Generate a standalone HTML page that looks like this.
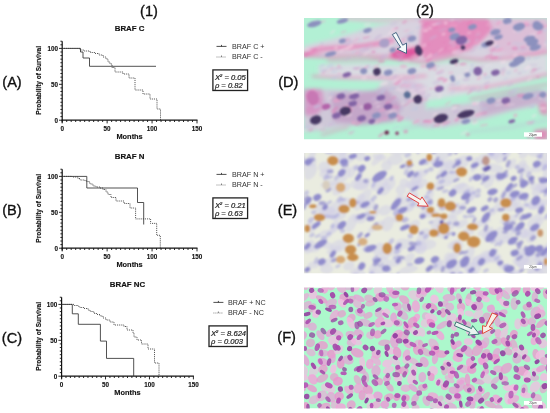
<!DOCTYPE html>
<html><head><meta charset="utf-8"><style>
html,body{margin:0;padding:0;background:#fff;width:550px;height:413px;overflow:hidden}
svg{display:block}
text{font-family:"Liberation Sans",Arial,sans-serif}
.tk{font-size:6.3px;font-weight:bold;fill:#111;stroke:#111;stroke-width:0.12px}
.ax{font-size:7.4px;font-weight:bold;fill:#111;stroke:#111;stroke-width:0.12px}
.yl{font-size:6.5px;font-weight:bold;fill:#111;stroke:#111;stroke-width:0.15px}
.ttl{font-size:7.9px;font-weight:bold;fill:#111;stroke:#111;stroke-width:0.15px}
.lg{font-size:7.2px;fill:#333}
.bx{font-size:7.6px;font-style:italic;fill:#222;stroke:#222;stroke-width:0.2px}
.big{font-size:14.6px;fill:#111;stroke:#111;stroke-width:0.35px}
</style></head><body>
<svg width="550" height="413" viewBox="0 0 550 413">
<clipPath id="cD"><rect x="304" y="18" width="243" height="121.5"/></clipPath>
<filter id="bD" x="-2%" y="-2%" width="104%" height="104%"><feGaussianBlur stdDeviation="0.9"/></filter>
<g clip-path="url(#cD)"><rect x="304" y="18" width="243" height="121.5" fill="#b2f0d4"/>
<filter id="rD" x="-5%" y="-5%" width="110%" height="110%"><feGaussianBlur stdDeviation="2"/></filter>
<g filter="url(#rD)">
<polygon points="304,46.06 333.54,38.68 363.08,29.82 392.63,22.43 426.01,18 548.02,18 548.02,53.45 510.79,57.88 481.25,59.36 451.71,54.93 426.01,62.31 392.63,57.88 363.08,54.04 333.54,55.81 304,57" fill="#decce2" fill-opacity="0.85"/>
<polygon points="422.17,18 487.16,18 493.07,29.82 481.25,41.63 469.44,50.5 445.8,55.81 426.01,59.36 419.21,50.5 420.69,32.77" fill="#e874b2" fill-opacity="0.72"/>
<polygon points="487.16,18 548.02,18 548.02,53.45 510.79,54.93 487.16,50.5 493.07,29.82" fill="#e0b2d2" fill-opacity="0.6"/>
<ellipse cx="405.92" cy="52.86" rx="16.25" ry="5.91" fill="#e04898" fill-opacity="0.9" transform="rotate(-8 405.92 52.86)"/>
<polyline points="304,53.45 321.73,49.02 342.4,47.54 363.08,46.06 380.81,43.11 392.63,40.16" fill="none" stroke="#e874b2" stroke-opacity="0.9" stroke-width="4.14" stroke-linecap="round" stroke-linejoin="round"/>
<polyline points="304,55.52 333.54,56.4 363.08,55.22 392.63,58.18 426.01,62.31 451.71,57 481.25,59.95 510.79,57.88 548.02,51.97" fill="none" stroke="#e874b2" stroke-opacity="0.8" stroke-width="2.66" stroke-linecap="round" stroke-linejoin="round"/>
<polyline points="342.4,18 377.86,20.36 422.17,18" fill="none" stroke="#ecacce" stroke-opacity="0.7" stroke-width="3.55" stroke-linecap="round" stroke-linejoin="round"/>
<polygon points="318.77,65.27 363.08,63.79 392.63,65.27 426.01,65.27 451.71,62.31 481.25,62.31 510.79,59.36 548.02,54.93 548.02,75.61 510.79,85.36 485.09,90.38 451.71,96.29 426.01,100.72 392.63,81.52 363.08,80.04 333.54,78.56 318.77,75.61" fill="#e4d6e6" fill-opacity="0.8"/>
<polyline points="312.86,76.2 348.31,77.68 392.63,77.68 426.01,75.9" fill="none" stroke="#e874b2" stroke-opacity="0.8" stroke-width="2.07" stroke-linecap="round" stroke-linejoin="round"/>
<polyline points="327.63,60.84 383.76,59.95" fill="none" stroke="#e874b2" stroke-opacity="0.7" stroke-width="1.77" stroke-linecap="round" stroke-linejoin="round"/>
<polyline points="449.64,88.9 485.09,87.42 514.64,81.52 548.02,74.13" fill="none" stroke="#e874b2" stroke-opacity="0.75" stroke-width="2.07" stroke-linecap="round" stroke-linejoin="round"/>
<polygon points="304,88.9 333.54,89.49 374.9,90.67 383.76,82.4 407.4,78.56 426.01,85.95 426.01,109.58 485.09,100.72 548.02,88.9 548.02,103.67 510.79,111.06 485.09,118.44 451.71,125.83 426.01,127.9 407.4,119.92 377.86,122.87 348.31,125.83 321.73,130.26 304,131.74" fill="#d6beda" fill-opacity="0.8"/>
<polygon points="304,88.9 321.73,88.9 324.68,106.63 315.82,115.49 304,115.49" fill="#d782be" fill-opacity="0.7"/>
<polygon points="330.59,94.22 363.08,91.86 386.72,88.9 402.97,106.63 392.63,121.4 363.08,124.94 333.54,121.99" fill="#bc8abe" fill-opacity="0.55"/>
<polygon points="481.25,100.72 510.79,93.33 540.34,88.9 546.25,100.72 510.79,109.58 481.25,115.49" fill="#bc96c3" fill-opacity="0.45"/>
<polyline points="470.32,99.24 514.64,89.79 548.02,84.47" fill="none" stroke="#e874b2" stroke-opacity="0.7" stroke-width="1.77" stroke-linecap="round" stroke-linejoin="round"/>
<polyline points="321.73,134.69 336.5,130.26 348.31,127.31" fill="none" stroke="#e874b2" stroke-opacity="0.8" stroke-width="1.48" stroke-linecap="round" stroke-linejoin="round"/>
<polyline points="401.49,128.78 426.01,124.35" fill="none" stroke="#beaad2" stroke-opacity="0.8" stroke-width="1.18" stroke-linecap="round" stroke-linejoin="round"/>
<polyline points="469.44,131.74 510.79,127.31 548.02,119.92" fill="none" stroke="#beaad2" stroke-opacity="0.7" stroke-width="1.18" stroke-linecap="round" stroke-linejoin="round"/>
<polygon points="538.27,103.67 548.02,102.19 548.02,115.49 540.34,114.01" fill="#e874b2" fill-opacity="0.7"/>
<polygon points="534.43,130.26 548.02,128.78 548.02,140.01 534.43,140.01" fill="#e874b2" fill-opacity="0.8"/>
</g>
<g filter="url(#bD)">
<ellipse cx="414.39" cy="86.3" rx="3.11" ry="1.9" fill="#bec8e1" fill-opacity="0.3" transform="rotate(-28 414.39 86.3)"/>
<ellipse cx="428.91" cy="94.85" rx="2.05" ry="1.24" fill="#c8b4d7" fill-opacity="0.38" transform="rotate(-35 428.91 94.85)"/>
<ellipse cx="521.27" cy="95.41" rx="4.67" ry="2.03" fill="#e478b4" fill-opacity="0.41" transform="rotate(-1 521.27 95.41)"/>
<ellipse cx="456.05" cy="119.47" rx="1.95" ry="1.11" fill="#eca0c8" fill-opacity="0.4" transform="rotate(-25 456.05 119.47)"/>
<ellipse cx="493.87" cy="57.81" rx="4.26" ry="1.5" fill="#e478b4" fill-opacity="0.32"/>
<ellipse cx="403.26" cy="85.26" rx="3.86" ry="1.26" fill="#eca0c8" fill-opacity="0.38" transform="rotate(-26 403.26 85.26)"/>
<ellipse cx="330.31" cy="53.49" rx="4.6" ry="1.89" fill="#eca0c8" fill-opacity="0.3" transform="rotate(-40 330.31 53.49)"/>
<ellipse cx="530.21" cy="24.38" rx="4.67" ry="1.36" fill="#bec8e1" fill-opacity="0.39" transform="rotate(-36 530.21 24.38)"/>
<ellipse cx="352.44" cy="100.34" rx="2.03" ry="1.28" fill="#f5e1eb" fill-opacity="0.44" transform="rotate(-14 352.44 100.34)"/>
<ellipse cx="332.79" cy="48.06" rx="1.8" ry="1.44" fill="#eca0c8" fill-opacity="0.29" transform="rotate(-9 332.79 48.06)"/>
<ellipse cx="440.48" cy="72.59" rx="4.68" ry="1.8" fill="#c8b4d7" fill-opacity="0.41" transform="rotate(-14 440.48 72.59)"/>
<ellipse cx="332.43" cy="69.34" rx="1.77" ry="1.91" fill="#c8b4d7" fill-opacity="0.33" transform="rotate(-3 332.43 69.34)"/>
<ellipse cx="519.92" cy="43.71" rx="4.71" ry="1.6" fill="#bec8e1" fill-opacity="0.28" transform="rotate(-4 519.92 43.71)"/>
<ellipse cx="545.41" cy="44.02" rx="1.8" ry="1.61" fill="#f5e1eb" fill-opacity="0.35" transform="rotate(-22 545.41 44.02)"/>
<ellipse cx="322.13" cy="43.47" rx="1.82" ry="1.32" fill="#c8b4d7" fill-opacity="0.36" transform="rotate(-1 322.13 43.47)"/>
<ellipse cx="538.05" cy="77.02" rx="2.17" ry="1.34" fill="#e478b4" fill-opacity="0.29"/>
<ellipse cx="350.31" cy="108.22" rx="2.35" ry="2.01" fill="#e478b4" fill-opacity="0.4" transform="rotate(-10 350.31 108.22)"/>
<ellipse cx="406.84" cy="30.67" rx="3.29" ry="1.19" fill="#eca0c8" fill-opacity="0.31" transform="rotate(-15 406.84 30.67)"/>
<ellipse cx="346.81" cy="105.89" rx="2.15" ry="1.45" fill="#eca0c8" fill-opacity="0.4" transform="rotate(-1 346.81 105.89)"/>
<ellipse cx="308.04" cy="50.84" rx="2.51" ry="0.94" fill="#bec8e1" fill-opacity="0.34" transform="rotate(-22 308.04 50.84)"/>
<ellipse cx="443.62" cy="34.05" rx="2.18" ry="1.42" fill="#f5e1eb" fill-opacity="0.41" transform="rotate(-19 443.62 34.05)"/>
<ellipse cx="472.67" cy="89.31" rx="3.52" ry="1.98" fill="#c8b4d7" fill-opacity="0.48" transform="rotate(-10 472.67 89.31)"/>
<ellipse cx="459.24" cy="76.84" rx="2.71" ry="2.07" fill="#f5e1eb" fill-opacity="0.36" transform="rotate(-36 459.24 76.84)"/>
<ellipse cx="393.74" cy="23.43" rx="4.12" ry="1.97" fill="#c8b4d7" fill-opacity="0.27" transform="rotate(-18 393.74 23.43)"/>
<ellipse cx="419.49" cy="27.48" rx="4.56" ry="0.92" fill="#bec8e1" fill-opacity="0.39" transform="rotate(-9 419.49 27.48)"/>
<ellipse cx="456.5" cy="64.65" rx="1.81" ry="0.97" fill="#e478b4" fill-opacity="0.41" transform="rotate(-35 456.5 64.65)"/>
<ellipse cx="398.79" cy="107.68" rx="3.12" ry="1.43" fill="#e478b4" fill-opacity="0.27" transform="rotate(-6 398.79 107.68)"/>
<ellipse cx="487.06" cy="21.63" rx="2.03" ry="0.91" fill="#e478b4" fill-opacity="0.37" transform="rotate(-33 487.06 21.63)"/>
<ellipse cx="306.76" cy="54.73" rx="2.37" ry="1.09" fill="#e478b4" fill-opacity="0.41" transform="rotate(-19 306.76 54.73)"/>
<ellipse cx="466.49" cy="42.22" rx="4.15" ry="1.78" fill="#bec8e1" fill-opacity="0.47" transform="rotate(-28 466.49 42.22)"/>
<ellipse cx="397.8" cy="89.14" rx="2.39" ry="1.05" fill="#f5e1eb" fill-opacity="0.46" transform="rotate(-18 397.8 89.14)"/>
<ellipse cx="511.1" cy="104.77" rx="4.2" ry="1.02" fill="#f5e1eb" fill-opacity="0.32" transform="rotate(-10 511.1 104.77)"/>
<ellipse cx="356.24" cy="68.51" rx="3.23" ry="1.26" fill="#e478b4" fill-opacity="0.36" transform="rotate(-1 356.24 68.51)"/>
<ellipse cx="322.22" cy="21.84" rx="3.78" ry="1.22" fill="#eca0c8" fill-opacity="0.33" transform="rotate(-18 322.22 21.84)"/>
<ellipse cx="497.14" cy="20.33" rx="2.97" ry="1.11" fill="#c8b4d7" fill-opacity="0.31" transform="rotate(-23 497.14 20.33)"/>
<ellipse cx="412.95" cy="94.86" rx="4.6" ry="1.7" fill="#f5e1eb" fill-opacity="0.46" transform="rotate(-28 412.95 94.86)"/>
<ellipse cx="366.48" cy="105.14" rx="3.35" ry="0.93" fill="#bec8e1" fill-opacity="0.32" transform="rotate(-26 366.48 105.14)"/>
<ellipse cx="388.37" cy="103.08" rx="3.25" ry="2.06" fill="#e478b4" fill-opacity="0.35" transform="rotate(-30 388.37 103.08)"/>
<ellipse cx="531.57" cy="106.14" rx="3.1" ry="1.12" fill="#c8b4d7" fill-opacity="0.34" transform="rotate(-40 531.57 106.14)"/>
<ellipse cx="442.8" cy="125.28" rx="3.14" ry="1.66" fill="#f5e1eb" fill-opacity="0.27" transform="rotate(-27 442.8 125.28)"/>
<ellipse cx="515.36" cy="115.4" rx="2.4" ry="1.95" fill="#eca0c8" fill-opacity="0.49" transform="rotate(-35 515.36 115.4)"/>
<ellipse cx="435.03" cy="114.48" rx="2.55" ry="1.74" fill="#f5e1eb" fill-opacity="0.34" transform="rotate(-39 435.03 114.48)"/>
<ellipse cx="324.2" cy="71.79" rx="3.02" ry="1.21" fill="#e478b4" fill-opacity="0.3" transform="rotate(-39 324.2 71.79)"/>
<ellipse cx="515.7" cy="70.33" rx="2.28" ry="1.28" fill="#eca0c8" fill-opacity="0.37" transform="rotate(-32 515.7 70.33)"/>
<ellipse cx="469.42" cy="71.7" rx="3.48" ry="1.7" fill="#bec8e1" fill-opacity="0.36" transform="rotate(-26 469.42 71.7)"/>
<ellipse cx="440.35" cy="119.41" rx="3.66" ry="1.5" fill="#e478b4" fill-opacity="0.31" transform="rotate(-5 440.35 119.41)"/>
<ellipse cx="467.81" cy="134.49" rx="2.39" ry="1.89" fill="#e478b4" fill-opacity="0.38" transform="rotate(-6 467.81 134.49)"/>
<ellipse cx="443.82" cy="42.52" rx="2.11" ry="0.89" fill="#e478b4" fill-opacity="0.26" transform="rotate(-16 443.82 42.52)"/>
<ellipse cx="499.47" cy="86.67" rx="2.05" ry="1.08" fill="#bec8e1" fill-opacity="0.36" transform="rotate(-6 499.47 86.67)"/>
<ellipse cx="364.1" cy="78.15" rx="3.05" ry="1.85" fill="#f5e1eb" fill-opacity="0.38" transform="rotate(-10 364.1 78.15)"/>
<ellipse cx="330.5" cy="69.19" rx="4.51" ry="1.04" fill="#eca0c8" fill-opacity="0.26" transform="rotate(-39 330.5 69.19)"/>
<ellipse cx="480.57" cy="47.83" rx="2.08" ry="1.75" fill="#bec8e1" fill-opacity="0.46" transform="rotate(-33 480.57 47.83)"/>
<ellipse cx="456.15" cy="105.57" rx="4.37" ry="0.91" fill="#e478b4" fill-opacity="0.35"/>
<ellipse cx="433.17" cy="37.49" rx="4.32" ry="1.52" fill="#c8b4d7" fill-opacity="0.38" transform="rotate(-27 433.17 37.49)"/>
<ellipse cx="511.72" cy="92.63" rx="4.48" ry="1.63" fill="#c8b4d7" fill-opacity="0.48" transform="rotate(-18 511.72 92.63)"/>
<ellipse cx="381.08" cy="56.43" rx="4.07" ry="1.12" fill="#c8b4d7" fill-opacity="0.28" transform="rotate(-34 381.08 56.43)"/>
<ellipse cx="362.41" cy="106.65" rx="2.92" ry="1.4" fill="#f5e1eb" fill-opacity="0.39" transform="rotate(-14 362.41 106.65)"/>
<ellipse cx="475.99" cy="42.48" rx="2.06" ry="1.56" fill="#eca0c8" fill-opacity="0.48" transform="rotate(-18 475.99 42.48)"/>
<ellipse cx="540.3" cy="32.08" rx="3.65" ry="1.29" fill="#e478b4" fill-opacity="0.45" transform="rotate(-28 540.3 32.08)"/>
<ellipse cx="421.63" cy="20.97" rx="3.58" ry="1.96" fill="#e478b4" fill-opacity="0.29" transform="rotate(-10 421.63 20.97)"/>
<ellipse cx="349.03" cy="42.88" rx="4.7" ry="1.98" fill="#c8b4d7" fill-opacity="0.39" transform="rotate(-34 349.03 42.88)"/>
<ellipse cx="336.81" cy="101.08" rx="4.03" ry="1.27" fill="#eca0c8" fill-opacity="0.36" transform="rotate(-11 336.81 101.08)"/>
<ellipse cx="390.52" cy="43.63" rx="1.81" ry="1.71" fill="#f5e1eb" fill-opacity="0.3" transform="rotate(-28 390.52 43.63)"/>
<ellipse cx="414.77" cy="108.21" rx="4.5" ry="1.6" fill="#bec8e1" fill-opacity="0.38" transform="rotate(-34 414.77 108.21)"/>
<ellipse cx="307.76" cy="126.98" rx="3.46" ry="1.11" fill="#bec8e1" fill-opacity="0.5" transform="rotate(-3 307.76 126.98)"/>
<ellipse cx="500.39" cy="49.51" rx="3.97" ry="1.81" fill="#eca0c8" fill-opacity="0.28" transform="rotate(-15 500.39 49.51)"/>
<ellipse cx="384.5" cy="83.75" rx="4.04" ry="1.79" fill="#f5e1eb" fill-opacity="0.3" transform="rotate(-15 384.5 83.75)"/>
<ellipse cx="349.1" cy="115.28" rx="3.16" ry="0.9" fill="#f5e1eb" fill-opacity="0.5" transform="rotate(-18 349.1 115.28)"/>
<ellipse cx="524.28" cy="24.05" rx="4.56" ry="1.67" fill="#f5e1eb" fill-opacity="0.3" transform="rotate(-19 524.28 24.05)"/>
<ellipse cx="403.1" cy="40.2" rx="2.92" ry="2.07" fill="#eca0c8" fill-opacity="0.43" transform="rotate(-27 403.1 40.2)"/>
<ellipse cx="454.17" cy="108.14" rx="3.08" ry="1.48" fill="#f5e1eb" fill-opacity="0.41" transform="rotate(-28 454.17 108.14)"/>
<ellipse cx="306.63" cy="49.55" rx="4.45" ry="1.54" fill="#f5e1eb" fill-opacity="0.35" transform="rotate(-8 306.63 49.55)"/>
<ellipse cx="431.05" cy="121.27" rx="3.66" ry="1.84" fill="#eca0c8" fill-opacity="0.39" transform="rotate(-36 431.05 121.27)"/>
<ellipse cx="533.04" cy="65.08" rx="4.3" ry="1.53" fill="#c8b4d7" fill-opacity="0.26" transform="rotate(-2 533.04 65.08)"/>
<ellipse cx="534.66" cy="69.33" rx="2.95" ry="1.26" fill="#e478b4" fill-opacity="0.32" transform="rotate(-7 534.66 69.33)"/>
<ellipse cx="463.86" cy="86.4" rx="3.73" ry="1.77" fill="#f5e1eb" fill-opacity="0.25" transform="rotate(-39 463.86 86.4)"/>
<ellipse cx="488.15" cy="65.58" rx="3.98" ry="0.95" fill="#f5e1eb" fill-opacity="0.27" transform="rotate(-20 488.15 65.58)"/>
<ellipse cx="524.97" cy="70.4" rx="2.51" ry="1.78" fill="#bec8e1" fill-opacity="0.38" transform="rotate(-38 524.97 70.4)"/>
<ellipse cx="532.71" cy="106.18" rx="2.2" ry="2.02" fill="#bec8e1" fill-opacity="0.4" transform="rotate(-25 532.71 106.18)"/>
<ellipse cx="332.08" cy="94.16" rx="2.12" ry="1.9" fill="#bec8e1" fill-opacity="0.38" transform="rotate(-18 332.08 94.16)"/>
<ellipse cx="334.34" cy="72.03" rx="3.12" ry="1.2" fill="#bec8e1" fill-opacity="0.42" transform="rotate(-3 334.34 72.03)"/>
<ellipse cx="392.83" cy="108.76" rx="4.59" ry="1.75" fill="#c8b4d7" fill-opacity="0.37" transform="rotate(-25 392.83 108.76)"/>
<ellipse cx="426.73" cy="55.65" rx="3.62" ry="1.31" fill="#e478b4" fill-opacity="0.4" transform="rotate(-23 426.73 55.65)"/>
<ellipse cx="480.93" cy="103.29" rx="3.64" ry="1.78" fill="#c8b4d7" fill-opacity="0.49" transform="rotate(-28 480.93 103.29)"/>
<ellipse cx="426.53" cy="97.66" rx="4.37" ry="0.93" fill="#c8b4d7" fill-opacity="0.25" transform="rotate(-37 426.53 97.66)"/>
<ellipse cx="358.31" cy="51.95" rx="4.47" ry="1.08" fill="#eca0c8" fill-opacity="0.41" transform="rotate(-25 358.31 51.95)"/>
<ellipse cx="395.06" cy="76.39" rx="2.77" ry="1.47" fill="#c8b4d7" fill-opacity="0.46" transform="rotate(-32 395.06 76.39)"/>
<ellipse cx="456.2" cy="111.79" rx="3.09" ry="1.77" fill="#c8b4d7" fill-opacity="0.45" transform="rotate(-16 456.2 111.79)"/>
<ellipse cx="394.03" cy="97.75" rx="2.73" ry="1.53" fill="#e478b4" fill-opacity="0.36" transform="rotate(-29 394.03 97.75)"/>
<ellipse cx="394.11" cy="29.84" rx="2" ry="0.98" fill="#f5e1eb" fill-opacity="0.39" transform="rotate(-4 394.11 29.84)"/>
<ellipse cx="502.95" cy="74.55" rx="2" ry="1.14" fill="#eca0c8" fill-opacity="0.27" transform="rotate(-2 502.95 74.55)"/>
<ellipse cx="378.13" cy="106.46" rx="2.61" ry="1.06" fill="#f5e1eb" fill-opacity="0.41" transform="rotate(-18 378.13 106.46)"/>
<ellipse cx="411.61" cy="90.57" rx="3.07" ry="1.84" fill="#f5e1eb" fill-opacity="0.36" transform="rotate(-21 411.61 90.57)"/>
<ellipse cx="429.95" cy="28.28" rx="1.84" ry="1.69" fill="#f5e1eb" fill-opacity="0.35" transform="rotate(-3 429.95 28.28)"/>
<ellipse cx="435.91" cy="120.05" rx="2.3" ry="0.99" fill="#e478b4" fill-opacity="0.47" transform="rotate(-11 435.91 120.05)"/>
<ellipse cx="436.78" cy="87.24" rx="3.7" ry="1.84" fill="#eca0c8" fill-opacity="0.4" transform="rotate(-36 436.78 87.24)"/>
<ellipse cx="370.77" cy="30.86" rx="2.02" ry="1.64" fill="#f5e1eb" fill-opacity="0.27" transform="rotate(-31 370.77 30.86)"/>
<ellipse cx="503.18" cy="69.49" rx="3.22" ry="1.96" fill="#c8b4d7" fill-opacity="0.44" transform="rotate(-19 503.18 69.49)"/>
<ellipse cx="400.24" cy="59.22" rx="3.23" ry="1.52" fill="#c8b4d7" fill-opacity="0.43" transform="rotate(-36 400.24 59.22)"/>
<ellipse cx="527.27" cy="68.1" rx="4.29" ry="1.84" fill="#f5e1eb" fill-opacity="0.47" transform="rotate(-35 527.27 68.1)"/>
<ellipse cx="537.72" cy="96.12" rx="2.84" ry="0.9" fill="#e478b4" fill-opacity="0.36" transform="rotate(-33 537.72 96.12)"/>
<ellipse cx="406.6" cy="35.84" rx="4.7" ry="1.33" fill="#c8b4d7" fill-opacity="0.33" transform="rotate(-30 406.6 35.84)"/>
<ellipse cx="399" cy="82.55" rx="4.64" ry="0.96" fill="#f5e1eb" fill-opacity="0.43" transform="rotate(-21 399 82.55)"/>
<ellipse cx="378.06" cy="36.97" rx="4.47" ry="1.78" fill="#c8b4d7" fill-opacity="0.4" transform="rotate(-39 378.06 36.97)"/>
<ellipse cx="525.88" cy="22.44" rx="2.36" ry="1.31" fill="#eca0c8" fill-opacity="0.31" transform="rotate(-3 525.88 22.44)"/>
<ellipse cx="479.02" cy="90.57" rx="3.08" ry="1.94" fill="#c8b4d7" fill-opacity="0.29" transform="rotate(-15 479.02 90.57)"/>
<ellipse cx="488.84" cy="56.03" rx="4.56" ry="1.54" fill="#e478b4" fill-opacity="0.37" transform="rotate(-24 488.84 56.03)"/>
<ellipse cx="492.3" cy="29.28" rx="2.95" ry="1.14" fill="#c8b4d7" fill-opacity="0.45" transform="rotate(-32 492.3 29.28)"/>
<ellipse cx="397.94" cy="82.37" rx="4.06" ry="1.82" fill="#e478b4" fill-opacity="0.41" transform="rotate(-37 397.94 82.37)"/>
<ellipse cx="394.67" cy="115.21" rx="3.56" ry="1.07" fill="#bec8e1" fill-opacity="0.44" transform="rotate(-30 394.67 115.21)"/>
<ellipse cx="335.99" cy="108.49" rx="2.56" ry="1.52" fill="#e478b4" fill-opacity="0.39" transform="rotate(-31 335.99 108.49)"/>
<ellipse cx="347.51" cy="42.93" rx="4.2" ry="0.98" fill="#c8b4d7" fill-opacity="0.4" transform="rotate(-23 347.51 42.93)"/>
<ellipse cx="432.83" cy="126.55" rx="2.02" ry="1.77" fill="#bec8e1" fill-opacity="0.46" transform="rotate(-6 432.83 126.55)"/>
<ellipse cx="378.08" cy="114.3" rx="2.34" ry="1.69" fill="#bec8e1" fill-opacity="0.3" transform="rotate(-12 378.08 114.3)"/>
<ellipse cx="436.59" cy="82.14" rx="4.57" ry="2.03" fill="#c8b4d7" fill-opacity="0.33" transform="rotate(-20 436.59 82.14)"/>
<ellipse cx="322.55" cy="55.3" rx="3.74" ry="0.97" fill="#bec8e1" fill-opacity="0.42" transform="rotate(-36 322.55 55.3)"/>
<ellipse cx="329.81" cy="66.1" rx="3.98" ry="1.81" fill="#bec8e1" fill-opacity="0.41" transform="rotate(-33 329.81 66.1)"/>
<ellipse cx="354.45" cy="93.17" rx="3.63" ry="1.99" fill="#f5e1eb" fill-opacity="0.49" transform="rotate(-21 354.45 93.17)"/>
<ellipse cx="488.21" cy="85.79" rx="2.53" ry="1.12" fill="#eca0c8" fill-opacity="0.33" transform="rotate(-33 488.21 85.79)"/>
<ellipse cx="384.93" cy="118.89" rx="2.07" ry="1.62" fill="#eca0c8" fill-opacity="0.42" transform="rotate(-32 384.93 118.89)"/>
<ellipse cx="476.84" cy="39.95" rx="1.88" ry="1.43" fill="#bec8e1" fill-opacity="0.28" transform="rotate(-35 476.84 39.95)"/>
<ellipse cx="530.18" cy="34.97" rx="4.04" ry="1.86" fill="#c8b4d7" fill-opacity="0.37" transform="rotate(-16 530.18 34.97)"/>
<ellipse cx="528.82" cy="94.01" rx="3.58" ry="1.26" fill="#bec8e1" fill-opacity="0.42" transform="rotate(-25 528.82 94.01)"/>
<ellipse cx="452.51" cy="20.26" rx="2.33" ry="1.25" fill="#f5e1eb" fill-opacity="0.28" transform="rotate(-12 452.51 20.26)"/>
<ellipse cx="396.14" cy="80.15" rx="4.21" ry="1.61" fill="#f5e1eb" fill-opacity="0.31" transform="rotate(-30 396.14 80.15)"/>
<ellipse cx="435.49" cy="54.42" rx="2.81" ry="1.48" fill="#c8b4d7" fill-opacity="0.39" transform="rotate(-31 435.49 54.42)"/>
<ellipse cx="352.36" cy="131.9" rx="3.45" ry="0.92" fill="#c8b4d7" fill-opacity="0.44" transform="rotate(-28 352.36 131.9)"/>
<ellipse cx="337.25" cy="76.31" rx="3.83" ry="1.28" fill="#bec8e1" fill-opacity="0.32" transform="rotate(-17 337.25 76.31)"/>
<ellipse cx="519.46" cy="73.18" rx="2.48" ry="1.56" fill="#c8b4d7" fill-opacity="0.39" transform="rotate(-6 519.46 73.18)"/>
<ellipse cx="440.73" cy="50.26" rx="3.55" ry="1.03" fill="#f5e1eb" fill-opacity="0.32" transform="rotate(-40 440.73 50.26)"/>
<ellipse cx="522.89" cy="47.39" rx="2.85" ry="1.08" fill="#e478b4" fill-opacity="0.39" transform="rotate(-2 522.89 47.39)"/>
<ellipse cx="379.07" cy="99.9" rx="3.59" ry="1.64" fill="#bec8e1" fill-opacity="0.29" transform="rotate(-39 379.07 99.9)"/>
<ellipse cx="404.54" cy="22.03" rx="2.91" ry="1.56" fill="#e478b4" fill-opacity="0.33" transform="rotate(-29 404.54 22.03)"/>
<ellipse cx="336.08" cy="47.79" rx="1.93" ry="1.81" fill="#f5e1eb" fill-opacity="0.35" transform="rotate(-31 336.08 47.79)"/>
<ellipse cx="425.41" cy="30.51" rx="2.99" ry="1.62" fill="#f5e1eb" fill-opacity="0.44" transform="rotate(-4 425.41 30.51)"/>
<ellipse cx="487.43" cy="77.27" rx="4.25" ry="1.9" fill="#bec8e1" fill-opacity="0.46" transform="rotate(-14 487.43 77.27)"/>
<ellipse cx="332.64" cy="31.99" rx="3.32" ry="1.4" fill="#f5e1eb" fill-opacity="0.33" transform="rotate(-39 332.64 31.99)"/>
<ellipse cx="317.34" cy="106.53" rx="3.94" ry="1.59" fill="#bec8e1" fill-opacity="0.47" transform="rotate(-21 317.34 106.53)"/>
<ellipse cx="518.02" cy="47.81" rx="2.49" ry="1.92" fill="#bec8e1" fill-opacity="0.37" transform="rotate(-37 518.02 47.81)"/>
<ellipse cx="464.28" cy="132.72" rx="4.33" ry="1.38" fill="#f5e1eb" fill-opacity="0.31" transform="rotate(-30 464.28 132.72)"/>
<ellipse cx="486.19" cy="87.16" rx="2.06" ry="1.82" fill="#eca0c8" fill-opacity="0.47" transform="rotate(-33 486.19 87.16)"/>
<ellipse cx="444.53" cy="73.29" rx="2.49" ry="1.24" fill="#f5e1eb" fill-opacity="0.29" transform="rotate(-20 444.53 73.29)"/>
<ellipse cx="411.56" cy="72.91" rx="2.95" ry="1.31" fill="#e478b4" fill-opacity="0.31" transform="rotate(-3 411.56 72.91)"/>
<ellipse cx="378.72" cy="73.5" rx="2.68" ry="1.48" fill="#f5e1eb" fill-opacity="0.47" transform="rotate(-10 378.72 73.5)"/>
<ellipse cx="353.46" cy="122.81" rx="2.35" ry="1.88" fill="#eca0c8" fill-opacity="0.47" transform="rotate(-18 353.46 122.81)"/>
<ellipse cx="307.91" cy="95.52" rx="2.37" ry="1.63" fill="#e478b4" fill-opacity="0.49" transform="rotate(-28 307.91 95.52)"/>
<ellipse cx="542.23" cy="97.32" rx="3.92" ry="1.26" fill="#f5e1eb" fill-opacity="0.47" transform="rotate(-23 542.23 97.32)"/>
<ellipse cx="478.02" cy="34.46" rx="3" ry="1.09" fill="#bec8e1" fill-opacity="0.28" transform="rotate(-21 478.02 34.46)"/>
<ellipse cx="472.65" cy="50.81" rx="3.25" ry="1.24" fill="#c8b4d7" fill-opacity="0.34" transform="rotate(-23 472.65 50.81)"/>
<ellipse cx="359.88" cy="54.72" rx="2.59" ry="1.64" fill="#c8b4d7" fill-opacity="0.37" transform="rotate(-35 359.88 54.72)"/>
<ellipse cx="322.61" cy="129.9" rx="3.34" ry="0.94" fill="#eca0c8" fill-opacity="0.4" transform="rotate(-2 322.61 129.9)"/>
<ellipse cx="435.1" cy="69.66" rx="2.03" ry="1.22" fill="#e478b4" fill-opacity="0.31" transform="rotate(-28 435.1 69.66)"/>
<ellipse cx="416.65" cy="109.58" rx="1.78" ry="1.94" fill="#bec8e1" fill-opacity="0.29" transform="rotate(-37 416.65 109.58)"/>
<ellipse cx="439.68" cy="96.69" rx="2.72" ry="1.46" fill="#f5e1eb" fill-opacity="0.38" transform="rotate(-38 439.68 96.69)"/>
<ellipse cx="427.38" cy="121.15" rx="3.97" ry="1.51" fill="#e478b4" fill-opacity="0.44" transform="rotate(-2 427.38 121.15)"/>
<ellipse cx="344.31" cy="92.19" rx="3.75" ry="1.53" fill="#c8b4d7" fill-opacity="0.45" transform="rotate(-24 344.31 92.19)"/>
<ellipse cx="497.05" cy="46.79" rx="3.38" ry="1.89" fill="#bec8e1" fill-opacity="0.37" transform="rotate(-2 497.05 46.79)"/>
<ellipse cx="312.62" cy="90.82" rx="3.46" ry="1.92" fill="#eca0c8" fill-opacity="0.33" transform="rotate(-29 312.62 90.82)"/>
<ellipse cx="452.44" cy="92.25" rx="3.26" ry="1.74" fill="#bec8e1" fill-opacity="0.27" transform="rotate(-39 452.44 92.25)"/>
<ellipse cx="497.17" cy="47.04" rx="1.93" ry="1.39" fill="#c8b4d7" fill-opacity="0.45" transform="rotate(-20 497.17 47.04)"/>
<ellipse cx="484.2" cy="113.25" rx="3.24" ry="1.65" fill="#e478b4" fill-opacity="0.29" transform="rotate(-8 484.2 113.25)"/>
<ellipse cx="366.18" cy="37.5" rx="4.1" ry="0.96" fill="#e478b4" fill-opacity="0.37" transform="rotate(-14 366.18 37.5)"/>
<ellipse cx="474.48" cy="103.87" rx="2.15" ry="1.78" fill="#eca0c8" fill-opacity="0.5" transform="rotate(-2 474.48 103.87)"/>
<ellipse cx="339.28" cy="73.55" rx="1.78" ry="1.37" fill="#eca0c8" fill-opacity="0.29" transform="rotate(-7 339.28 73.55)"/>
<ellipse cx="399.88" cy="54.37" rx="4.54" ry="2.03" fill="#bec8e1" fill-opacity="0.31" transform="rotate(-1 399.88 54.37)"/>
<ellipse cx="514.93" cy="90.07" rx="4.31" ry="1.99" fill="#bec8e1" fill-opacity="0.35" transform="rotate(-27 514.93 90.07)"/>
<ellipse cx="494.66" cy="44.28" rx="2.5" ry="1.82" fill="#f5e1eb" fill-opacity="0.37" transform="rotate(-30 494.66 44.28)"/>
<ellipse cx="401.66" cy="90.46" rx="3.17" ry="1.47" fill="#f5e1eb" fill-opacity="0.42"/>
<ellipse cx="514.52" cy="42.96" rx="3.01" ry="0.94" fill="#bec8e1" fill-opacity="0.34" transform="rotate(-23 514.52 42.96)"/>
<ellipse cx="368.01" cy="65.94" rx="2.57" ry="1.31" fill="#c8b4d7" fill-opacity="0.43" transform="rotate(-31 368.01 65.94)"/>
<ellipse cx="493.57" cy="34.73" rx="3.91" ry="1.96" fill="#c8b4d7" fill-opacity="0.5" transform="rotate(-39 493.57 34.73)"/>
<ellipse cx="508.69" cy="72.9" rx="2.73" ry="1.8" fill="#bec8e1" fill-opacity="0.42" transform="rotate(-7 508.69 72.9)"/>
<ellipse cx="377.75" cy="92.17" rx="1.89" ry="1.06" fill="#bec8e1" fill-opacity="0.28" transform="rotate(-2 377.75 92.17)"/>
<ellipse cx="354.88" cy="68.11" rx="3.38" ry="1.05" fill="#bec8e1" fill-opacity="0.32" transform="rotate(-5 354.88 68.11)"/>
<ellipse cx="353.98" cy="52.2" rx="2.97" ry="1.34" fill="#bec8e1" fill-opacity="0.31" transform="rotate(-18 353.98 52.2)"/>
<ellipse cx="442.1" cy="116.68" rx="3.72" ry="0.97" fill="#f5e1eb" fill-opacity="0.39" transform="rotate(-27 442.1 116.68)"/>
<ellipse cx="390.23" cy="32.9" rx="2.47" ry="1.63" fill="#f5e1eb" fill-opacity="0.45" transform="rotate(-35 390.23 32.9)"/>
<ellipse cx="333.24" cy="78.14" rx="2.91" ry="1.27" fill="#bec8e1" fill-opacity="0.43" transform="rotate(-9 333.24 78.14)"/>
<ellipse cx="431" cy="108.63" rx="3.19" ry="1.19" fill="#c8b4d7" fill-opacity="0.33" transform="rotate(-5 431 108.63)"/>
<ellipse cx="376.55" cy="117.46" rx="3.67" ry="1.34" fill="#c8b4d7" fill-opacity="0.49" transform="rotate(-19 376.55 117.46)"/>
<ellipse cx="392.49" cy="88.3" rx="4.05" ry="1.63" fill="#c8b4d7" fill-opacity="0.39" transform="rotate(-1 392.49 88.3)"/>
<ellipse cx="453.54" cy="25.76" rx="4.22" ry="1.93" fill="#eca0c8" fill-opacity="0.49" transform="rotate(-16 453.54 25.76)"/>
<ellipse cx="397.94" cy="116.07" rx="2.58" ry="1.47" fill="#e478b4" fill-opacity="0.49" transform="rotate(-10 397.94 116.07)"/>
<ellipse cx="340.57" cy="41.48" rx="2.54" ry="1.15" fill="#c8b4d7" fill-opacity="0.25" transform="rotate(-7 340.57 41.48)"/>
<ellipse cx="436.7" cy="66.06" rx="3.39" ry="1.89" fill="#c8b4d7" fill-opacity="0.27" transform="rotate(-5 436.7 66.06)"/>
<ellipse cx="498.38" cy="50.22" rx="4.39" ry="1.26" fill="#eca0c8" fill-opacity="0.42" transform="rotate(-27 498.38 50.22)"/>
<ellipse cx="342.91" cy="93.84" rx="4.15" ry="1.23" fill="#bec8e1" fill-opacity="0.32" transform="rotate(-14 342.91 93.84)"/>
<ellipse cx="486.76" cy="83.15" rx="3.68" ry="1.31" fill="#c8b4d7" fill-opacity="0.48" transform="rotate(-29 486.76 83.15)"/>
<ellipse cx="483.97" cy="125.06" rx="4.39" ry="1.25" fill="#eca0c8" fill-opacity="0.38" transform="rotate(-12 483.97 125.06)"/>
<ellipse cx="469.75" cy="22.93" rx="4.33" ry="1.91" fill="#e478b4" fill-opacity="0.34" transform="rotate(-37 469.75 22.93)"/>
<ellipse cx="400.97" cy="108.22" rx="2.52" ry="1.64" fill="#bec8e1" fill-opacity="0.43" transform="rotate(-17 400.97 108.22)"/>
<ellipse cx="406.63" cy="104.25" rx="3.96" ry="1.2" fill="#e478b4" fill-opacity="0.28" transform="rotate(-30 406.63 104.25)"/>
<ellipse cx="395.98" cy="99.67" rx="3.7" ry="2.04" fill="#c8b4d7" fill-opacity="0.4" transform="rotate(-10 395.98 99.67)"/>
<ellipse cx="471.78" cy="69.16" rx="2.91" ry="1.69" fill="#bec8e1" fill-opacity="0.26" transform="rotate(-32 471.78 69.16)"/>
<ellipse cx="478.05" cy="32.44" rx="2.35" ry="1.31" fill="#eca0c8" fill-opacity="0.5" transform="rotate(-6 478.05 32.44)"/>
<ellipse cx="436.4" cy="76.94" rx="1.97" ry="1.4" fill="#f5e1eb" fill-opacity="0.31" transform="rotate(-22 436.4 76.94)"/>
<ellipse cx="480.15" cy="67.8" rx="4.67" ry="1.35" fill="#c8b4d7" fill-opacity="0.39" transform="rotate(-27 480.15 67.8)"/>
<ellipse cx="499.26" cy="35.92" rx="4.24" ry="1.54" fill="#c8b4d7" fill-opacity="0.47" transform="rotate(-24 499.26 35.92)"/>
<ellipse cx="409.57" cy="36.53" rx="2.57" ry="1.56" fill="#eca0c8" fill-opacity="0.41" transform="rotate(-23 409.57 36.53)"/>
<ellipse cx="370.86" cy="45.76" rx="2.37" ry="1.54" fill="#bec8e1" fill-opacity="0.26" transform="rotate(-5 370.86 45.76)"/>
<ellipse cx="319.71" cy="126.91" rx="3.75" ry="0.89" fill="#f5e1eb" fill-opacity="0.37" transform="rotate(-19 319.71 126.91)"/>
<ellipse cx="547.32" cy="42.67" rx="3.2" ry="1.38" fill="#bec8e1" fill-opacity="0.35" transform="rotate(-5 547.32 42.67)"/>
<ellipse cx="456.03" cy="51.81" rx="4.33" ry="2.06" fill="#f5e1eb" fill-opacity="0.39" transform="rotate(-12 456.03 51.81)"/>
<ellipse cx="533.57" cy="23.73" rx="4.56" ry="1.52" fill="#eca0c8" fill-opacity="0.32" transform="rotate(-36 533.57 23.73)"/>
<ellipse cx="392.95" cy="111.56" rx="4.17" ry="1.82" fill="#f5e1eb" fill-opacity="0.35" transform="rotate(-9 392.95 111.56)"/>
<ellipse cx="544.59" cy="30.3" rx="2.96" ry="1.72" fill="#bec8e1" fill-opacity="0.47" transform="rotate(-24 544.59 30.3)"/>
<ellipse cx="456.2" cy="19.16" rx="2.44" ry="1.35" fill="#c8b4d7" fill-opacity="0.38" transform="rotate(-17 456.2 19.16)"/>
<ellipse cx="413.76" cy="56.09" rx="4.45" ry="1.27" fill="#eca0c8" fill-opacity="0.32" transform="rotate(-34 413.76 56.09)"/>
<ellipse cx="356.13" cy="39.97" rx="3.97" ry="1.53" fill="#eca0c8" fill-opacity="0.29" transform="rotate(-27 356.13 39.97)"/>
<ellipse cx="402.43" cy="57.23" rx="4.25" ry="1.79" fill="#e478b4" fill-opacity="0.47" transform="rotate(-39 402.43 57.23)"/>
<ellipse cx="382.3" cy="110.01" rx="3.48" ry="1.27" fill="#eca0c8" fill-opacity="0.49" transform="rotate(-10 382.3 110.01)"/>
<ellipse cx="357.59" cy="67.81" rx="4.17" ry="0.97" fill="#c8b4d7" fill-opacity="0.49" transform="rotate(-16 357.59 67.81)"/>
<ellipse cx="382.63" cy="40.38" rx="3.32" ry="0.9" fill="#f5e1eb" fill-opacity="0.42"/>
<ellipse cx="526.31" cy="24.75" rx="3.59" ry="1.94" fill="#e478b4" fill-opacity="0.36"/>
<ellipse cx="484.25" cy="108.79" rx="3.74" ry="1.38" fill="#bec8e1" fill-opacity="0.38" transform="rotate(-16 484.25 108.79)"/>
<ellipse cx="395.62" cy="84.03" rx="3.29" ry="0.92" fill="#eca0c8" fill-opacity="0.36"/>
<ellipse cx="383.24" cy="83.52" rx="4.71" ry="1.76" fill="#f5e1eb" fill-opacity="0.3" transform="rotate(-20 383.24 83.52)"/>
<ellipse cx="418.43" cy="85.31" rx="4.34" ry="1.04" fill="#eca0c8" fill-opacity="0.28" transform="rotate(-9 418.43 85.31)"/>
<ellipse cx="365.44" cy="49.9" rx="4.34" ry="1.73" fill="#c8b4d7" fill-opacity="0.38" transform="rotate(-24 365.44 49.9)"/>
<ellipse cx="389.11" cy="43.31" rx="4.33" ry="1.12" fill="#eca0c8" fill-opacity="0.49" transform="rotate(-23 389.11 43.31)"/>
<ellipse cx="362.21" cy="31.09" rx="4.1" ry="1.47" fill="#bec8e1" fill-opacity="0.27" transform="rotate(-25 362.21 31.09)"/>
<ellipse cx="425.19" cy="24.83" rx="4.65" ry="0.96" fill="#e478b4" fill-opacity="0.45" transform="rotate(-31 425.19 24.83)"/>
<ellipse cx="347.57" cy="58.72" rx="4.24" ry="1.02" fill="#c8b4d7" fill-opacity="0.4" transform="rotate(-29 347.57 58.72)"/>
<ellipse cx="311.6" cy="101.2" rx="4.44" ry="0.97" fill="#bec8e1" fill-opacity="0.38" transform="rotate(-27 311.6 101.2)"/>
<ellipse cx="381.21" cy="134.77" rx="3.75" ry="1.4" fill="#e478b4" fill-opacity="0.45" transform="rotate(-40 381.21 134.77)"/>
<ellipse cx="474.78" cy="121.06" rx="2.39" ry="1.13" fill="#e478b4" fill-opacity="0.29" transform="rotate(-32 474.78 121.06)"/>
<ellipse cx="445.66" cy="23.05" rx="2.12" ry="2" fill="#f5e1eb" fill-opacity="0.41" transform="rotate(-1 445.66 23.05)"/>
<ellipse cx="354.16" cy="105.57" rx="4.05" ry="1.12" fill="#f5e1eb" fill-opacity="0.41" transform="rotate(-36 354.16 105.57)"/>
<ellipse cx="407.64" cy="118.07" rx="2.6" ry="1.04" fill="#bec8e1" fill-opacity="0.49" transform="rotate(-33 407.64 118.07)"/>
<ellipse cx="388.52" cy="103.85" rx="3.23" ry="1.03" fill="#c8b4d7" fill-opacity="0.47" transform="rotate(-33 388.52 103.85)"/>
<ellipse cx="373.91" cy="122.25" rx="2.44" ry="1.45" fill="#bec8e1" fill-opacity="0.44" transform="rotate(-28 373.91 122.25)"/>
<ellipse cx="450.72" cy="72.71" rx="2.86" ry="1.28" fill="#eca0c8" fill-opacity="0.36" transform="rotate(-3 450.72 72.71)"/>
<ellipse cx="536.92" cy="53.74" rx="3.76" ry="1.18" fill="#eca0c8" fill-opacity="0.34" transform="rotate(-14 536.92 53.74)"/>
<ellipse cx="448.78" cy="123.69" rx="3.02" ry="1.29" fill="#bec8e1" fill-opacity="0.28" transform="rotate(-3 448.78 123.69)"/>
<ellipse cx="464.43" cy="73.29" rx="2.03" ry="1.32" fill="#c8b4d7" fill-opacity="0.26" transform="rotate(-17 464.43 73.29)"/>
<ellipse cx="448.03" cy="103.08" rx="3.75" ry="1.07" fill="#eca0c8" fill-opacity="0.34" transform="rotate(-36 448.03 103.08)"/>
<ellipse cx="417.43" cy="56.56" rx="1.95" ry="1.15" fill="#e478b4" fill-opacity="0.5" transform="rotate(-39 417.43 56.56)"/>
<ellipse cx="400.42" cy="119.11" rx="3.84" ry="2.07" fill="#e478b4" fill-opacity="0.5" transform="rotate(-36 400.42 119.11)"/>
<ellipse cx="464.12" cy="114.42" rx="3.3" ry="1.58" fill="#c8b4d7" fill-opacity="0.34" transform="rotate(-9 464.12 114.42)"/>
<ellipse cx="338.89" cy="66.15" rx="1.78" ry="2.02" fill="#eca0c8" fill-opacity="0.45" transform="rotate(-1 338.89 66.15)"/>
<ellipse cx="525.11" cy="98.94" rx="4.07" ry="1.03" fill="#bec8e1" fill-opacity="0.29" transform="rotate(-11 525.11 98.94)"/>
<ellipse cx="519.24" cy="31.29" rx="3.36" ry="1.52" fill="#bec8e1" fill-opacity="0.44" transform="rotate(-33 519.24 31.29)"/>
<ellipse cx="320.53" cy="47.02" rx="3.28" ry="1.25" fill="#eca0c8" fill-opacity="0.44" transform="rotate(-18 320.53 47.02)"/>
<ellipse cx="364.22" cy="68.5" rx="4.7" ry="1.58" fill="#eca0c8" fill-opacity="0.39" transform="rotate(-30 364.22 68.5)"/>
<ellipse cx="416.1" cy="121.8" rx="4.16" ry="1.48" fill="#eca0c8" fill-opacity="0.49" transform="rotate(-31 416.1 121.8)"/>
<ellipse cx="432.1" cy="67.59" rx="4.62" ry="1.73" fill="#e478b4" fill-opacity="0.35" transform="rotate(-33 432.1 67.59)"/>
<ellipse cx="483.22" cy="104.94" rx="2.64" ry="1.62" fill="#c8b4d7" fill-opacity="0.28" transform="rotate(-15 483.22 104.94)"/>
<ellipse cx="510.85" cy="23.62" rx="2.66" ry="1.14" fill="#bec8e1" fill-opacity="0.28" transform="rotate(-6 510.85 23.62)"/>
<ellipse cx="528.21" cy="58.11" rx="2.37" ry="2.06" fill="#bec8e1" fill-opacity="0.49" transform="rotate(-5 528.21 58.11)"/>
<ellipse cx="442.58" cy="79.12" rx="2.94" ry="1.24" fill="#eca0c8" fill-opacity="0.31" transform="rotate(-2 442.58 79.12)"/>
<ellipse cx="393.76" cy="70.37" rx="2.91" ry="1.65" fill="#bec8e1" fill-opacity="0.36" transform="rotate(-19 393.76 70.37)"/>
<ellipse cx="316.1" cy="119.96" rx="2.25" ry="1.34" fill="#eca0c8" fill-opacity="0.35" transform="rotate(-20 316.1 119.96)"/>
<ellipse cx="380.72" cy="77.05" rx="3.31" ry="1.51" fill="#c8b4d7" fill-opacity="0.34" transform="rotate(-40 380.72 77.05)"/>
<ellipse cx="448.77" cy="30.8" rx="2.83" ry="1.18" fill="#e478b4" fill-opacity="0.42" transform="rotate(-2 448.77 30.8)"/>
<ellipse cx="508.99" cy="43.6" rx="1.94" ry="1.1" fill="#e478b4" fill-opacity="0.38" transform="rotate(-33 508.99 43.6)"/>
<ellipse cx="487.94" cy="24.47" rx="2.4" ry="1.58" fill="#eca0c8" fill-opacity="0.41" transform="rotate(-13 487.94 24.47)"/>
<ellipse cx="395.11" cy="28.95" rx="3.78" ry="0.99" fill="#e478b4" fill-opacity="0.46" transform="rotate(-26 395.11 28.95)"/>
<ellipse cx="384.08" cy="56.72" rx="4.1" ry="1.65" fill="#c8b4d7" fill-opacity="0.5" transform="rotate(-37 384.08 56.72)"/>
<ellipse cx="423.65" cy="66.22" rx="3.4" ry="1.98" fill="#eca0c8" fill-opacity="0.43"/>
<ellipse cx="437.44" cy="118.51" rx="3.01" ry="1.69" fill="#bec8e1" fill-opacity="0.29" transform="rotate(-36 437.44 118.51)"/>
<ellipse cx="324.37" cy="101.62" rx="2.89" ry="1.42" fill="#c8b4d7" fill-opacity="0.45" transform="rotate(-13 324.37 101.62)"/>
<ellipse cx="506.94" cy="104.87" rx="2.95" ry="1.7" fill="#eca0c8" fill-opacity="0.28" transform="rotate(-5 506.94 104.87)"/>
<ellipse cx="515.79" cy="29.84" rx="3.36" ry="1.88" fill="#f5e1eb" fill-opacity="0.29" transform="rotate(-33 515.79 29.84)"/>
<ellipse cx="370.87" cy="67.73" rx="4.52" ry="1.12" fill="#bec8e1" fill-opacity="0.37" transform="rotate(-9 370.87 67.73)"/>
<ellipse cx="472.27" cy="65.34" rx="2.08" ry="1.76" fill="#bec8e1" fill-opacity="0.44" transform="rotate(-30 472.27 65.34)"/>
<ellipse cx="462.95" cy="64" rx="3.79" ry="1.42" fill="#e478b4" fill-opacity="0.46" transform="rotate(-3 462.95 64)"/>
<ellipse cx="391.42" cy="89.23" rx="3.85" ry="1.35" fill="#bec8e1" fill-opacity="0.42" transform="rotate(-35 391.42 89.23)"/>
<ellipse cx="361" cy="49.88" rx="3.47" ry="1.19" fill="#bec8e1" fill-opacity="0.45" transform="rotate(-36 361 49.88)"/>
<ellipse cx="366.18" cy="47.68" rx="3.05" ry="1.62" fill="#c8b4d7" fill-opacity="0.29" transform="rotate(-5 366.18 47.68)"/>
<ellipse cx="404.97" cy="82.79" rx="3.21" ry="1.16" fill="#bec8e1" fill-opacity="0.28" transform="rotate(-1 404.97 82.79)"/>
<ellipse cx="378.8" cy="121.39" rx="4.71" ry="1.3" fill="#eca0c8" fill-opacity="0.39" transform="rotate(-30 378.8 121.39)"/>
<ellipse cx="385.27" cy="36.49" rx="4.15" ry="1" fill="#f5e1eb" fill-opacity="0.3" transform="rotate(-31 385.27 36.49)"/>
<ellipse cx="333.48" cy="111.32" rx="2.27" ry="2.06" fill="#e478b4" fill-opacity="0.42" transform="rotate(-17 333.48 111.32)"/>
<ellipse cx="374.98" cy="122.64" rx="2.1" ry="1.31" fill="#f5e1eb" fill-opacity="0.38" transform="rotate(-29 374.98 122.64)"/>
<ellipse cx="365.87" cy="53.75" rx="3.43" ry="1.2" fill="#f5e1eb" fill-opacity="0.32" transform="rotate(-36 365.87 53.75)"/>
<ellipse cx="373.56" cy="51.87" rx="2.22" ry="1.35" fill="#e478b4" fill-opacity="0.46" transform="rotate(-6 373.56 51.87)"/>
<ellipse cx="452.7" cy="84.35" rx="3.35" ry="1.67" fill="#c8b4d7" fill-opacity="0.44" transform="rotate(-3 452.7 84.35)"/>
<ellipse cx="367.41" cy="24.63" rx="3.7" ry="1.53" fill="#f5e1eb" fill-opacity="0.36" transform="rotate(-10 367.41 24.63)"/>
<ellipse cx="394.4" cy="106.97" rx="2.57" ry="1.74" fill="#e478b4" fill-opacity="0.27" transform="rotate(-26 394.4 106.97)"/>
<ellipse cx="438.19" cy="88.14" rx="2.67" ry="0.89" fill="#eca0c8" fill-opacity="0.49" transform="rotate(-4 438.19 88.14)"/>
<ellipse cx="338.34" cy="68.43" rx="4.68" ry="1.7" fill="#c8b4d7" fill-opacity="0.39" transform="rotate(-7 338.34 68.43)"/>
<ellipse cx="410.58" cy="100.9" rx="3.33" ry="1.3" fill="#eca0c8" fill-opacity="0.48" transform="rotate(-9 410.58 100.9)"/>
<ellipse cx="518.65" cy="30.41" rx="3.21" ry="0.98" fill="#c8b4d7" fill-opacity="0.26" transform="rotate(-9 518.65 30.41)"/>
<ellipse cx="523.47" cy="49.24" rx="3.85" ry="2" fill="#c8b4d7" fill-opacity="0.49" transform="rotate(-6 523.47 49.24)"/>
<ellipse cx="529.8" cy="122.76" rx="3.57" ry="1.83" fill="#eca0c8" fill-opacity="0.4" transform="rotate(-4 529.8 122.76)"/>
<ellipse cx="331.27" cy="124.03" rx="3" ry="1.06" fill="#eca0c8" fill-opacity="0.42" transform="rotate(-29 331.27 124.03)"/>
<ellipse cx="430.83" cy="88.77" rx="1.77" ry="0.97" fill="#eca0c8" fill-opacity="0.49" transform="rotate(-27 430.83 88.77)"/>
<ellipse cx="507.36" cy="67.73" rx="2.42" ry="1.35" fill="#f5e1eb" fill-opacity="0.32" transform="rotate(-25 507.36 67.73)"/>
<ellipse cx="446.91" cy="82.19" rx="3.31" ry="1.3" fill="#f5e1eb" fill-opacity="0.48" transform="rotate(-25 446.91 82.19)"/>
<ellipse cx="405.07" cy="42.5" rx="2.52" ry="1.45" fill="#c8b4d7" fill-opacity="0.3" transform="rotate(-19 405.07 42.5)"/>
<ellipse cx="469.47" cy="92.46" rx="3.32" ry="1.19" fill="#e478b4" fill-opacity="0.3" transform="rotate(-39 469.47 92.46)"/>
<ellipse cx="435.79" cy="27.59" rx="2.49" ry="1.14" fill="#e478b4" fill-opacity="0.39" transform="rotate(-14 435.79 27.59)"/>
<ellipse cx="337.69" cy="99.72" rx="4.46" ry="2.06" fill="#eca0c8" fill-opacity="0.5" transform="rotate(-16 337.69 99.72)"/>
<ellipse cx="406.27" cy="99.8" rx="2.77" ry="1.82" fill="#c8b4d7" fill-opacity="0.48" transform="rotate(-16 406.27 99.8)"/>
<ellipse cx="424.26" cy="45.59" rx="2.78" ry="1.99" fill="#f5e1eb" fill-opacity="0.45" transform="rotate(-31 424.26 45.59)"/>
<ellipse cx="475.21" cy="46.91" rx="2.86" ry="1.75" fill="#bec8e1" fill-opacity="0.29" transform="rotate(-23 475.21 46.91)"/>
<ellipse cx="469.04" cy="33.02" rx="2.31" ry="1.03" fill="#f5e1eb" fill-opacity="0.38" transform="rotate(-7 469.04 33.02)"/>
<ellipse cx="503.14" cy="71.98" rx="2.55" ry="1" fill="#e478b4" fill-opacity="0.25" transform="rotate(-26 503.14 71.98)"/>
<ellipse cx="528.9" cy="137.02" rx="2.32" ry="2.03" fill="#e478b4" fill-opacity="0.39"/>
<ellipse cx="375.85" cy="114.73" rx="3.13" ry="1.6" fill="#e478b4" fill-opacity="0.37" transform="rotate(-9 375.85 114.73)"/>
<ellipse cx="350.56" cy="133.18" rx="3.07" ry="1.58" fill="#eca0c8" fill-opacity="0.26" transform="rotate(-6 350.56 133.18)"/>
<ellipse cx="343.73" cy="39.11" rx="4.61" ry="0.91" fill="#c8b4d7" fill-opacity="0.45" transform="rotate(-13 343.73 39.11)"/>
<ellipse cx="425.81" cy="97.65" rx="1.85" ry="1.29" fill="#bec8e1" fill-opacity="0.33" transform="rotate(-30 425.81 97.65)"/>
<ellipse cx="314.14" cy="49.79" rx="3.43" ry="1.7" fill="#e478b4" fill-opacity="0.41" transform="rotate(-24 314.14 49.79)"/>
<ellipse cx="381.38" cy="61.51" rx="3.58" ry="1.39" fill="#e478b4" fill-opacity="0.37" transform="rotate(-3 381.38 61.51)"/>
<ellipse cx="532.36" cy="122.07" rx="3.16" ry="1.55" fill="#c8b4d7" fill-opacity="0.44" transform="rotate(-22 532.36 122.07)"/>
<ellipse cx="402.5" cy="103.66" rx="2.61" ry="1" fill="#f5e1eb" fill-opacity="0.34" transform="rotate(-40 402.5 103.66)"/>
<ellipse cx="440.49" cy="78.67" rx="3.69" ry="1.7" fill="#e478b4" fill-opacity="0.35" transform="rotate(-9 440.49 78.67)"/>
<ellipse cx="425.46" cy="121.32" rx="3.14" ry="0.99" fill="#e478b4" fill-opacity="0.41" transform="rotate(-9 425.46 121.32)"/>
<ellipse cx="435.4" cy="24.13" rx="4.14" ry="1.16" fill="#f5e1eb" fill-opacity="0.45" transform="rotate(-15 435.4 24.13)"/>
<ellipse cx="408" cy="85.74" rx="3.22" ry="1.46" fill="#eca0c8" fill-opacity="0.33" transform="rotate(-22 408 85.74)"/>
<ellipse cx="466.45" cy="79.36" rx="3.68" ry="1.7" fill="#c8b4d7" fill-opacity="0.45" transform="rotate(-12 466.45 79.36)"/>
<ellipse cx="498.59" cy="104.83" rx="4.14" ry="1.09" fill="#f5e1eb" fill-opacity="0.33" transform="rotate(-10 498.59 104.83)"/>
<ellipse cx="428.89" cy="59.87" rx="3.77" ry="1.36" fill="#e478b4" fill-opacity="0.49" transform="rotate(-36 428.89 59.87)"/>
<ellipse cx="342.99" cy="49.68" rx="4.35" ry="1.25" fill="#f5e1eb" fill-opacity="0.4" transform="rotate(-29 342.99 49.68)"/>
<ellipse cx="493.08" cy="49.9" rx="3.69" ry="1.77" fill="#e478b4" fill-opacity="0.36" transform="rotate(-37 493.08 49.9)"/>
<ellipse cx="403.45" cy="66.13" rx="3.45" ry="2" fill="#eca0c8" fill-opacity="0.48"/>
<ellipse cx="358.9" cy="104.75" rx="1.84" ry="1.08" fill="#eca0c8" fill-opacity="0.31" transform="rotate(-26 358.9 104.75)"/>
<ellipse cx="454.88" cy="32.36" rx="3.3" ry="1.26" fill="#c8b4d7" fill-opacity="0.42" transform="rotate(-23 454.88 32.36)"/>
<ellipse cx="310.57" cy="50.56" rx="2.75" ry="1.98" fill="#eca0c8" fill-opacity="0.32" transform="rotate(-39 310.57 50.56)"/>
<ellipse cx="536.31" cy="93.57" rx="4.06" ry="1.28" fill="#bec8e1" fill-opacity="0.3" transform="rotate(-23 536.31 93.57)"/>
<ellipse cx="545.99" cy="26.04" rx="4.32" ry="1.52" fill="#eca0c8" fill-opacity="0.44" transform="rotate(-10 545.99 26.04)"/>
<ellipse cx="432.39" cy="53.18" rx="2.85" ry="1.4" fill="#e478b4" fill-opacity="0.27" transform="rotate(-15 432.39 53.18)"/>
<ellipse cx="535.55" cy="96.04" rx="2.41" ry="1.97" fill="#bec8e1" fill-opacity="0.48" transform="rotate(-10 535.55 96.04)"/>
<ellipse cx="323.29" cy="70.38" rx="3.8" ry="1.79" fill="#bec8e1" fill-opacity="0.45" transform="rotate(-5 323.29 70.38)"/>
<ellipse cx="529.64" cy="79.01" rx="3.5" ry="1.38" fill="#f5e1eb" fill-opacity="0.38" transform="rotate(-40 529.64 79.01)"/>
<ellipse cx="350.21" cy="111.47" rx="3.59" ry="1.1" fill="#eca0c8" fill-opacity="0.45" transform="rotate(-23 350.21 111.47)"/>
<ellipse cx="498.55" cy="23.06" rx="3.12" ry="1.4" fill="#eca0c8" fill-opacity="0.49" transform="rotate(-34 498.55 23.06)"/>
<ellipse cx="351.3" cy="48.82" rx="3.4" ry="0.89" fill="#eca0c8" fill-opacity="0.42" transform="rotate(-11 351.3 48.82)"/>
<ellipse cx="410.78" cy="33.6" rx="3.24" ry="1.81" fill="#bec8e1" fill-opacity="0.35" transform="rotate(-25 410.78 33.6)"/>
<ellipse cx="315.33" cy="104.69" rx="2.5" ry="1.56" fill="#c8b4d7" fill-opacity="0.25" transform="rotate(-15 315.33 104.69)"/>
<ellipse cx="321.78" cy="65.7" rx="3.6" ry="1.13" fill="#bec8e1" fill-opacity="0.46" transform="rotate(-25 321.78 65.7)"/>
<ellipse cx="422.75" cy="89.71" rx="4.51" ry="1.64" fill="#f5e1eb" fill-opacity="0.33" transform="rotate(-19 422.75 89.71)"/>
<ellipse cx="357.91" cy="123.62" rx="3.48" ry="1.76" fill="#e478b4" fill-opacity="0.31" transform="rotate(-28 357.91 123.62)"/>
<ellipse cx="497.09" cy="104.39" rx="2.38" ry="1.67" fill="#bec8e1" fill-opacity="0.36" transform="rotate(-27 497.09 104.39)"/>
<ellipse cx="381" cy="94.11" rx="4.35" ry="1.62" fill="#bec8e1" fill-opacity="0.36" transform="rotate(-35 381 94.11)"/>
<ellipse cx="395.75" cy="127.56" rx="4.39" ry="0.97" fill="#bec8e1" fill-opacity="0.32" transform="rotate(-26 395.75 127.56)"/>
<ellipse cx="467.2" cy="71.09" rx="2.44" ry="1.8" fill="#f5e1eb" fill-opacity="0.4" transform="rotate(-6 467.2 71.09)"/>
<ellipse cx="481.42" cy="86.72" rx="1.82" ry="1.38" fill="#bec8e1" fill-opacity="0.31" transform="rotate(-13 481.42 86.72)"/>
<ellipse cx="453.71" cy="44.95" rx="2.66" ry="2.02" fill="#bec8e1" fill-opacity="0.26" transform="rotate(-13 453.71 44.95)"/>
<ellipse cx="446.26" cy="118.2" rx="1.97" ry="2.04" fill="#bec8e1" fill-opacity="0.44" transform="rotate(-19 446.26 118.2)"/>
<ellipse cx="445.27" cy="48.69" rx="2.98" ry="1.07" fill="#e478b4" fill-opacity="0.28" transform="rotate(-39 445.27 48.69)"/>
<ellipse cx="494.49" cy="57.62" rx="4.58" ry="1.21" fill="#e478b4" fill-opacity="0.34" transform="rotate(-4 494.49 57.62)"/>
<ellipse cx="536.6" cy="57.9" rx="3.73" ry="1.23" fill="#bec8e1" fill-opacity="0.42" transform="rotate(-14 536.6 57.9)"/>
<ellipse cx="439.97" cy="71.64" rx="4.59" ry="1.3" fill="#eca0c8" fill-opacity="0.27" transform="rotate(-37 439.97 71.64)"/>
<ellipse cx="377.3" cy="102.42" rx="4.22" ry="1.34" fill="#f5e1eb" fill-opacity="0.29" transform="rotate(-23 377.3 102.42)"/>
<ellipse cx="445.12" cy="80.67" rx="2.88" ry="1.66" fill="#e478b4" fill-opacity="0.45" transform="rotate(-31 445.12 80.67)"/>
<ellipse cx="456.85" cy="119.8" rx="2.51" ry="1.1" fill="#e478b4" fill-opacity="0.48" transform="rotate(-33 456.85 119.8)"/>
<ellipse cx="459.44" cy="21.26" rx="2.55" ry="1.46" fill="#c8b4d7" fill-opacity="0.26" transform="rotate(-3 459.44 21.26)"/>
<ellipse cx="475.65" cy="103.32" rx="4.17" ry="1.95" fill="#f5e1eb" fill-opacity="0.43" transform="rotate(-10 475.65 103.32)"/>
<ellipse cx="310.75" cy="129.93" rx="2.6" ry="1.48" fill="#e478b4" fill-opacity="0.31" transform="rotate(-18 310.75 129.93)"/>
<ellipse cx="358.35" cy="93.61" rx="3.69" ry="1.98" fill="#c8b4d7" fill-opacity="0.47" transform="rotate(-12 358.35 93.61)"/>
<ellipse cx="346.85" cy="40.24" rx="3.77" ry="1.09" fill="#e478b4" fill-opacity="0.4" transform="rotate(-18 346.85 40.24)"/>
<ellipse cx="388.96" cy="111.93" rx="4.35" ry="1.15" fill="#f5e1eb" fill-opacity="0.26" transform="rotate(-17 388.96 111.93)"/>
<ellipse cx="424.29" cy="99.6" rx="4.04" ry="1.69" fill="#eca0c8" fill-opacity="0.26" transform="rotate(-3 424.29 99.6)"/>
<ellipse cx="383.08" cy="90.41" rx="3.55" ry="1.91" fill="#bec8e1" fill-opacity="0.45" transform="rotate(-36 383.08 90.41)"/>
<ellipse cx="439.12" cy="23.34" rx="3.83" ry="1.27" fill="#c8b4d7" fill-opacity="0.44" transform="rotate(-11 439.12 23.34)"/>
<ellipse cx="304.85" cy="130.71" rx="2.54" ry="0.91" fill="#f5e1eb" fill-opacity="0.35" transform="rotate(-21 304.85 130.71)"/>
<ellipse cx="346.07" cy="39.12" rx="4.27" ry="1.44" fill="#c8b4d7" fill-opacity="0.3" transform="rotate(-8 346.07 39.12)"/>
<ellipse cx="437" cy="125.4" rx="4.13" ry="1.41" fill="#e478b4" fill-opacity="0.31" transform="rotate(-8 437 125.4)"/>
<ellipse cx="503.3" cy="62.2" rx="3.16" ry="1.51" fill="#f5e1eb" fill-opacity="0.5" transform="rotate(-6 503.3 62.2)"/>
<ellipse cx="376.28" cy="65.78" rx="3.61" ry="1.22" fill="#eca0c8" fill-opacity="0.34" transform="rotate(-28 376.28 65.78)"/>
<ellipse cx="426.31" cy="45.65" rx="4.7" ry="1.97" fill="#e478b4" fill-opacity="0.27" transform="rotate(-28 426.31 45.65)"/>
<ellipse cx="429.62" cy="55.8" rx="3.3" ry="2.06" fill="#f5e1eb" fill-opacity="0.38" transform="rotate(-36 429.62 55.8)"/>
<ellipse cx="331.49" cy="123.71" rx="3.88" ry="1.77" fill="#bec8e1" fill-opacity="0.39" transform="rotate(-12 331.49 123.71)"/>
<ellipse cx="533.22" cy="71.14" rx="3.52" ry="1.57" fill="#e478b4" fill-opacity="0.27" transform="rotate(-29 533.22 71.14)"/>
<ellipse cx="485.69" cy="47.56" rx="2.41" ry="1.41" fill="#bec8e1" fill-opacity="0.45" transform="rotate(-6 485.69 47.56)"/>
<ellipse cx="307" cy="106.03" rx="3.56" ry="1.17" fill="#c8b4d7" fill-opacity="0.33" transform="rotate(-21 307 106.03)"/>
<ellipse cx="459.4" cy="50" rx="4.01" ry="0.95" fill="#c8b4d7" fill-opacity="0.43" transform="rotate(-38 459.4 50)"/>
<ellipse cx="478.62" cy="114.51" rx="3.96" ry="1.93" fill="#eca0c8" fill-opacity="0.45" transform="rotate(-20 478.62 114.51)"/>
<ellipse cx="515.3" cy="55.1" rx="2.92" ry="1.65" fill="#f5e1eb" fill-opacity="0.37" transform="rotate(-14 515.3 55.1)"/>
<ellipse cx="540.29" cy="47.27" rx="2.57" ry="1.12" fill="#f5e1eb" fill-opacity="0.27" transform="rotate(-35 540.29 47.27)"/>
<ellipse cx="349.5" cy="46.94" rx="4.54" ry="1.67" fill="#f5e1eb" fill-opacity="0.49" transform="rotate(-33 349.5 46.94)"/>
<ellipse cx="479.06" cy="78.21" rx="2.98" ry="1.58" fill="#eca0c8" fill-opacity="0.38" transform="rotate(-33 479.06 78.21)"/>
<ellipse cx="315.9" cy="21.41" rx="3.42" ry="1.35" fill="#f5e1eb" fill-opacity="0.41" transform="rotate(-3 315.9 21.41)"/>
<ellipse cx="452.33" cy="42.88" rx="3.25" ry="1.79" fill="#eca0c8" fill-opacity="0.41" transform="rotate(-4 452.33 42.88)"/>
<ellipse cx="413.43" cy="77.11" rx="2" ry="1.91" fill="#eca0c8" fill-opacity="0.28" transform="rotate(-38 413.43 77.11)"/>
<ellipse cx="397.59" cy="45.5" rx="3.6" ry="1.77" fill="#bec8e1" fill-opacity="0.43" transform="rotate(-17 397.59 45.5)"/>
<ellipse cx="316.6" cy="118.69" rx="2.59" ry="1.61" fill="#c8b4d7" fill-opacity="0.31" transform="rotate(-39 316.6 118.69)"/>
<ellipse cx="461.92" cy="35.69" rx="2.18" ry="1.29" fill="#eca0c8" fill-opacity="0.4" transform="rotate(-38 461.92 35.69)"/>
<ellipse cx="360.12" cy="39.95" rx="2.1" ry="1.12" fill="#bec8e1" fill-opacity="0.38"/>
<ellipse cx="321.24" cy="118.84" rx="2.98" ry="1.33" fill="#bec8e1" fill-opacity="0.27" transform="rotate(-8 321.24 118.84)"/>
<ellipse cx="305.37" cy="55.51" rx="1.86" ry="1.84" fill="#e478b4" fill-opacity="0.36" transform="rotate(-40 305.37 55.51)"/>
<ellipse cx="373.78" cy="99.1" rx="2.91" ry="1.72" fill="#c8b4d7" fill-opacity="0.48" transform="rotate(-17 373.78 99.1)"/>
<ellipse cx="330.28" cy="97.68" rx="2.61" ry="1.23" fill="#f5e1eb" fill-opacity="0.42" transform="rotate(-34 330.28 97.68)"/>
<ellipse cx="529.66" cy="40.66" rx="4.33" ry="1.29" fill="#bec8e1" fill-opacity="0.28" transform="rotate(-24 529.66 40.66)"/>
<ellipse cx="543.08" cy="108.35" rx="3.52" ry="1.69" fill="#f5e1eb" fill-opacity="0.47" transform="rotate(-4 543.08 108.35)"/>
<ellipse cx="444.82" cy="126.58" rx="3.71" ry="2.02" fill="#bec8e1" fill-opacity="0.31" transform="rotate(-31 444.82 126.58)"/>
<ellipse cx="425.2" cy="28.97" rx="3.06" ry="1.57" fill="#eca0c8" fill-opacity="0.33" transform="rotate(-27 425.2 28.97)"/>
<ellipse cx="452.08" cy="41.36" rx="3.75" ry="1.91" fill="#bec8e1" fill-opacity="0.32" transform="rotate(-39 452.08 41.36)"/>
<ellipse cx="393.21" cy="102.65" rx="3.37" ry="1.2" fill="#c8b4d7" fill-opacity="0.39" transform="rotate(-16 393.21 102.65)"/>
<ellipse cx="545.91" cy="95.8" rx="3.05" ry="1.97" fill="#eca0c8" fill-opacity="0.29" transform="rotate(-10 545.91 95.8)"/>
<ellipse cx="416.96" cy="75.85" rx="2.56" ry="1.55" fill="#bec8e1" fill-opacity="0.33" transform="rotate(-25 416.96 75.85)"/>
<ellipse cx="484.98" cy="74.49" rx="2.22" ry="1.81" fill="#e478b4" fill-opacity="0.28" transform="rotate(-28 484.98 74.49)"/>
<ellipse cx="510.09" cy="84.55" rx="3.46" ry="1.68" fill="#c8b4d7" fill-opacity="0.34" transform="rotate(-37 510.09 84.55)"/>
<ellipse cx="531.75" cy="34.97" rx="3.79" ry="1.53" fill="#f5e1eb" fill-opacity="0.49" transform="rotate(-17 531.75 34.97)"/>
<ellipse cx="318" cy="97.08" rx="2.45" ry="0.92" fill="#bec8e1" fill-opacity="0.46" transform="rotate(-30 318 97.08)"/>
<ellipse cx="474.96" cy="122.96" rx="3.76" ry="1.75" fill="#f5e1eb" fill-opacity="0.39" transform="rotate(-13 474.96 122.96)"/>
<ellipse cx="446.03" cy="123.3" rx="4.65" ry="1.23" fill="#e478b4" fill-opacity="0.41" transform="rotate(-22 446.03 123.3)"/>
<ellipse cx="418.3" cy="19.31" rx="4.29" ry="1.46" fill="#bec8e1" fill-opacity="0.29" transform="rotate(-8 418.3 19.31)"/>
<ellipse cx="393.16" cy="29.82" rx="1.99" ry="1.61" fill="#f5e1eb" fill-opacity="0.45" transform="rotate(-14 393.16 29.82)"/>
<ellipse cx="401.12" cy="76.54" rx="2.01" ry="1.03" fill="#f5e1eb" fill-opacity="0.38" transform="rotate(-15 401.12 76.54)"/>
<ellipse cx="442.81" cy="29.97" rx="4.03" ry="1.41" fill="#c8b4d7" fill-opacity="0.33" transform="rotate(-22 442.81 29.97)"/>
<ellipse cx="343.61" cy="31.83" rx="3.45" ry="1.07" fill="#eca0c8" fill-opacity="0.36" transform="rotate(-19 343.61 31.83)"/>
<ellipse cx="451.64" cy="24.21" rx="2.76" ry="1.06" fill="#eca0c8" fill-opacity="0.28" transform="rotate(-36 451.64 24.21)"/>
<ellipse cx="313.07" cy="97.55" rx="2.96" ry="1.97" fill="#bec8e1" fill-opacity="0.46" transform="rotate(-27 313.07 97.55)"/>
<ellipse cx="526.36" cy="39.78" rx="2.66" ry="1.97" fill="#bec8e1" fill-opacity="0.44" transform="rotate(-27 526.36 39.78)"/>
<ellipse cx="537.7" cy="69.15" rx="4.58" ry="1.62" fill="#c8b4d7" fill-opacity="0.27" transform="rotate(-20 537.7 69.15)"/>
<ellipse cx="405.69" cy="131.53" rx="2.48" ry="1.88" fill="#e478b4" fill-opacity="0.49" transform="rotate(-8 405.69 131.53)"/>
<ellipse cx="515.06" cy="48.36" rx="3.3" ry="1.92" fill="#e478b4" fill-opacity="0.44" transform="rotate(-2 515.06 48.36)"/>
<ellipse cx="473.95" cy="106.77" rx="1.96" ry="1.49" fill="#bec8e1" fill-opacity="0.29" transform="rotate(-26 473.95 106.77)"/>
<ellipse cx="505.65" cy="78.55" rx="2.85" ry="1.32" fill="#bec8e1" fill-opacity="0.31" transform="rotate(-29 505.65 78.55)"/>
<ellipse cx="452.01" cy="48.24" rx="3.85" ry="1.59" fill="#eca0c8" fill-opacity="0.49" transform="rotate(-1 452.01 48.24)"/>
<ellipse cx="409.49" cy="46.84" rx="4.46" ry="1.81" fill="#f5e1eb" fill-opacity="0.41" transform="rotate(-33 409.49 46.84)"/>
<ellipse cx="499.15" cy="100.51" rx="2.91" ry="1.65" fill="#f5e1eb" fill-opacity="0.35" transform="rotate(-24 499.15 100.51)"/>
<ellipse cx="457.64" cy="83.17" rx="2.44" ry="1.92" fill="#bec8e1" fill-opacity="0.42" transform="rotate(-18 457.64 83.17)"/>
<ellipse cx="533.98" cy="115.67" rx="2.67" ry="1.45" fill="#f5e1eb" fill-opacity="0.41" transform="rotate(-27 533.98 115.67)"/>
<ellipse cx="499.84" cy="57.79" rx="1.81" ry="1.38" fill="#c8b4d7" fill-opacity="0.45" transform="rotate(-35 499.84 57.79)"/>
<ellipse cx="451.15" cy="19.85" rx="3.15" ry="1.46" fill="#bec8e1" fill-opacity="0.26" transform="rotate(-20 451.15 19.85)"/>
<ellipse cx="406.73" cy="61.14" rx="3.61" ry="1.78" fill="#f5e1eb" fill-opacity="0.28" transform="rotate(-4 406.73 61.14)"/>
<ellipse cx="314.34" cy="23.91" rx="7.39" ry="2.95" fill="#8c91be" fill-opacity="1" transform="rotate(-15 314.34 23.91)"/>
<ellipse cx="342.4" cy="20.95" rx="5.91" ry="2.36" fill="#8c91be" fill-opacity="1" transform="rotate(-15 342.4 20.95)"/>
<ellipse cx="330.59" cy="54.04" rx="5.91" ry="2.36" fill="#8c91be" fill-opacity="1" transform="rotate(-15 330.59 54.04)"/>
<ellipse cx="342.4" cy="41.04" rx="3.55" ry="2.36" fill="#8c91be" fill-opacity="1" transform="rotate(-15 342.4 41.04)"/>
<ellipse cx="367.52" cy="30.41" rx="4.43" ry="2.36" fill="#8c91be" fill-opacity="1" transform="rotate(-15 367.52 30.41)"/>
<ellipse cx="384.35" cy="43.11" rx="5.32" ry="4.43" fill="#aaa0c8" fill-opacity="1" transform="rotate(-15 384.35 43.11)"/>
<ellipse cx="411.83" cy="38.68" rx="4.43" ry="2.95" fill="#8c91be" fill-opacity="1" transform="rotate(-15 411.83 38.68)"/>
<ellipse cx="418.62" cy="50.5" rx="3.55" ry="5.32" fill="#463764" fill-opacity="1" transform="rotate(-15 418.62 50.5)"/>
<ellipse cx="392.63" cy="49.91" rx="2.95" ry="2.36" fill="#8c91be" fill-opacity="1" transform="rotate(-15 392.63 49.91)"/>
<ellipse cx="346.84" cy="74.72" rx="4.43" ry="2.36" fill="#8264a5" fill-opacity="1" transform="rotate(-15 346.84 74.72)"/>
<ellipse cx="363.68" cy="71.18" rx="3.55" ry="2.95" fill="#8c91be" fill-opacity="1" transform="rotate(-15 363.68 71.18)"/>
<ellipse cx="376.97" cy="71.77" rx="3.84" ry="3.84" fill="#463764" fill-opacity="1" transform="rotate(-15 376.97 71.77)"/>
<ellipse cx="411.83" cy="71.18" rx="4.43" ry="2.95" fill="#8c91be" fill-opacity="1" transform="rotate(-15 411.83 71.18)"/>
<ellipse cx="388.19" cy="72.65" rx="4.43" ry="2.95" fill="#8c91be" fill-opacity="1" transform="rotate(-15 388.19 72.65)"/>
<ellipse cx="340.93" cy="96.29" rx="4.43" ry="2.95" fill="#8264a5" fill-opacity="1" transform="rotate(-15 340.93 96.29)"/>
<ellipse cx="345.36" cy="111.06" rx="5.91" ry="4.43" fill="#463764" fill-opacity="1" transform="rotate(-15 345.36 111.06)"/>
<ellipse cx="352.74" cy="103.67" rx="4.43" ry="2.95" fill="#8264a5" fill-opacity="1" transform="rotate(-15 352.74 103.67)"/>
<ellipse cx="361.61" cy="118.44" rx="4.43" ry="2.95" fill="#8264a5" fill-opacity="1" transform="rotate(-15 361.61 118.44)"/>
<ellipse cx="376.38" cy="115.49" rx="4.43" ry="2.95" fill="#8c91be" fill-opacity="1" transform="rotate(-15 376.38 115.49)"/>
<ellipse cx="388.19" cy="106.63" rx="4.43" ry="2.95" fill="#8264a5" fill-opacity="1" transform="rotate(-15 388.19 106.63)"/>
<ellipse cx="407.4" cy="94.81" rx="3.55" ry="3.55" fill="#5a6e96" fill-opacity="1" transform="rotate(-15 407.4 94.81)"/>
<ellipse cx="417.74" cy="99.24" rx="4.43" ry="4.43" fill="#463764" fill-opacity="1" transform="rotate(-15 417.74 99.24)"/>
<ellipse cx="315.82" cy="119.92" rx="5.91" ry="4.43" fill="#463764" fill-opacity="1" transform="rotate(-15 315.82 119.92)"/>
<ellipse cx="312.86" cy="97.76" rx="5.91" ry="7.39" fill="#c878b4" fill-opacity="1" transform="rotate(-15 312.86 97.76)"/>
<ellipse cx="336.5" cy="115.49" rx="4.43" ry="2.95" fill="#8264a5" fill-opacity="1" transform="rotate(-15 336.5 115.49)"/>
<ellipse cx="451.71" cy="29.82" rx="3.55" ry="2.36" fill="#8c91be" fill-opacity="1" transform="rotate(-15 451.71 29.82)"/>
<ellipse cx="354.22" cy="96.29" rx="5.32" ry="2.95" fill="#8264a5" fill-opacity="1" transform="rotate(-15 354.22 96.29)"/>
<ellipse cx="367.52" cy="106.63" rx="4.43" ry="3.55" fill="#965aa0" fill-opacity="1" transform="rotate(-15 367.52 106.63)"/>
<ellipse cx="380.81" cy="97.76" rx="4.43" ry="2.95" fill="#8264a5" fill-opacity="1" transform="rotate(-15 380.81 97.76)"/>
<ellipse cx="371.95" cy="121.4" rx="3.55" ry="2.36" fill="#8264a5" fill-opacity="1" transform="rotate(-15 371.95 121.4)"/>
<ellipse cx="392.63" cy="115.49" rx="4.43" ry="2.95" fill="#8c91be" fill-opacity="1" transform="rotate(-15 392.63 115.49)"/>
<ellipse cx="326.16" cy="106.63" rx="4.43" ry="2.95" fill="#b464aa" fill-opacity="1" transform="rotate(-15 326.16 106.63)"/>
<ellipse cx="454.66" cy="36.61" rx="5.32" ry="3.55" fill="#8c91be" fill-opacity="1" transform="rotate(-15 454.66 36.61)"/>
<ellipse cx="495.43" cy="32.18" rx="5.32" ry="2.95" fill="#8c91be" fill-opacity="1" transform="rotate(-15 495.43 32.18)"/>
<ellipse cx="519.07" cy="26.86" rx="6.2" ry="3.84" fill="#8c91be" fill-opacity="1" transform="rotate(-15 519.07 26.86)"/>
<ellipse cx="532.36" cy="42.22" rx="6.2" ry="3.84" fill="#8c91be" fill-opacity="1" transform="rotate(-15 532.36 42.22)"/>
<ellipse cx="519.07" cy="59.95" rx="6.2" ry="3.84" fill="#8c91be" fill-opacity="1" transform="rotate(-15 519.07 59.95)"/>
<ellipse cx="485.68" cy="44.59" rx="4.43" ry="2.66" fill="#8c91be" fill-opacity="1" transform="rotate(-15 485.68 44.59)"/>
<ellipse cx="539.16" cy="26.86" rx="4.43" ry="3.55" fill="#8c91be" fill-opacity="1" transform="rotate(-15 539.16 26.86)"/>
<ellipse cx="472.39" cy="26.86" rx="4.43" ry="2.66" fill="#8c91be" fill-opacity="1" transform="rotate(-15 472.39 26.86)"/>
<ellipse cx="386.72" cy="132.62" rx="2.36" ry="2.07" fill="#6e2850" fill-opacity="1" transform="rotate(-15 386.72 132.62)"/>
<ellipse cx="397.06" cy="133.21" rx="1.77" ry="1.77" fill="#8c3c6e" fill-opacity="1" transform="rotate(-15 397.06 133.21)"/>
<ellipse cx="461.46" cy="40.16" rx="5.91" ry="4.43" fill="#8264a5" fill-opacity="1" transform="rotate(-15 461.46 40.16)"/>
<ellipse cx="462.94" cy="47.54" rx="2.36" ry="2.36" fill="#463764" fill-opacity="1" transform="rotate(-15 462.94 47.54)"/>
<ellipse cx="507.25" cy="20.95" rx="4.43" ry="2.95" fill="#8c91be" fill-opacity="1" transform="rotate(-15 507.25 20.95)"/>
<ellipse cx="536.79" cy="25.39" rx="4.43" ry="4.43" fill="#8c91be" fill-opacity="1" transform="rotate(-15 536.79 25.39)"/>
<ellipse cx="529.41" cy="38.68" rx="5.91" ry="2.95" fill="#8c91be" fill-opacity="1" transform="rotate(-15 529.41 38.68)"/>
<ellipse cx="489.52" cy="43.11" rx="4.43" ry="2.36" fill="#463764" fill-opacity="1" transform="rotate(-15 489.52 43.11)"/>
<ellipse cx="535.31" cy="47.54" rx="5.91" ry="2.95" fill="#8c91be" fill-opacity="1" transform="rotate(-15 535.31 47.54)"/>
<ellipse cx="498.39" cy="37.2" rx="4.43" ry="2.36" fill="#8c91be" fill-opacity="1" transform="rotate(-15 498.39 37.2)"/>
<ellipse cx="430.44" cy="65.27" rx="4.43" ry="2.95" fill="#8c91be" fill-opacity="1" transform="rotate(-15 430.44 65.27)"/>
<ellipse cx="454.07" cy="61.43" rx="4.43" ry="2.36" fill="#463764" fill-opacity="1" transform="rotate(-15 454.07 61.43)"/>
<ellipse cx="477.71" cy="71.18" rx="4.43" ry="4.43" fill="#8264a5" fill-opacity="1" transform="rotate(-15 477.71 71.18)"/>
<ellipse cx="495.43" cy="72.65" rx="4.43" ry="2.95" fill="#8264a5" fill-opacity="1" transform="rotate(-15 495.43 72.65)"/>
<ellipse cx="514.64" cy="63.79" rx="5.91" ry="2.95" fill="#8c91be" fill-opacity="1" transform="rotate(-15 514.64 63.79)"/>
<ellipse cx="467.37" cy="74.72" rx="2.95" ry="2.36" fill="#8c91be" fill-opacity="1" transform="rotate(-15 467.37 74.72)"/>
<ellipse cx="452.6" cy="78.56" rx="2.36" ry="3.55" fill="#8c91be" fill-opacity="1" transform="rotate(-15 452.6 78.56)"/>
<ellipse cx="439.3" cy="88.9" rx="4.43" ry="2.95" fill="#8264a5" fill-opacity="1" transform="rotate(-15 439.3 88.9)"/>
<ellipse cx="440.78" cy="118.44" rx="7.39" ry="4.43" fill="#463764" fill-opacity="1" transform="rotate(-15 440.78 118.44)"/>
<ellipse cx="465.89" cy="114.01" rx="8.86" ry="3.55" fill="#463764" fill-opacity="1" transform="rotate(-15 465.89 114.01)"/>
<ellipse cx="491" cy="100.72" rx="4.43" ry="2.95" fill="#8c91be" fill-opacity="1" transform="rotate(-15 491 100.72)"/>
<ellipse cx="505.77" cy="100.72" rx="4.43" ry="2.95" fill="#8264a5" fill-opacity="1" transform="rotate(-15 505.77 100.72)"/>
<ellipse cx="527.93" cy="96.29" rx="5.91" ry="2.95" fill="#8c91be" fill-opacity="1" transform="rotate(-15 527.93 96.29)"/>
<ellipse cx="542.7" cy="94.81" rx="3.55" ry="2.95" fill="#8c91be" fill-opacity="1" transform="rotate(-15 542.7 94.81)"/>
<ellipse cx="465.89" cy="121.4" rx="4.43" ry="2.36" fill="#8c91be" fill-opacity="1" transform="rotate(-15 465.89 121.4)"/>
<ellipse cx="511.68" cy="121.4" rx="3.55" ry="1.77" fill="#8264a5" fill-opacity="1" transform="rotate(-15 511.68 121.4)"/>
</g>
<polygon points="392.33,34.54 396.17,32.48 402.67,45.18 406.51,43.11 406.51,53.45 397.06,49.02 400.6,47.25" fill="#f4fbfb" stroke="#3a5a7a" stroke-width="0.9" stroke-linejoin="round"/><rect x="524" y="132.3" width="18" height="4.4" fill="#fff"/><text x="533" y="135.8" font-size="3.2" text-anchor="middle" fill="#333">20µm</text>
</g><clipPath id="cE"><rect x="304" y="153" width="243" height="120.5"/></clipPath>
<filter id="bE" x="-2%" y="-2%" width="104%" height="104%"><feGaussianBlur stdDeviation="0.9"/></filter>
<g clip-path="url(#cE)"><rect x="304" y="153" width="243" height="120.5" fill="#eaece0"/>
<filter id="rE" x="-5%" y="-5%" width="110%" height="110%"><feGaussianBlur stdDeviation="2.5"/></filter>
<g filter="url(#rE)">
</g>
<g filter="url(#bE)">
<ellipse cx="359.5" cy="218.6" rx="6.8" ry="4.8" fill="#d4d1e6" fill-opacity="0.55" transform="rotate(10 359.5 218.6)"/>
<ellipse cx="445.2" cy="226.3" rx="9.5" ry="4.4" fill="#d4d1e6" fill-opacity="0.55" transform="rotate(0 445.2 226.3)"/>
<ellipse cx="358.6" cy="275.5" rx="7.4" ry="5.5" fill="#d4d1e6" fill-opacity="0.55" transform="rotate(-10 358.6 275.5)"/>
<ellipse cx="399.3" cy="258.5" rx="6.2" ry="3.5" fill="#d4d1e6" fill-opacity="0.55" transform="rotate(-4 399.3 258.5)"/>
<ellipse cx="397.5" cy="151.9" rx="8.9" ry="3.5" fill="#d4d1e6" fill-opacity="0.55" transform="rotate(5 397.5 151.9)"/>
<ellipse cx="310.7" cy="248.3" rx="9.1" ry="3.8" fill="#d4d1e6" fill-opacity="0.55" transform="rotate(6 310.7 248.3)"/>
<ellipse cx="479.7" cy="260.7" rx="8.6" ry="5.8" fill="#d4d1e6" fill-opacity="0.55" transform="rotate(-20 479.7 260.7)"/>
<ellipse cx="482.0" cy="222.7" rx="9.8" ry="3.4" fill="#d4d1e6" fill-opacity="0.55" transform="rotate(-24 482.0 222.7)"/>
<ellipse cx="324.4" cy="167.1" rx="6.1" ry="5.9" fill="#d4d1e6" fill-opacity="0.55" transform="rotate(-15 324.4 167.1)"/>
<ellipse cx="494.7" cy="257.8" rx="7.1" ry="5.5" fill="#d4d1e6" fill-opacity="0.55" transform="rotate(3 494.7 257.8)"/>
<ellipse cx="387.7" cy="223.7" rx="7.9" ry="5.7" fill="#d4d1e6" fill-opacity="0.55" transform="rotate(-67 387.7 223.7)"/>
<ellipse cx="514.1" cy="274.9" rx="8.4" ry="3.5" fill="#d4d1e6" fill-opacity="0.55" transform="rotate(-29 514.1 274.9)"/>
<ellipse cx="541.2" cy="264.0" rx="7.8" ry="5.1" fill="#d4d1e6" fill-opacity="0.55" transform="rotate(-43 541.2 264.0)"/>
<ellipse cx="458.2" cy="274.5" rx="6.3" ry="3.4" fill="#d4d1e6" fill-opacity="0.55" transform="rotate(-9 458.2 274.5)"/>
<ellipse cx="513.5" cy="274.7" rx="5.4" ry="5.4" fill="#d4d1e6" fill-opacity="0.55" transform="rotate(-18 513.5 274.7)"/>
<ellipse cx="524.3" cy="152.5" rx="7.1" ry="4.2" fill="#d4d1e6" fill-opacity="0.55" transform="rotate(-55 524.3 152.5)"/>
<ellipse cx="311.0" cy="227.4" rx="5.2" ry="5.2" fill="#d4d1e6" fill-opacity="0.55" transform="rotate(-28 311.0 227.4)"/>
<ellipse cx="437.7" cy="266.2" rx="6.4" ry="3.7" fill="#d4d1e6" fill-opacity="0.55" transform="rotate(-66 437.7 266.2)"/>
<ellipse cx="377.4" cy="159.7" rx="8.0" ry="3.1" fill="#d4d1e6" fill-opacity="0.55" transform="rotate(-45 377.4 159.7)"/>
<ellipse cx="542.9" cy="186.7" rx="6.3" ry="5.1" fill="#d4d1e6" fill-opacity="0.55" transform="rotate(-27 542.9 186.7)"/>
<ellipse cx="378.5" cy="270.8" rx="9.5" ry="4.1" fill="#d4d1e6" fill-opacity="0.55" transform="rotate(-12 378.5 270.8)"/>
<ellipse cx="517.5" cy="198.7" rx="9.3" ry="5.0" fill="#d4d1e6" fill-opacity="0.55" transform="rotate(-57 517.5 198.7)"/>
<ellipse cx="455.0" cy="268.5" rx="7.5" ry="4.3" fill="#d4d1e6" fill-opacity="0.55" transform="rotate(-40 455.0 268.5)"/>
<ellipse cx="534.1" cy="205.1" rx="6.3" ry="3.9" fill="#d4d1e6" fill-opacity="0.55" transform="rotate(-27 534.1 205.1)"/>
<ellipse cx="302.9" cy="202.3" rx="7.9" ry="3.1" fill="#d4d1e6" fill-opacity="0.55" transform="rotate(8 302.9 202.3)"/>
<ellipse cx="447.3" cy="166.8" rx="8.2" ry="4.0" fill="#d4d1e6" fill-opacity="0.55" transform="rotate(-25 447.3 166.8)"/>
<ellipse cx="469.8" cy="194.4" rx="8.5" ry="5.2" fill="#d4d1e6" fill-opacity="0.55" transform="rotate(-68 469.8 194.4)"/>
<ellipse cx="447.3" cy="270.3" rx="5.1" ry="4.1" fill="#d4d1e6" fill-opacity="0.55" transform="rotate(10 447.3 270.3)"/>
<ellipse cx="414.1" cy="224.7" rx="6.6" ry="4.1" fill="#d4d1e6" fill-opacity="0.55" transform="rotate(-30 414.1 224.7)"/>
<ellipse cx="489.5" cy="256.3" rx="6.3" ry="5.4" fill="#d4d1e6" fill-opacity="0.55" transform="rotate(-57 489.5 256.3)"/>
<ellipse cx="493.1" cy="153.4" rx="7.8" ry="5.2" fill="#d4d1e6" fill-opacity="0.55" transform="rotate(-31 493.1 153.4)"/>
<ellipse cx="425.0" cy="232.4" rx="6.3" ry="4.0" fill="#d4d1e6" fill-opacity="0.55" transform="rotate(-15 425.0 232.4)"/>
<ellipse cx="462.4" cy="162.2" rx="8.0" ry="5.8" fill="#d4d1e6" fill-opacity="0.55" transform="rotate(-42 462.4 162.2)"/>
<ellipse cx="409.6" cy="257.8" rx="5.8" ry="4.0" fill="#d4d1e6" fill-opacity="0.55" transform="rotate(-43 409.6 257.8)"/>
<ellipse cx="521.2" cy="206.8" rx="6.1" ry="3.4" fill="#d4d1e6" fill-opacity="0.55" transform="rotate(-3 521.2 206.8)"/>
<ellipse cx="539.4" cy="189.7" rx="9.2" ry="4.7" fill="#d4d1e6" fill-opacity="0.55" transform="rotate(-35 539.4 189.7)"/>
<ellipse cx="385.0" cy="254.3" rx="5.4" ry="4.9" fill="#d4d1e6" fill-opacity="0.55" transform="rotate(5 385.0 254.3)"/>
<ellipse cx="332.4" cy="186.8" rx="9.0" ry="3.8" fill="#d4d1e6" fill-opacity="0.55" transform="rotate(-26 332.4 186.8)"/>
<ellipse cx="458.5" cy="186.6" rx="7.8" ry="3.1" fill="#d4d1e6" fill-opacity="0.55" transform="rotate(-18 458.5 186.6)"/>
<ellipse cx="339.0" cy="150.6" rx="9.7" ry="5.6" fill="#d4d1e6" fill-opacity="0.55" transform="rotate(-5 339.0 150.6)"/>
<ellipse cx="408.6" cy="269.7" rx="9.6" ry="3.7" fill="#d4d1e6" fill-opacity="0.55" transform="rotate(-12 408.6 269.7)"/>
<ellipse cx="509.2" cy="233.5" rx="7.6" ry="3.9" fill="#d4d1e6" fill-opacity="0.55" transform="rotate(-27 509.2 233.5)"/>
<ellipse cx="522.4" cy="258.6" rx="9.3" ry="5.9" fill="#d4d1e6" fill-opacity="0.55" transform="rotate(-55 522.4 258.6)"/>
<ellipse cx="502.5" cy="155.7" rx="9.5" ry="5.1" fill="#d4d1e6" fill-opacity="0.55" transform="rotate(-45 502.5 155.7)"/>
<ellipse cx="524.1" cy="263.4" rx="7.9" ry="3.0" fill="#d4d1e6" fill-opacity="0.55" transform="rotate(-55 524.1 263.4)"/>
<ellipse cx="343.0" cy="187.8" rx="8.3" ry="4.6" fill="#d4d1e6" fill-opacity="0.55" transform="rotate(-18 343.0 187.8)"/>
<ellipse cx="313.3" cy="265.0" rx="5.6" ry="3.4" fill="#d4d1e6" fill-opacity="0.55" transform="rotate(-1 313.3 265.0)"/>
<ellipse cx="419.3" cy="248.6" rx="6.8" ry="3.6" fill="#d4d1e6" fill-opacity="0.55" transform="rotate(-2 419.3 248.6)"/>
<ellipse cx="521.9" cy="165.0" rx="6.2" ry="3.8" fill="#d4d1e6" fill-opacity="0.55" transform="rotate(-54 521.9 165.0)"/>
<ellipse cx="505.9" cy="150.9" rx="8.1" ry="5.6" fill="#d4d1e6" fill-opacity="0.55" transform="rotate(-64 505.9 150.9)"/>
<ellipse cx="489.1" cy="181.3" rx="8.1" ry="4.6" fill="#d4d1e6" fill-opacity="0.55" transform="rotate(-64 489.1 181.3)"/>
<ellipse cx="418.2" cy="247.8" rx="5.0" ry="3.2" fill="#d4d1e6" fill-opacity="0.55" transform="rotate(-54 418.2 247.8)"/>
<ellipse cx="311.5" cy="156.3" rx="7.4" ry="3.1" fill="#d4d1e6" fill-opacity="0.55" transform="rotate(-59 311.5 156.3)"/>
<ellipse cx="428.9" cy="211.7" rx="5.8" ry="3.2" fill="#d4d1e6" fill-opacity="0.55" transform="rotate(-21 428.9 211.7)"/>
<ellipse cx="461.7" cy="223.9" rx="6.8" ry="3.6" fill="#d4d1e6" fill-opacity="0.55" transform="rotate(-28 461.7 223.9)"/>
<ellipse cx="407.2" cy="166.1" rx="5.0" ry="5.2" fill="#d4d1e6" fill-opacity="0.55" transform="rotate(-60 407.2 166.1)"/>
<ellipse cx="441.7" cy="155.4" rx="7.3" ry="5.0" fill="#d4d1e6" fill-opacity="0.55" transform="rotate(-1 441.7 155.4)"/>
<ellipse cx="395.1" cy="250.9" rx="8.1" ry="4.3" fill="#d4d1e6" fill-opacity="0.55" transform="rotate(-23 395.1 250.9)"/>
<ellipse cx="456.9" cy="245.8" rx="6.6" ry="5.9" fill="#d4d1e6" fill-opacity="0.55" transform="rotate(-17 456.9 245.8)"/>
<ellipse cx="415.2" cy="180.9" rx="7.7" ry="5.1" fill="#d4d1e6" fill-opacity="0.55" transform="rotate(-61 415.2 180.9)"/>
<ellipse cx="500.8" cy="178.3" rx="5.7" ry="3.1" fill="#d4d1e6" fill-opacity="0.55" transform="rotate(-29 500.8 178.3)"/>
<ellipse cx="393.6" cy="263.1" rx="9.0" ry="3.8" fill="#d4d1e6" fill-opacity="0.55" transform="rotate(-11 393.6 263.1)"/>
<ellipse cx="472.6" cy="268.3" rx="8.7" ry="5.5" fill="#d4d1e6" fill-opacity="0.55" transform="rotate(-3 472.6 268.3)"/>
<ellipse cx="498.1" cy="234.1" rx="8.7" ry="4.7" fill="#d4d1e6" fill-opacity="0.55" transform="rotate(-57 498.1 234.1)"/>
<ellipse cx="502.9" cy="240.3" rx="7.4" ry="3.7" fill="#d4d1e6" fill-opacity="0.55" transform="rotate(-21 502.9 240.3)"/>
<ellipse cx="311.1" cy="161.6" rx="5.5" ry="5.6" fill="#d4d1e6" fill-opacity="0.55" transform="rotate(-48 311.1 161.6)"/>
<ellipse cx="504.9" cy="193.0" rx="9.3" ry="3.1" fill="#d4d1e6" fill-opacity="0.55" transform="rotate(-56 504.9 193.0)"/>
<ellipse cx="468.4" cy="255.4" rx="9.8" ry="4.7" fill="#d4d1e6" fill-opacity="0.55" transform="rotate(-59 468.4 255.4)"/>
<ellipse cx="309.1" cy="246.7" rx="7.6" ry="5.1" fill="#d4d1e6" fill-opacity="0.55" transform="rotate(-57 309.1 246.7)"/>
<ellipse cx="438.6" cy="162.6" rx="7.8" ry="4.7" fill="#d4d1e6" fill-opacity="0.55" transform="rotate(2 438.6 162.6)"/>
<ellipse cx="345.1" cy="159.7" rx="10.0" ry="4.9" fill="#d4d1e6" fill-opacity="0.55" transform="rotate(-12 345.1 159.7)"/>
<ellipse cx="454.0" cy="244.9" rx="7.0" ry="4.1" fill="#d4d1e6" fill-opacity="0.55" transform="rotate(-20 454.0 244.9)"/>
<ellipse cx="534.7" cy="220.1" rx="9.8" ry="4.1" fill="#d4d1e6" fill-opacity="0.55" transform="rotate(-40 534.7 220.1)"/>
<ellipse cx="543.3" cy="202.0" rx="8.7" ry="3.5" fill="#d4d1e6" fill-opacity="0.55" transform="rotate(2 543.3 202.0)"/>
<ellipse cx="489.0" cy="234.9" rx="7.6" ry="4.5" fill="#d4d1e6" fill-opacity="0.55" transform="rotate(-19 489.0 234.9)"/>
<ellipse cx="524.4" cy="168.8" rx="5.5" ry="5.2" fill="#d4d1e6" fill-opacity="0.55" transform="rotate(-4 524.4 168.8)"/>
<ellipse cx="537.7" cy="223.9" rx="9.3" ry="3.4" fill="#d4d1e6" fill-opacity="0.55" transform="rotate(-45 537.7 223.9)"/>
<ellipse cx="336.6" cy="215.0" rx="9.7" ry="5.6" fill="#d4d1e6" fill-opacity="0.55" transform="rotate(-2 336.6 215.0)"/>
<ellipse cx="538.4" cy="187.3" rx="8.5" ry="4.2" fill="#d4d1e6" fill-opacity="0.55" transform="rotate(4 538.4 187.3)"/>
<ellipse cx="446.2" cy="183.7" rx="6.1" ry="3.1" fill="#d4d1e6" fill-opacity="0.55" transform="rotate(-9 446.2 183.7)"/>
<ellipse cx="501.0" cy="175.3" rx="7.8" ry="3.7" fill="#d4d1e6" fill-opacity="0.55" transform="rotate(-9 501.0 175.3)"/>
<ellipse cx="493.6" cy="168.1" rx="10.0" ry="4.4" fill="#d4d1e6" fill-opacity="0.55" transform="rotate(6 493.6 168.1)"/>
<ellipse cx="351.4" cy="223.1" rx="9.5" ry="5.0" fill="#d4d1e6" fill-opacity="0.55" transform="rotate(-67 351.4 223.1)"/>
<ellipse cx="420.3" cy="240.8" rx="9.3" ry="4.2" fill="#d4d1e6" fill-opacity="0.55" transform="rotate(-65 420.3 240.8)"/>
<ellipse cx="416.8" cy="178.9" rx="6.2" ry="5.2" fill="#d4d1e6" fill-opacity="0.55" transform="rotate(-62 416.8 178.9)"/>
<ellipse cx="539.7" cy="257.6" rx="6.2" ry="3.6" fill="#d4d1e6" fill-opacity="0.55" transform="rotate(-37 539.7 257.6)"/>
<ellipse cx="334.4" cy="228.4" rx="8.4" ry="3.1" fill="#d4d1e6" fill-opacity="0.55" transform="rotate(-38 334.4 228.4)"/>
<ellipse cx="342.4" cy="155.7" rx="5.9" ry="3.3" fill="#d4d1e6" fill-opacity="0.55" transform="rotate(-60 342.4 155.7)"/>
<ellipse cx="329.5" cy="183.3" rx="9.6" ry="3.1" fill="#d4d1e6" fill-opacity="0.55" transform="rotate(-13 329.5 183.3)"/>
<ellipse cx="445.1" cy="235.1" rx="5.0" ry="4.0" fill="#d4d1e6" fill-opacity="0.55" transform="rotate(-15 445.1 235.1)"/>
<ellipse cx="394.9" cy="159.8" rx="8.2" ry="5.2" fill="#d4d1e6" fill-opacity="0.55" transform="rotate(-8 394.9 159.8)"/>
<ellipse cx="397.7" cy="218.6" rx="5.6" ry="3.8" fill="#d4d1e6" fill-opacity="0.55" transform="rotate(-15 397.7 218.6)"/>
<ellipse cx="328.1" cy="261.8" rx="9.5" ry="3.3" fill="#d4d1e6" fill-opacity="0.55" transform="rotate(-23 328.1 261.8)"/>
<ellipse cx="469.6" cy="196.4" rx="7.3" ry="5.0" fill="#d4d1e6" fill-opacity="0.55" transform="rotate(-37 469.6 196.4)"/>
<ellipse cx="326.8" cy="269.0" rx="6.7" ry="4.7" fill="#d4d1e6" fill-opacity="0.55" transform="rotate(-3 326.8 269.0)"/>
<ellipse cx="328.3" cy="212.2" rx="6.8" ry="5.2" fill="#d4d1e6" fill-opacity="0.55" transform="rotate(2 328.3 212.2)"/>
<ellipse cx="485.6" cy="231.4" rx="8.7" ry="3.4" fill="#d4d1e6" fill-opacity="0.55" transform="rotate(-23 485.6 231.4)"/>
<ellipse cx="522.5" cy="232.6" rx="5.6" ry="5.8" fill="#d4d1e6" fill-opacity="0.55" transform="rotate(-52 522.5 232.6)"/>
<ellipse cx="530.2" cy="231.3" rx="8.2" ry="4.3" fill="#d4d1e6" fill-opacity="0.55" transform="rotate(-32 530.2 231.3)"/>
<ellipse cx="461.9" cy="207.7" rx="6.6" ry="3.5" fill="#d4d1e6" fill-opacity="0.55" transform="rotate(-62 461.9 207.7)"/>
<ellipse cx="326.9" cy="172.8" rx="7.8" ry="4.7" fill="#d4d1e6" fill-opacity="0.55" transform="rotate(-20 326.9 172.8)"/>
<ellipse cx="389.8" cy="183.5" rx="6.9" ry="5.6" fill="#d4d1e6" fill-opacity="0.55" transform="rotate(-65 389.8 183.5)"/>
<ellipse cx="419.7" cy="184.2" rx="8.5" ry="4.5" fill="#d4d1e6" fill-opacity="0.55" transform="rotate(-28 419.7 184.2)"/>
<ellipse cx="536.3" cy="206.5" rx="9.0" ry="3.2" fill="#d4d1e6" fill-opacity="0.55" transform="rotate(-7 536.3 206.5)"/>
<ellipse cx="511.7" cy="164.1" rx="6.4" ry="3.3" fill="#d4d1e6" fill-opacity="0.55" transform="rotate(-56 511.7 164.1)"/>
<ellipse cx="441.1" cy="264.7" rx="5.6" ry="5.1" fill="#d4d1e6" fill-opacity="0.55" transform="rotate(2 441.1 264.7)"/>
<ellipse cx="404.2" cy="243.7" rx="9.1" ry="5.2" fill="#d4d1e6" fill-opacity="0.55" transform="rotate(5 404.2 243.7)"/>
<ellipse cx="452.0" cy="258.3" rx="9.0" ry="4.6" fill="#d4d1e6" fill-opacity="0.55" transform="rotate(-49 452.0 258.3)"/>
<ellipse cx="442.1" cy="175.5" rx="6.3" ry="5.3" fill="#d4d1e6" fill-opacity="0.55" transform="rotate(-67 442.1 175.5)"/>
<ellipse cx="510.6" cy="206.0" rx="7.0" ry="5.4" fill="#d4d1e6" fill-opacity="0.55" transform="rotate(-30 510.6 206.0)"/>
<ellipse cx="438.2" cy="223.5" rx="8.2" ry="5.9" fill="#d4d1e6" fill-opacity="0.55" transform="rotate(-32 438.2 223.5)"/>
<ellipse cx="523.9" cy="234.1" rx="5.2" ry="3.6" fill="#d4d1e6" fill-opacity="0.55" transform="rotate(-70 523.9 234.1)"/>
<ellipse cx="326.9" cy="245.3" rx="6.2" ry="3.5" fill="#d4d1e6" fill-opacity="0.55" transform="rotate(10 326.9 245.3)"/>
<ellipse cx="415.1" cy="174.4" rx="7.6" ry="3.1" fill="#d4d1e6" fill-opacity="0.55" transform="rotate(-6 415.1 174.4)"/>
<ellipse cx="531.5" cy="269.3" rx="5.6" ry="3.8" fill="#d4d1e6" fill-opacity="0.55" transform="rotate(-51 531.5 269.3)"/>
<ellipse cx="333.9" cy="249.8" rx="8.1" ry="3.2" fill="#d4d1e6" fill-opacity="0.55" transform="rotate(-24 333.9 249.8)"/>
<ellipse cx="454.6" cy="213.8" rx="7.5" ry="3.1" fill="#d4d1e6" fill-opacity="0.55" transform="rotate(-27 454.6 213.8)"/>
<ellipse cx="380.8" cy="259.7" rx="8.5" ry="3.4" fill="#d4d1e6" fill-opacity="0.55" transform="rotate(6 380.8 259.7)"/>
<ellipse cx="493.8" cy="154.3" rx="5.4" ry="6.0" fill="#d4d1e6" fill-opacity="0.55" transform="rotate(-44 493.8 154.3)"/>
<ellipse cx="532.9" cy="258.5" rx="7.2" ry="5.3" fill="#d4d1e6" fill-opacity="0.55" transform="rotate(-8 532.9 258.5)"/>
<ellipse cx="379.0" cy="249.1" rx="7.0" ry="5.5" fill="#d4d1e6" fill-opacity="0.55" transform="rotate(-50 379.0 249.1)"/>
<ellipse cx="397.9" cy="209.6" rx="5.3" ry="5.6" fill="#d4d1e6" fill-opacity="0.55" transform="rotate(-44 397.9 209.6)"/>
<ellipse cx="462.3" cy="188.4" rx="7.3" ry="5.3" fill="#d4d1e6" fill-opacity="0.55" transform="rotate(-19 462.3 188.4)"/>
<ellipse cx="409.6" cy="207.4" rx="5.2" ry="3.8" fill="#d4d1e6" fill-opacity="0.55" transform="rotate(-23 409.6 207.4)"/>
<ellipse cx="411.9" cy="195.6" rx="7.0" ry="5.9" fill="#d4d1e6" fill-opacity="0.55" transform="rotate(-44 411.9 195.6)"/>
<ellipse cx="364.7" cy="196.6" rx="9.3" ry="4.6" fill="#d4d1e6" fill-opacity="0.55" transform="rotate(-50 364.7 196.6)"/>
<ellipse cx="352.3" cy="171.5" rx="7.0" ry="3.5" fill="#d4d1e6" fill-opacity="0.55" transform="rotate(-67 352.3 171.5)"/>
<ellipse cx="334.8" cy="226.7" rx="7.2" ry="3.6" fill="#d4d1e6" fill-opacity="0.55" transform="rotate(-68 334.8 226.7)"/>
<ellipse cx="400.8" cy="190.0" rx="5.2" ry="5.1" fill="#d4d1e6" fill-opacity="0.55" transform="rotate(-40 400.8 190.0)"/>
<ellipse cx="400.8" cy="200.0" rx="5.1" ry="5.9" fill="#d4d1e6" fill-opacity="0.55" transform="rotate(-42 400.8 200.0)"/>
<ellipse cx="360.4" cy="199.0" rx="6.0" ry="4.0" fill="#d4d1e6" fill-opacity="0.55" transform="rotate(-56 360.4 199.0)"/>
<ellipse cx="386.6" cy="165.6" rx="5.3" ry="5.2" fill="#d4d1e6" fill-opacity="0.55" transform="rotate(-35 386.6 165.6)"/>
<ellipse cx="545.3" cy="268.7" rx="8.9" ry="5.9" fill="#d4d1e6" fill-opacity="0.55" transform="rotate(-8 545.3 268.7)"/>
<ellipse cx="362.5" cy="183.5" rx="9.1" ry="4.9" fill="#d4d1e6" fill-opacity="0.55" transform="rotate(-26 362.5 183.5)"/>
<ellipse cx="379.3" cy="157.1" rx="7.2" ry="3.3" fill="#d4d1e6" fill-opacity="0.55" transform="rotate(9 379.3 157.1)"/>
<ellipse cx="300.9" cy="153.8" rx="5.5" ry="3.5" fill="#d4d1e6" fill-opacity="0.55" transform="rotate(-66 300.9 153.8)"/>
<ellipse cx="420.5" cy="173.8" rx="7.5" ry="4.0" fill="#d4d1e6" fill-opacity="0.55" transform="rotate(-9 420.5 173.8)"/>
<ellipse cx="385.0" cy="210.3" rx="6.8" ry="5.0" fill="#d4d1e6" fill-opacity="0.55" transform="rotate(-22 385.0 210.3)"/>
<ellipse cx="376.2" cy="226.5" rx="9.7" ry="3.3" fill="#d4d1e6" fill-opacity="0.55" transform="rotate(-33 376.2 226.5)"/>
<ellipse cx="346.0" cy="202.0" rx="7.5" ry="4.6" fill="#d4d1e6" fill-opacity="0.55" transform="rotate(-2 346.0 202.0)"/>
<ellipse cx="470.0" cy="267.0" rx="5.9" ry="5.2" fill="#d4d1e6" fill-opacity="0.55" transform="rotate(-21 470.0 267.0)"/>
<ellipse cx="508.9" cy="219.7" rx="9.6" ry="4.1" fill="#d4d1e6" fill-opacity="0.55" transform="rotate(-17 508.9 219.7)"/>
<ellipse cx="409.6" cy="206.0" rx="8.5" ry="4.0" fill="#d4d1e6" fill-opacity="0.55" transform="rotate(-49 409.6 206.0)"/>
<ellipse cx="426.8" cy="244.8" rx="9.6" ry="5.1" fill="#d4d1e6" fill-opacity="0.55" transform="rotate(-8 426.8 244.8)"/>
<ellipse cx="310.7" cy="171.6" rx="8.8" ry="5.5" fill="#d4d1e6" fill-opacity="0.55" transform="rotate(-59 310.7 171.6)"/>
<ellipse cx="489.6" cy="235.3" rx="5.5" ry="3.7" fill="#d4d1e6" fill-opacity="0.55" transform="rotate(-63 489.6 235.3)"/>
<ellipse cx="519.6" cy="259.9" rx="7.2" ry="5.7" fill="#d4d1e6" fill-opacity="0.55" transform="rotate(-28 519.6 259.9)"/>
<ellipse cx="549.2" cy="150.2" rx="6.0" ry="5.4" fill="#d4d1e6" fill-opacity="0.55" transform="rotate(-57 549.2 150.2)"/>
<ellipse cx="384.6" cy="189.2" rx="7.3" ry="5.5" fill="#d4d1e6" fill-opacity="0.55" transform="rotate(-44 384.6 189.2)"/>
<ellipse cx="360.2" cy="156.2" rx="5.8" ry="4.9" fill="#d4d1e6" fill-opacity="0.55" transform="rotate(4 360.2 156.2)"/>
<ellipse cx="546.3" cy="164.1" rx="6.4" ry="3.6" fill="#d4d1e6" fill-opacity="0.55" transform="rotate(1 546.3 164.1)"/>
<ellipse cx="428.9" cy="213.6" rx="9.5" ry="4.0" fill="#d4d1e6" fill-opacity="0.55" transform="rotate(-2 428.9 213.6)"/>
<ellipse cx="495.5" cy="208.9" rx="8.1" ry="3.1" fill="#d4d1e6" fill-opacity="0.55" transform="rotate(-56 495.5 208.9)"/>
<ellipse cx="449.5" cy="258.2" rx="5.5" ry="5.8" fill="#d4d1e6" fill-opacity="0.55" transform="rotate(-38 449.5 258.2)"/>
<ellipse cx="321.4" cy="208.6" rx="6.1" ry="5.5" fill="#d4d1e6" fill-opacity="0.55" transform="rotate(8 321.4 208.6)"/>
<ellipse cx="327.2" cy="211.2" rx="8.3" ry="5.1" fill="#d4d1e6" fill-opacity="0.55" transform="rotate(-19 327.2 211.2)"/>
<ellipse cx="450.8" cy="206.1" rx="5.6" ry="5.5" fill="#d4d1e6" fill-opacity="0.55" transform="rotate(6 450.8 206.1)"/>
<ellipse cx="410.9" cy="197.8" rx="5.6" ry="3.0" fill="#d4d1e6" fill-opacity="0.55" transform="rotate(-32 410.9 197.8)"/>
<ellipse cx="482.0" cy="159.7" rx="6.7" ry="4.5" fill="#d4d1e6" fill-opacity="0.55" transform="rotate(-61 482.0 159.7)"/>
<ellipse cx="531.0" cy="236.5" rx="6.8" ry="5.4" fill="#d4d1e6" fill-opacity="0.55" transform="rotate(-62 531.0 236.5)"/>
<ellipse cx="451.5" cy="177.0" rx="6.8" ry="6.0" fill="#d4d1e6" fill-opacity="0.55" transform="rotate(-28 451.5 177.0)"/>
<ellipse cx="359.0" cy="205.3" rx="6.3" ry="4.0" fill="#d4d1e6" fill-opacity="0.55" transform="rotate(-44 359.0 205.3)"/>
<ellipse cx="481.6" cy="260.2" rx="9.9" ry="4.8" fill="#d4d1e6" fill-opacity="0.55" transform="rotate(-2 481.6 260.2)"/>
<ellipse cx="513.1" cy="196.3" rx="6.0" ry="4.9" fill="#d4d1e6" fill-opacity="0.55" transform="rotate(-18 513.1 196.3)"/>
<ellipse cx="421.0" cy="247.5" rx="7.0" ry="6.0" fill="#d4d1e6" fill-opacity="0.55" transform="rotate(-66 421.0 247.5)"/>
<ellipse cx="373.0" cy="267.7" rx="5.9" ry="3.3" fill="#d4d1e6" fill-opacity="0.55" transform="rotate(-51 373.0 267.7)"/>
<ellipse cx="373.6" cy="215.5" rx="8.2" ry="3.1" fill="#d4d1e6" fill-opacity="0.55" transform="rotate(-44 373.6 215.5)"/>
<ellipse cx="369.0" cy="204.5" rx="6.7" ry="5.2" fill="#d4d1e6" fill-opacity="0.55" transform="rotate(-34 369.0 204.5)"/>
<ellipse cx="335.7" cy="206.0" rx="9.5" ry="4.3" fill="#d4d1e6" fill-opacity="0.55" transform="rotate(-44 335.7 206.0)"/>
<ellipse cx="338.3" cy="246.1" rx="8.5" ry="5.9" fill="#d4d1e6" fill-opacity="0.55" transform="rotate(-23 338.3 246.1)"/>
<ellipse cx="535.7" cy="204.3" rx="9.7" ry="4.4" fill="#d4d1e6" fill-opacity="0.55" transform="rotate(-1 535.7 204.3)"/>
<ellipse cx="355.7" cy="270.5" rx="6.4" ry="3.1" fill="#d4d1e6" fill-opacity="0.55" transform="rotate(-23 355.7 270.5)"/>
<ellipse cx="521.7" cy="251.7" rx="6.5" ry="3.7" fill="#d4d1e6" fill-opacity="0.55" transform="rotate(-4 521.7 251.7)"/>
<ellipse cx="302.5" cy="166.6" rx="7.7" ry="4.6" fill="#d4d1e6" fill-opacity="0.55" transform="rotate(-49 302.5 166.6)"/>
<ellipse cx="537.5" cy="150.2" rx="9.9" ry="5.4" fill="#d4d1e6" fill-opacity="0.55" transform="rotate(-25 537.5 150.2)"/>
<ellipse cx="544.8" cy="249.0" rx="9.9" ry="3.1" fill="#d4d1e6" fill-opacity="0.55" transform="rotate(-47 544.8 249.0)"/>
<ellipse cx="359.7" cy="184.9" rx="9.5" ry="5.5" fill="#d4d1e6" fill-opacity="0.55" transform="rotate(7 359.7 184.9)"/>
<ellipse cx="436.5" cy="161.8" rx="6.6" ry="3.7" fill="#d4d1e6" fill-opacity="0.55" transform="rotate(-7 436.5 161.8)"/>
<ellipse cx="404.6" cy="182.8" rx="5.2" ry="4.3" fill="#d4d1e6" fill-opacity="0.55" transform="rotate(10 404.6 182.8)"/>
<ellipse cx="549.0" cy="170.9" rx="8.8" ry="4.7" fill="#d4d1e6" fill-opacity="0.55" transform="rotate(-53 549.0 170.9)"/>
<ellipse cx="485.9" cy="256.0" rx="7.1" ry="5.3" fill="#d4d1e6" fill-opacity="0.55" transform="rotate(-27 485.9 256.0)"/>
<ellipse cx="438.0" cy="185.2" rx="5.8" ry="3.1" fill="#d4d1e6" fill-opacity="0.55" transform="rotate(-63 438.0 185.2)"/>
<ellipse cx="524.2" cy="264.2" rx="7.3" ry="5.0" fill="#d4d1e6" fill-opacity="0.55" transform="rotate(7 524.2 264.2)"/>
<ellipse cx="428.8" cy="196.8" rx="8.2" ry="3.9" fill="#d4d1e6" fill-opacity="0.55" transform="rotate(-61 428.8 196.8)"/>
<ellipse cx="470.9" cy="275.0" rx="7.7" ry="4.2" fill="#d4d1e6" fill-opacity="0.55" transform="rotate(-25 470.9 275.0)"/>
<ellipse cx="411.0" cy="185.1" rx="6.3" ry="3.8" fill="#d4d1e6" fill-opacity="0.55" transform="rotate(-3 411.0 185.1)"/>
<ellipse cx="338.8" cy="189.7" rx="7.6" ry="4.2" fill="#d4d1e6" fill-opacity="0.55" transform="rotate(-41 338.8 189.7)"/>
<ellipse cx="506.9" cy="267.3" rx="8.1" ry="3.1" fill="#d4d1e6" fill-opacity="0.55" transform="rotate(3 506.9 267.3)"/>
<ellipse cx="449.4" cy="164.6" rx="5.6" ry="5.4" fill="#d4d1e6" fill-opacity="0.55" transform="rotate(-36 449.4 164.6)"/>
<ellipse cx="325.6" cy="234.3" rx="6.9" ry="4.5" fill="#d4d1e6" fill-opacity="0.55" transform="rotate(-13 325.6 234.3)"/>
<ellipse cx="348.8" cy="266.0" rx="5.9" ry="4.1" fill="#d4d1e6" fill-opacity="0.55" transform="rotate(-20 348.8 266.0)"/>
<ellipse cx="379.0" cy="184.1" rx="9.7" ry="5.8" fill="#d4d1e6" fill-opacity="0.55" transform="rotate(-30 379.0 184.1)"/>
<ellipse cx="452.6" cy="220.0" rx="5.2" ry="4.3" fill="#d4d1e6" fill-opacity="0.55" transform="rotate(-18 452.6 220.0)"/>
<ellipse cx="545.0" cy="160.0" rx="6.1" ry="3.6" fill="#d4d1e6" fill-opacity="0.55" transform="rotate(-60 545.0 160.0)"/>
<ellipse cx="474.5" cy="164.5" rx="8.2" ry="3.4" fill="#d4d1e6" fill-opacity="0.55" transform="rotate(-70 474.5 164.5)"/>
<ellipse cx="535.5" cy="272.8" rx="8.5" ry="4.3" fill="#d4d1e6" fill-opacity="0.55" transform="rotate(-9 535.5 272.8)"/>
<ellipse cx="415.4" cy="186.5" rx="7.8" ry="3.5" fill="#d4d1e6" fill-opacity="0.55" transform="rotate(-8 415.4 186.5)"/>
<ellipse cx="539.4" cy="168.2" rx="9.5" ry="3.5" fill="#d4d1e6" fill-opacity="0.55" transform="rotate(-11 539.4 168.2)"/>
<ellipse cx="468.6" cy="231.5" rx="5.7" ry="3.2" fill="#d4d1e6" fill-opacity="0.55" transform="rotate(10 468.6 231.5)"/>
<ellipse cx="344.0" cy="173.9" rx="9.1" ry="5.6" fill="#d4d1e6" fill-opacity="0.55" transform="rotate(-64 344.0 173.9)"/>
<ellipse cx="431.0" cy="169.2" rx="2.8" ry="2.3" fill="#a8a6dc" fill-opacity="0.55" transform="rotate(-15 431.0 169.2)"/>
<ellipse cx="397.5" cy="274.4" rx="2.9" ry="1.6" fill="#a8a6dc" fill-opacity="0.55" transform="rotate(-52 397.5 274.4)"/>
<ellipse cx="373.8" cy="198.3" rx="3.9" ry="2.1" fill="#a8a6dc" fill-opacity="0.55" transform="rotate(-46 373.8 198.3)"/>
<ellipse cx="301.9" cy="196.7" rx="2.7" ry="2.0" fill="#a8a6dc" fill-opacity="0.55" transform="rotate(-62 301.9 196.7)"/>
<ellipse cx="388.6" cy="269.8" rx="3.2" ry="2.2" fill="#a8a6dc" fill-opacity="0.55" transform="rotate(-30 388.6 269.8)"/>
<ellipse cx="418.2" cy="243.2" rx="3.3" ry="2.4" fill="#a8a6dc" fill-opacity="0.55" transform="rotate(-14 418.2 243.2)"/>
<ellipse cx="442.2" cy="208.5" rx="3.3" ry="1.9" fill="#a8a6dc" fill-opacity="0.55" transform="rotate(-2 442.2 208.5)"/>
<ellipse cx="414.1" cy="198.4" rx="3.6" ry="1.8" fill="#a8a6dc" fill-opacity="0.55" transform="rotate(-48 414.1 198.4)"/>
<ellipse cx="375.2" cy="258.2" rx="3.9" ry="1.8" fill="#a8a6dc" fill-opacity="0.55" transform="rotate(-45 375.2 258.2)"/>
<ellipse cx="332.6" cy="226.1" rx="2.6" ry="2.1" fill="#a8a6dc" fill-opacity="0.55" transform="rotate(-48 332.6 226.1)"/>
<ellipse cx="328.6" cy="151.8" rx="3.8" ry="2.3" fill="#a8a6dc" fill-opacity="0.55" transform="rotate(2 328.6 151.8)"/>
<ellipse cx="471.4" cy="216.2" rx="3.6" ry="1.6" fill="#a8a6dc" fill-opacity="0.55" transform="rotate(-1 471.4 216.2)"/>
<ellipse cx="445.2" cy="191.1" rx="3.4" ry="1.7" fill="#a8a6dc" fill-opacity="0.55" transform="rotate(-12 445.2 191.1)"/>
<ellipse cx="426.6" cy="197.1" rx="3.0" ry="1.9" fill="#a8a6dc" fill-opacity="0.55" transform="rotate(6 426.6 197.1)"/>
<ellipse cx="492.7" cy="241.1" rx="3.0" ry="2.2" fill="#a8a6dc" fill-opacity="0.55" transform="rotate(-27 492.7 241.1)"/>
<ellipse cx="371.7" cy="273.1" rx="2.9" ry="1.6" fill="#a8a6dc" fill-opacity="0.55" transform="rotate(-6 371.7 273.1)"/>
<ellipse cx="355.3" cy="275.4" rx="3.6" ry="1.7" fill="#a8a6dc" fill-opacity="0.55" transform="rotate(-15 355.3 275.4)"/>
<ellipse cx="541.7" cy="207.1" rx="3.2" ry="2.0" fill="#a8a6dc" fill-opacity="0.55" transform="rotate(-48 541.7 207.1)"/>
<ellipse cx="546.6" cy="216.6" rx="3.2" ry="2.1" fill="#a8a6dc" fill-opacity="0.55" transform="rotate(-62 546.6 216.6)"/>
<ellipse cx="404.4" cy="219.3" rx="3.4" ry="1.8" fill="#a8a6dc" fill-opacity="0.55" transform="rotate(-40 404.4 219.3)"/>
<ellipse cx="513.6" cy="198.4" rx="4.0" ry="1.9" fill="#a8a6dc" fill-opacity="0.55" transform="rotate(-43 513.6 198.4)"/>
<ellipse cx="313.8" cy="212.3" rx="2.7" ry="2.2" fill="#a8a6dc" fill-opacity="0.55" transform="rotate(-21 313.8 212.3)"/>
<ellipse cx="477.8" cy="195.6" rx="3.0" ry="2.0" fill="#a8a6dc" fill-opacity="0.55" transform="rotate(-19 477.8 195.6)"/>
<ellipse cx="409.8" cy="264.4" rx="3.5" ry="1.6" fill="#a8a6dc" fill-opacity="0.55" transform="rotate(-7 409.8 264.4)"/>
<ellipse cx="336.5" cy="177.7" rx="3.1" ry="2.1" fill="#a8a6dc" fill-opacity="0.55" transform="rotate(-53 336.5 177.7)"/>
<ellipse cx="521.3" cy="176.3" rx="3.2" ry="1.7" fill="#a8a6dc" fill-opacity="0.55" transform="rotate(-67 521.3 176.3)"/>
<ellipse cx="434.7" cy="266.1" rx="3.3" ry="2.2" fill="#a8a6dc" fill-opacity="0.55" transform="rotate(-43 434.7 266.1)"/>
<ellipse cx="410.3" cy="236.0" rx="2.7" ry="2.4" fill="#a8a6dc" fill-opacity="0.55" transform="rotate(-22 410.3 236.0)"/>
<ellipse cx="356.2" cy="167.5" rx="3.0" ry="2.1" fill="#a8a6dc" fill-opacity="0.55" transform="rotate(-55 356.2 167.5)"/>
<ellipse cx="505.9" cy="225.5" rx="2.6" ry="1.5" fill="#a8a6dc" fill-opacity="0.55" transform="rotate(-26 505.9 225.5)"/>
<ellipse cx="395.7" cy="211.8" rx="4.0" ry="2.0" fill="#a8a6dc" fill-opacity="0.55" transform="rotate(-53 395.7 211.8)"/>
<ellipse cx="397.2" cy="214.5" rx="3.1" ry="2.1" fill="#a8a6dc" fill-opacity="0.55" transform="rotate(-32 397.2 214.5)"/>
<ellipse cx="409.1" cy="162.2" rx="4.0" ry="2.2" fill="#a8a6dc" fill-opacity="0.55" transform="rotate(-60 409.1 162.2)"/>
<ellipse cx="316.1" cy="260.5" rx="3.6" ry="1.8" fill="#a8a6dc" fill-opacity="0.55" transform="rotate(-69 316.1 260.5)"/>
<ellipse cx="381.1" cy="265.0" rx="3.4" ry="1.6" fill="#a8a6dc" fill-opacity="0.55" transform="rotate(-28 381.1 265.0)"/>
<ellipse cx="461.0" cy="261.1" rx="2.8" ry="1.8" fill="#a8a6dc" fill-opacity="0.55" transform="rotate(-20 461.0 261.1)"/>
<ellipse cx="539.5" cy="156.5" rx="3.3" ry="2.4" fill="#a8a6dc" fill-opacity="0.55" transform="rotate(-5 539.5 156.5)"/>
<ellipse cx="430.9" cy="222.3" rx="2.6" ry="1.7" fill="#a8a6dc" fill-opacity="0.55" transform="rotate(-10 430.9 222.3)"/>
<ellipse cx="506.1" cy="265.7" rx="3.1" ry="1.8" fill="#a8a6dc" fill-opacity="0.55" transform="rotate(-12 506.1 265.7)"/>
<ellipse cx="465.4" cy="216.6" rx="2.8" ry="1.8" fill="#a8a6dc" fill-opacity="0.55" transform="rotate(5 465.4 216.6)"/>
<ellipse cx="333.2" cy="217.0" rx="3.4" ry="1.9" fill="#a8a6dc" fill-opacity="0.55" transform="rotate(4 333.2 217.0)"/>
<ellipse cx="514.4" cy="243.0" rx="2.8" ry="1.6" fill="#a8a6dc" fill-opacity="0.55" transform="rotate(-15 514.4 243.0)"/>
<ellipse cx="514.4" cy="229.3" rx="3.2" ry="2.4" fill="#a8a6dc" fill-opacity="0.55" transform="rotate(-47 514.4 229.3)"/>
<ellipse cx="505.7" cy="268.1" rx="2.7" ry="2.4" fill="#a8a6dc" fill-opacity="0.55" transform="rotate(-20 505.7 268.1)"/>
<ellipse cx="510.6" cy="189.7" rx="3.6" ry="1.8" fill="#a8a6dc" fill-opacity="0.55" transform="rotate(-39 510.6 189.7)"/>
<ellipse cx="396.1" cy="257.3" rx="3.7" ry="1.6" fill="#a8a6dc" fill-opacity="0.55" transform="rotate(-19 396.1 257.3)"/>
<ellipse cx="391.7" cy="178.2" rx="2.9" ry="1.8" fill="#a8a6dc" fill-opacity="0.55" transform="rotate(-64 391.7 178.2)"/>
<ellipse cx="473.5" cy="192.9" rx="2.7" ry="1.7" fill="#a8a6dc" fill-opacity="0.55" transform="rotate(-14 473.5 192.9)"/>
<ellipse cx="343.2" cy="171.2" rx="3.2" ry="1.7" fill="#a8a6dc" fill-opacity="0.55" transform="rotate(-24 343.2 171.2)"/>
<ellipse cx="452.3" cy="172.1" rx="3.6" ry="1.9" fill="#a8a6dc" fill-opacity="0.55" transform="rotate(-1 452.3 172.1)"/>
<ellipse cx="406.1" cy="172.3" rx="3.0" ry="1.9" fill="#a8a6dc" fill-opacity="0.55" transform="rotate(-60 406.1 172.3)"/>
<ellipse cx="496.7" cy="258.3" rx="3.2" ry="2.1" fill="#a8a6dc" fill-opacity="0.55" transform="rotate(-36 496.7 258.3)"/>
<ellipse cx="429.9" cy="202.9" rx="3.2" ry="1.9" fill="#a8a6dc" fill-opacity="0.55" transform="rotate(-6 429.9 202.9)"/>
<ellipse cx="546.5" cy="193.6" rx="4.0" ry="2.0" fill="#a8a6dc" fill-opacity="0.55" transform="rotate(-48 546.5 193.6)"/>
<ellipse cx="328.7" cy="202.8" rx="3.8" ry="1.6" fill="#a8a6dc" fill-opacity="0.55" transform="rotate(-29 328.7 202.8)"/>
<ellipse cx="326.9" cy="216.5" rx="3.8" ry="2.0" fill="#a8a6dc" fill-opacity="0.55" transform="rotate(-1 326.9 216.5)"/>
<ellipse cx="338.0" cy="266.2" rx="3.1" ry="1.5" fill="#a8a6dc" fill-opacity="0.55" transform="rotate(-26 338.0 266.2)"/>
<ellipse cx="506.0" cy="175.6" rx="2.6" ry="2.3" fill="#a8a6dc" fill-opacity="0.55" transform="rotate(0 506.0 175.6)"/>
<ellipse cx="448.2" cy="223.6" rx="3.5" ry="1.8" fill="#a8a6dc" fill-opacity="0.55" transform="rotate(-29 448.2 223.6)"/>
<ellipse cx="547.1" cy="255.3" rx="3.6" ry="1.8" fill="#a8a6dc" fill-opacity="0.55" transform="rotate(-69 547.1 255.3)"/>
<ellipse cx="405.7" cy="220.4" rx="3.6" ry="1.9" fill="#a8a6dc" fill-opacity="0.55" transform="rotate(-23 405.7 220.4)"/>
<ellipse cx="441.8" cy="181.5" rx="3.5" ry="2.1" fill="#a8a6dc" fill-opacity="0.55" transform="rotate(-21 441.8 181.5)"/>
<ellipse cx="478.3" cy="190.8" rx="2.7" ry="2.4" fill="#a8a6dc" fill-opacity="0.55" transform="rotate(-8 478.3 190.8)"/>
<ellipse cx="343.1" cy="199.7" rx="2.8" ry="1.9" fill="#a8a6dc" fill-opacity="0.55" transform="rotate(3 343.1 199.7)"/>
<ellipse cx="391.4" cy="241.2" rx="3.4" ry="2.2" fill="#a8a6dc" fill-opacity="0.55" transform="rotate(-49 391.4 241.2)"/>
<ellipse cx="426.3" cy="171.1" rx="2.7" ry="2.0" fill="#a8a6dc" fill-opacity="0.55" transform="rotate(-21 426.3 171.1)"/>
<ellipse cx="517.1" cy="215.0" rx="3.1" ry="1.6" fill="#a8a6dc" fill-opacity="0.55" transform="rotate(-35 517.1 215.0)"/>
<ellipse cx="471.0" cy="179.0" rx="2.9" ry="1.7" fill="#a8a6dc" fill-opacity="0.55" transform="rotate(-56 471.0 179.0)"/>
<ellipse cx="419.2" cy="204.7" rx="2.9" ry="2.5" fill="#a8a6dc" fill-opacity="0.55" transform="rotate(-47 419.2 204.7)"/>
<ellipse cx="366.2" cy="248.3" rx="3.9" ry="2.2" fill="#a8a6dc" fill-opacity="0.55" transform="rotate(-39 366.2 248.3)"/>
<ellipse cx="546.4" cy="249.6" rx="3.6" ry="2.4" fill="#a8a6dc" fill-opacity="0.55" transform="rotate(-58 546.4 249.6)"/>
<ellipse cx="517.1" cy="167.1" rx="2.6" ry="2.5" fill="#a8a6dc" fill-opacity="0.55" transform="rotate(-28 517.1 167.1)"/>
<ellipse cx="543.6" cy="191.2" rx="3.6" ry="1.7" fill="#a8a6dc" fill-opacity="0.55" transform="rotate(-8 543.6 191.2)"/>
<ellipse cx="367.4" cy="214.1" rx="3.1" ry="2.4" fill="#a8a6dc" fill-opacity="0.55" transform="rotate(-16 367.4 214.1)"/>
<ellipse cx="426.0" cy="236.6" rx="3.1" ry="2.3" fill="#a8a6dc" fill-opacity="0.55" transform="rotate(-38 426.0 236.6)"/>
<ellipse cx="373.8" cy="184.3" rx="3.9" ry="1.7" fill="#a8a6dc" fill-opacity="0.55" transform="rotate(-66 373.8 184.3)"/>
<ellipse cx="342.5" cy="230.7" rx="2.8" ry="2.3" fill="#a8a6dc" fill-opacity="0.55" transform="rotate(-6 342.5 230.7)"/>
<ellipse cx="482.2" cy="176.1" rx="3.5" ry="2.1" fill="#a8a6dc" fill-opacity="0.55" transform="rotate(-38 482.2 176.1)"/>
<ellipse cx="310.9" cy="220.1" rx="3.6" ry="2.4" fill="#a8a6dc" fill-opacity="0.55" transform="rotate(-45 310.9 220.1)"/>
<ellipse cx="329.5" cy="177.4" rx="3.9" ry="1.6" fill="#a8a6dc" fill-opacity="0.55" transform="rotate(-16 329.5 177.4)"/>
<ellipse cx="484.6" cy="168.8" rx="3.3" ry="2.2" fill="#a8a6dc" fill-opacity="0.55" transform="rotate(7 484.6 168.8)"/>
<ellipse cx="482.7" cy="182.6" rx="2.6" ry="1.6" fill="#a8a6dc" fill-opacity="0.55" transform="rotate(-53 482.7 182.6)"/>
<ellipse cx="323.8" cy="237.9" rx="3.4" ry="2.0" fill="#a8a6dc" fill-opacity="0.55" transform="rotate(-12 323.8 237.9)"/>
<ellipse cx="438.2" cy="233.6" rx="3.2" ry="1.7" fill="#a8a6dc" fill-opacity="0.55" transform="rotate(-70 438.2 233.6)"/>
<ellipse cx="317.5" cy="236.0" rx="3.1" ry="1.5" fill="#a8a6dc" fill-opacity="0.55" transform="rotate(-27 317.5 236.0)"/>
<ellipse cx="429.6" cy="191.3" rx="4.0" ry="1.6" fill="#a8a6dc" fill-opacity="0.55" transform="rotate(-43 429.6 191.3)"/>
<ellipse cx="397.1" cy="251.5" rx="3.2" ry="2.2" fill="#a8a6dc" fill-opacity="0.55" transform="rotate(-29 397.1 251.5)"/>
<ellipse cx="456.8" cy="205.6" rx="2.9" ry="1.5" fill="#a8a6dc" fill-opacity="0.55" transform="rotate(-43 456.8 205.6)"/>
<ellipse cx="357.5" cy="202.4" rx="2.6" ry="1.8" fill="#a8a6dc" fill-opacity="0.55" transform="rotate(3 357.5 202.4)"/>
<ellipse cx="328.7" cy="234.0" rx="2.9" ry="1.6" fill="#a8a6dc" fill-opacity="0.55" transform="rotate(-19 328.7 234.0)"/>
<ellipse cx="306.6" cy="192.7" rx="2.8" ry="2.1" fill="#a8a6dc" fill-opacity="0.55" transform="rotate(-37 306.6 192.7)"/>
<ellipse cx="460.0" cy="274.2" rx="3.1" ry="2.4" fill="#a8a6dc" fill-opacity="0.55" transform="rotate(-44 460.0 274.2)"/>
<ellipse cx="430.4" cy="203.7" rx="3.0" ry="1.6" fill="#a8a6dc" fill-opacity="0.55" transform="rotate(-13 430.4 203.7)"/>
<ellipse cx="425.0" cy="162.6" rx="3.9" ry="2.1" fill="#a8a6dc" fill-opacity="0.55" transform="rotate(9 425.0 162.6)"/>
<ellipse cx="337.0" cy="215.4" rx="3.0" ry="2.0" fill="#a8a6dc" fill-opacity="0.55" transform="rotate(-42 337.0 215.4)"/>
<ellipse cx="391.6" cy="275.9" rx="2.7" ry="2.0" fill="#a8a6dc" fill-opacity="0.55" transform="rotate(-9 391.6 275.9)"/>
<ellipse cx="500.6" cy="243.3" rx="3.7" ry="1.5" fill="#a8a6dc" fill-opacity="0.55" transform="rotate(-68 500.6 243.3)"/>
<ellipse cx="418.4" cy="150.6" rx="3.6" ry="2.4" fill="#a8a6dc" fill-opacity="0.55" transform="rotate(-69 418.4 150.6)"/>
<ellipse cx="312.0" cy="235.1" rx="3.0" ry="2.0" fill="#a8a6dc" fill-opacity="0.55" transform="rotate(-32 312.0 235.1)"/>
<ellipse cx="494.7" cy="251.0" rx="3.0" ry="2.1" fill="#a8a6dc" fill-opacity="0.55" transform="rotate(-19 494.7 251.0)"/>
<ellipse cx="541.0" cy="155.5" rx="3.9" ry="1.7" fill="#a8a6dc" fill-opacity="0.55" transform="rotate(-60 541.0 155.5)"/>
<ellipse cx="339.6" cy="199.3" rx="3.6" ry="2.2" fill="#a8a6dc" fill-opacity="0.55" transform="rotate(-53 339.6 199.3)"/>
<ellipse cx="457.6" cy="160.4" rx="3.5" ry="2.0" fill="#a8a6dc" fill-opacity="0.55" transform="rotate(-5 457.6 160.4)"/>
<ellipse cx="301.5" cy="158.6" rx="3.5" ry="2.4" fill="#a8a6dc" fill-opacity="0.55" transform="rotate(-17 301.5 158.6)"/>
<ellipse cx="466.7" cy="191.9" rx="3.7" ry="1.9" fill="#a8a6dc" fill-opacity="0.55" transform="rotate(-27 466.7 191.9)"/>
<ellipse cx="450.4" cy="153.6" rx="3.0" ry="2.2" fill="#a8a6dc" fill-opacity="0.55" transform="rotate(-37 450.4 153.6)"/>
<ellipse cx="496.7" cy="244.2" rx="2.8" ry="1.6" fill="#a8a6dc" fill-opacity="0.55" transform="rotate(-37 496.7 244.2)"/>
<ellipse cx="485.9" cy="270.6" rx="3.2" ry="1.7" fill="#a8a6dc" fill-opacity="0.55" transform="rotate(-27 485.9 270.6)"/>
<ellipse cx="450.0" cy="233.6" rx="4.0" ry="1.5" fill="#a8a6dc" fill-opacity="0.55" transform="rotate(-19 450.0 233.6)"/>
<ellipse cx="360.4" cy="172.9" rx="2.6" ry="1.7" fill="#a8a6dc" fill-opacity="0.55" transform="rotate(-6 360.4 172.9)"/>
<ellipse cx="413.0" cy="204.4" rx="3.1" ry="2.1" fill="#a8a6dc" fill-opacity="0.55" transform="rotate(-22 413.0 204.4)"/>
<ellipse cx="407.8" cy="155.0" rx="3.6" ry="2.3" fill="#a8a6dc" fill-opacity="0.55" transform="rotate(-24 407.8 155.0)"/>
<ellipse cx="526.0" cy="199.3" rx="3.3" ry="1.6" fill="#a8a6dc" fill-opacity="0.55" transform="rotate(-45 526.0 199.3)"/>
<ellipse cx="491.4" cy="153.9" rx="3.1" ry="2.3" fill="#a8a6dc" fill-opacity="0.55" transform="rotate(7 491.4 153.9)"/>
<ellipse cx="491.6" cy="210.3" rx="3.1" ry="2.0" fill="#a8a6dc" fill-opacity="0.55" transform="rotate(-15 491.6 210.3)"/>
<ellipse cx="453.2" cy="209.8" rx="2.6" ry="2.1" fill="#a8a6dc" fill-opacity="0.55" transform="rotate(-50 453.2 209.8)"/>
<ellipse cx="528.8" cy="174.5" rx="3.8" ry="2.3" fill="#a8a6dc" fill-opacity="0.55" transform="rotate(-58 528.8 174.5)"/>
<ellipse cx="544.9" cy="167.4" rx="3.7" ry="2.4" fill="#a8a6dc" fill-opacity="0.55" transform="rotate(-55 544.9 167.4)"/>
<ellipse cx="326.0" cy="177.0" rx="3.9" ry="2.0" fill="#a8a6dc" fill-opacity="0.55" transform="rotate(-54 326.0 177.0)"/>
<ellipse cx="526.6" cy="204.8" rx="2.7" ry="1.7" fill="#a8a6dc" fill-opacity="0.55" transform="rotate(10 526.6 204.8)"/>
<ellipse cx="532.0" cy="182.0" rx="2.5" ry="2.3" fill="#9490cc" fill-opacity="0.75" transform="rotate(-35 532.0 182.0)"/>
<ellipse cx="438.1" cy="177.0" rx="2.7" ry="1.6" fill="#9490cc" fill-opacity="0.75" transform="rotate(-49 438.1 177.0)"/>
<ellipse cx="521.9" cy="180.7" rx="2.9" ry="2.3" fill="#9490cc" fill-opacity="0.75" transform="rotate(-46 521.9 180.7)"/>
<ellipse cx="484.8" cy="161.6" rx="3.4" ry="2.2" fill="#9490cc" fill-opacity="0.75" transform="rotate(-6 484.8 161.6)"/>
<ellipse cx="461.1" cy="252.8" rx="2.9" ry="1.5" fill="#9490cc" fill-opacity="0.75" transform="rotate(-40 461.1 252.8)"/>
<ellipse cx="504.9" cy="158.9" rx="2.9" ry="1.6" fill="#9490cc" fill-opacity="0.75" transform="rotate(-56 504.9 158.9)"/>
<ellipse cx="456.4" cy="248.4" rx="3.3" ry="1.7" fill="#9490cc" fill-opacity="0.75" transform="rotate(-7 456.4 248.4)"/>
<ellipse cx="526.2" cy="183.5" rx="3.0" ry="2.3" fill="#9490cc" fill-opacity="0.75" transform="rotate(-50 526.2 183.5)"/>
<ellipse cx="322.2" cy="203.1" rx="3.7" ry="2.2" fill="#9490cc" fill-opacity="0.75" transform="rotate(0 322.2 203.1)"/>
<ellipse cx="359.5" cy="244.2" rx="2.7" ry="1.6" fill="#9490cc" fill-opacity="0.75" transform="rotate(-35 359.5 244.2)"/>
<ellipse cx="328.5" cy="189.9" rx="3.2" ry="1.7" fill="#9490cc" fill-opacity="0.75" transform="rotate(-38 328.5 189.9)"/>
<ellipse cx="305.0" cy="205.7" rx="4.2" ry="1.6" fill="#9490cc" fill-opacity="0.75" transform="rotate(-75 305.0 205.7)"/>
<ellipse cx="330.1" cy="171.4" rx="3.3" ry="1.8" fill="#9490cc" fill-opacity="0.75" transform="rotate(-9 330.1 171.4)"/>
<ellipse cx="474.3" cy="242.2" rx="4.1" ry="1.7" fill="#9490cc" fill-opacity="0.75" transform="rotate(-3 474.3 242.2)"/>
<ellipse cx="423.9" cy="206.9" rx="3.3" ry="2.1" fill="#9490cc" fill-opacity="0.75" transform="rotate(-52 423.9 206.9)"/>
<ellipse cx="358.4" cy="217.0" rx="2.8" ry="2.1" fill="#9490cc" fill-opacity="0.75" transform="rotate(-42 358.4 217.0)"/>
<ellipse cx="452.7" cy="273.9" rx="2.8" ry="2.0" fill="#9490cc" fill-opacity="0.75" transform="rotate(-11 452.7 273.9)"/>
<ellipse cx="412.9" cy="243.8" rx="4.2" ry="2.1" fill="#9490cc" fill-opacity="0.75" transform="rotate(8 412.9 243.8)"/>
<ellipse cx="437.1" cy="160.2" rx="4.0" ry="1.5" fill="#9490cc" fill-opacity="0.75" transform="rotate(-65 437.1 160.2)"/>
<ellipse cx="410.1" cy="165.5" rx="3.7" ry="1.7" fill="#9490cc" fill-opacity="0.75" transform="rotate(-19 410.1 165.5)"/>
<ellipse cx="486.0" cy="228.1" rx="3.8" ry="2.1" fill="#9490cc" fill-opacity="0.75" transform="rotate(-74 486.0 228.1)"/>
<ellipse cx="515.0" cy="238.5" rx="3.6" ry="1.4" fill="#9490cc" fill-opacity="0.75" transform="rotate(0 515.0 238.5)"/>
<ellipse cx="429.9" cy="201.7" rx="3.3" ry="2.0" fill="#9490cc" fill-opacity="0.75" transform="rotate(-37 429.9 201.7)"/>
<ellipse cx="514.9" cy="185.5" rx="2.9" ry="1.6" fill="#9490cc" fill-opacity="0.75" transform="rotate(-33 514.9 185.5)"/>
<ellipse cx="409.5" cy="199.1" rx="3.7" ry="1.7" fill="#9490cc" fill-opacity="0.75" transform="rotate(-32 409.5 199.1)"/>
<ellipse cx="375.8" cy="207.4" rx="3.4" ry="2.2" fill="#9490cc" fill-opacity="0.75" transform="rotate(-63 375.8 207.4)"/>
<ellipse cx="456.5" cy="151.0" rx="3.7" ry="1.8" fill="#9490cc" fill-opacity="0.75" transform="rotate(-68 456.5 151.0)"/>
<ellipse cx="462.5" cy="207.7" rx="3.6" ry="2.0" fill="#9490cc" fill-opacity="0.75" transform="rotate(4 462.5 207.7)"/>
<ellipse cx="522.3" cy="217.4" rx="3.8" ry="2.2" fill="#9490cc" fill-opacity="0.75" transform="rotate(-51 522.3 217.4)"/>
<ellipse cx="511.8" cy="275.8" rx="2.6" ry="2.1" fill="#9490cc" fill-opacity="0.75" transform="rotate(-13 511.8 275.8)"/>
<ellipse cx="495.7" cy="199.9" rx="2.8" ry="2.3" fill="#9490cc" fill-opacity="0.75" transform="rotate(-58 495.7 199.9)"/>
<ellipse cx="539.9" cy="264.3" rx="2.9" ry="2.4" fill="#9490cc" fill-opacity="0.75" transform="rotate(-50 539.9 264.3)"/>
<ellipse cx="456.3" cy="180.0" rx="3.6" ry="1.5" fill="#9490cc" fill-opacity="0.75" transform="rotate(-28 456.3 180.0)"/>
<ellipse cx="464.9" cy="252.4" rx="3.6" ry="1.4" fill="#9490cc" fill-opacity="0.75" transform="rotate(-19 464.9 252.4)"/>
<ellipse cx="375.4" cy="225.5" rx="3.6" ry="2.2" fill="#9490cc" fill-opacity="0.75" transform="rotate(-53 375.4 225.5)"/>
<ellipse cx="456.3" cy="223.7" rx="3.3" ry="2.3" fill="#9490cc" fill-opacity="0.75" transform="rotate(-9 456.3 223.7)"/>
<ellipse cx="505.5" cy="172.6" rx="3.3" ry="1.7" fill="#9490cc" fill-opacity="0.75" transform="rotate(-54 505.5 172.6)"/>
<ellipse cx="512.9" cy="223.2" rx="2.9" ry="2.1" fill="#9490cc" fill-opacity="0.75" transform="rotate(6 512.9 223.2)"/>
<ellipse cx="434.5" cy="151.4" rx="3.4" ry="2.1" fill="#9490cc" fill-opacity="0.75" transform="rotate(-35 434.5 151.4)"/>
<ellipse cx="515.5" cy="253.1" rx="3.5" ry="1.5" fill="#9490cc" fill-opacity="0.75" transform="rotate(-21 515.5 253.1)"/>
<ellipse cx="467.5" cy="201.0" rx="3.3" ry="1.8" fill="#9490cc" fill-opacity="0.75" transform="rotate(-73 467.5 201.0)"/>
<ellipse cx="532.9" cy="238.0" rx="3.5" ry="2.4" fill="#9490cc" fill-opacity="0.75" transform="rotate(-41 532.9 238.0)"/>
<ellipse cx="540.8" cy="250.5" rx="3.2" ry="1.4" fill="#9490cc" fill-opacity="0.75" transform="rotate(13 540.8 250.5)"/>
<ellipse cx="519.4" cy="245.7" rx="3.7" ry="2.2" fill="#9490cc" fill-opacity="0.75" transform="rotate(-70 519.4 245.7)"/>
<ellipse cx="537.0" cy="268.7" rx="2.8" ry="2.3" fill="#9490cc" fill-opacity="0.75" transform="rotate(-31 537.0 268.7)"/>
<ellipse cx="519.8" cy="243.2" rx="4.1" ry="2.1" fill="#9490cc" fill-opacity="0.75" transform="rotate(-30 519.8 243.2)"/>
<ellipse cx="542.2" cy="179.3" rx="4.1" ry="1.8" fill="#9490cc" fill-opacity="0.75" transform="rotate(13 542.2 179.3)"/>
<ellipse cx="520.7" cy="150.0" rx="3.6" ry="1.9" fill="#9490cc" fill-opacity="0.75" transform="rotate(-51 520.7 150.0)"/>
<ellipse cx="334.4" cy="260.0" rx="3.8" ry="1.9" fill="#9490cc" fill-opacity="0.75" transform="rotate(-19 334.4 260.0)"/>
<ellipse cx="520.9" cy="170.8" rx="3.9" ry="2.2" fill="#9490cc" fill-opacity="0.75" transform="rotate(-27 520.9 170.8)"/>
<ellipse cx="489.9" cy="199.4" rx="2.9" ry="2.1" fill="#9490cc" fill-opacity="0.75" transform="rotate(-49 489.9 199.4)"/>
<ellipse cx="518.2" cy="233.4" rx="3.1" ry="2.2" fill="#9490cc" fill-opacity="0.75" transform="rotate(-42 518.2 233.4)"/>
<ellipse cx="375.7" cy="264.0" rx="3.1" ry="2.0" fill="#9490cc" fill-opacity="0.75" transform="rotate(-20 375.7 264.0)"/>
<ellipse cx="546.4" cy="190.6" rx="3.5" ry="2.2" fill="#9490cc" fill-opacity="0.75" transform="rotate(-51 546.4 190.6)"/>
<ellipse cx="505.0" cy="232.1" rx="2.9" ry="1.6" fill="#9490cc" fill-opacity="0.75" transform="rotate(0 505.0 232.1)"/>
<ellipse cx="365.9" cy="181.1" rx="2.7" ry="2.1" fill="#9490cc" fill-opacity="0.75" transform="rotate(-10 365.9 181.1)"/>
<ellipse cx="442.8" cy="269.1" rx="3.6" ry="2.0" fill="#9490cc" fill-opacity="0.75" transform="rotate(-71 442.8 269.1)"/>
<ellipse cx="538.6" cy="254.3" rx="3.4" ry="2.3" fill="#9490cc" fill-opacity="0.75" transform="rotate(-36 538.6 254.3)"/>
<ellipse cx="454.8" cy="165.8" rx="3.4" ry="1.7" fill="#9490cc" fill-opacity="0.75" transform="rotate(-53 454.8 165.8)"/>
<ellipse cx="501.2" cy="209.6" rx="3.8" ry="1.8" fill="#9490cc" fill-opacity="0.75" transform="rotate(-8 501.2 209.6)"/>
<ellipse cx="360.0" cy="235.2" rx="3.8" ry="1.9" fill="#9490cc" fill-opacity="0.75" transform="rotate(-51 360.0 235.2)"/>
<ellipse cx="504.9" cy="151.5" rx="3.5" ry="1.9" fill="#9490cc" fill-opacity="0.75" transform="rotate(-68 504.9 151.5)"/>
<ellipse cx="439.6" cy="204.5" rx="2.7" ry="1.8" fill="#9490cc" fill-opacity="0.75" transform="rotate(-23 439.6 204.5)"/>
<ellipse cx="503.6" cy="194.8" rx="4.0" ry="1.8" fill="#9490cc" fill-opacity="0.75" transform="rotate(-66 503.6 194.8)"/>
<ellipse cx="416.1" cy="174.5" rx="3.2" ry="2.1" fill="#9490cc" fill-opacity="0.75" transform="rotate(-42 416.1 174.5)"/>
<ellipse cx="436.0" cy="258.2" rx="3.5" ry="1.7" fill="#9490cc" fill-opacity="0.75" transform="rotate(6 436.0 258.2)"/>
<ellipse cx="506.4" cy="223.0" rx="3.6" ry="1.7" fill="#9490cc" fill-opacity="0.75" transform="rotate(-23 506.4 223.0)"/>
<ellipse cx="312.3" cy="159.5" rx="2.8" ry="2.0" fill="#9490cc" fill-opacity="0.75" transform="rotate(8 312.3 159.5)"/>
<ellipse cx="498.2" cy="175.3" rx="2.8" ry="2.2" fill="#9490cc" fill-opacity="0.75" transform="rotate(-54 498.2 175.3)"/>
<ellipse cx="525.3" cy="248.3" rx="2.7" ry="1.5" fill="#9490cc" fill-opacity="0.75" transform="rotate(-67 525.3 248.3)"/>
<ellipse cx="440.3" cy="188.2" rx="3.9" ry="1.6" fill="#9490cc" fill-opacity="0.75" transform="rotate(-19 440.3 188.2)"/>
<ellipse cx="421.5" cy="233.1" rx="2.7" ry="1.6" fill="#9490cc" fill-opacity="0.75" transform="rotate(-13 421.5 233.1)"/>
<ellipse cx="517.2" cy="228.4" rx="3.9" ry="1.8" fill="#9490cc" fill-opacity="0.75" transform="rotate(-67 517.2 228.4)"/>
<ellipse cx="460.1" cy="170.1" rx="3.6" ry="1.8" fill="#9490cc" fill-opacity="0.75" transform="rotate(-45 460.1 170.1)"/>
<ellipse cx="519.5" cy="257.9" rx="3.9" ry="2.0" fill="#9490cc" fill-opacity="0.75" transform="rotate(-35 519.5 257.9)"/>
<ellipse cx="474.4" cy="220.2" rx="3.2" ry="1.4" fill="#9490cc" fill-opacity="0.75" transform="rotate(-64 474.4 220.2)"/>
<ellipse cx="401.4" cy="257.5" rx="3.5" ry="1.6" fill="#9490cc" fill-opacity="0.75" transform="rotate(9 401.4 257.5)"/>
<ellipse cx="521.5" cy="270.7" rx="3.0" ry="1.5" fill="#9490cc" fill-opacity="0.75" transform="rotate(-23 521.5 270.7)"/>
<ellipse cx="306.7" cy="198.6" rx="3.4" ry="2.3" fill="#9490cc" fill-opacity="0.75" transform="rotate(-54 306.7 198.6)"/>
<ellipse cx="542.4" cy="179.9" rx="3.9" ry="2.2" fill="#9490cc" fill-opacity="0.75" transform="rotate(-33 542.4 179.9)"/>
<ellipse cx="508.2" cy="163.7" rx="4.0" ry="2.0" fill="#9490cc" fill-opacity="0.75" transform="rotate(-68 508.2 163.7)"/>
<ellipse cx="344.9" cy="165.1" rx="3.7" ry="2.0" fill="#9490cc" fill-opacity="0.75" transform="rotate(-15 344.9 165.1)"/>
<ellipse cx="332.84" cy="160.76" rx="5.66" ry="4.71" fill="#c88e4e" fill-opacity="1"/>
<ellipse cx="340.6" cy="187.38" rx="4.71" ry="4.71" fill="#d6aa78" fill-opacity="1"/>
<ellipse cx="352.8" cy="202.91" rx="3.77" ry="4.71" fill="#c88e4e" fill-opacity="1"/>
<ellipse cx="343.93" cy="209.01" rx="5.66" ry="4.24" fill="#c88e4e" fill-opacity="1"/>
<ellipse cx="312.87" cy="206.24" rx="3.77" ry="1.89" fill="#c88e4e" fill-opacity="1"/>
<ellipse cx="409.37" cy="162.98" rx="2.83" ry="2.83" fill="#c88e4e" fill-opacity="1"/>
<ellipse cx="372.77" cy="212.34" rx="3.77" ry="1.41" fill="#c88e4e" fill-opacity="1"/>
<ellipse cx="326.18" cy="185.17" rx="3.77" ry="4.71" fill="#d7cdbe" fill-opacity="1"/>
<ellipse cx="308.44" cy="161.87" rx="4.21" ry="3.19" fill="#908ccc" fill-opacity="1" transform="rotate(-28.43 308.44 161.87)"/>
<ellipse cx="343.93" cy="161.87" rx="4.21" ry="3.19" fill="#908ccc" fill-opacity="1" transform="rotate(-17.3 343.93 161.87)"/>
<ellipse cx="352.8" cy="156.33" rx="4.21" ry="2.4" fill="#908ccc" fill-opacity="1" transform="rotate(-18.89 352.8 156.33)"/>
<ellipse cx="367.22" cy="158.55" rx="3.16" ry="2.4" fill="#908ccc" fill-opacity="1" transform="rotate(-24.26 367.22 158.55)"/>
<ellipse cx="361.68" cy="168.53" rx="4.21" ry="3.19" fill="#908ccc" fill-opacity="1" transform="rotate(-40.78 361.68 168.53)"/>
<ellipse cx="341.71" cy="172.96" rx="4.21" ry="3.19" fill="#908ccc" fill-opacity="1" transform="rotate(-47.41 341.71 172.96)"/>
<ellipse cx="358.35" cy="177.4" rx="4.21" ry="2.4" fill="#908ccc" fill-opacity="1" transform="rotate(-52.2 358.35 177.4)"/>
<ellipse cx="379.42" cy="176.29" rx="8.43" ry="3.99" fill="#908ccc" fill-opacity="1" transform="rotate(-32.65 379.42 176.29)"/>
<ellipse cx="380.53" cy="190.71" rx="4.21" ry="2.4" fill="#908ccc" fill-opacity="1" transform="rotate(-49.79 380.53 190.71)"/>
<ellipse cx="402.71" cy="166.31" rx="3.16" ry="1.6" fill="#908ccc" fill-opacity="1" transform="rotate(-23 402.71 166.31)"/>
<ellipse cx="410.48" cy="174.07" rx="4.21" ry="2.4" fill="#908ccc" fill-opacity="1" transform="rotate(-43.98 410.48 174.07)"/>
<ellipse cx="414.91" cy="188.49" rx="4.21" ry="1.6" fill="#908ccc" fill-opacity="1" transform="rotate(-31.04 414.91 188.49)"/>
<ellipse cx="422.68" cy="161.87" rx="4.21" ry="2.4" fill="#908ccc" fill-opacity="1" transform="rotate(-32.68 422.68 161.87)"/>
<ellipse cx="317.31" cy="197.37" rx="4.21" ry="3.19" fill="#908ccc" fill-opacity="1" transform="rotate(-28.6 317.31 197.37)"/>
<ellipse cx="308.44" cy="200.69" rx="4.21" ry="2.4" fill="#908ccc" fill-opacity="1" transform="rotate(-52.23 308.44 200.69)"/>
<ellipse cx="325.07" cy="207.35" rx="3.16" ry="2.4" fill="#908ccc" fill-opacity="1" transform="rotate(-47.19 325.07 207.35)"/>
<ellipse cx="365" cy="204.57" rx="5.27" ry="2.8" fill="#908ccc" fill-opacity="1" transform="rotate(-25.57 365 204.57)"/>
<ellipse cx="396.06" cy="204.02" rx="7.38" ry="3.19" fill="#908ccc" fill-opacity="1" transform="rotate(-49.34 396.06 204.02)"/>
<ellipse cx="402.71" cy="210.12" rx="5.27" ry="2.8" fill="#908ccc" fill-opacity="1" transform="rotate(-26.43 402.71 210.12)"/>
<ellipse cx="461.49" cy="171.86" rx="5.66" ry="4.71" fill="#c88e4e" fill-opacity="1"/>
<ellipse cx="430.44" cy="186.27" rx="3.77" ry="3.77" fill="#c88e4e" fill-opacity="1"/>
<ellipse cx="429.33" cy="157.44" rx="2.83" ry="3.77" fill="#c88e4e" fill-opacity="1"/>
<ellipse cx="441.53" cy="202.91" rx="3.77" ry="4.71" fill="#c88e4e" fill-opacity="1"/>
<ellipse cx="450.4" cy="206.24" rx="5.66" ry="4.71" fill="#c88e4e" fill-opacity="1"/>
<ellipse cx="505.86" cy="202.91" rx="5.66" ry="4.71" fill="#c88e4e" fill-opacity="1"/>
<ellipse cx="485.89" cy="160.76" rx="3.77" ry="4.71" fill="#be968c" fill-opacity="1"/>
<ellipse cx="430.44" cy="210.12" rx="3.77" ry="3.3" fill="#c88e4e" fill-opacity="1"/>
<ellipse cx="438.2" cy="164.09" rx="5.27" ry="3.19" fill="#908ccc" fill-opacity="1" transform="rotate(-11.75 438.2 164.09)"/>
<ellipse cx="458.17" cy="162.98" rx="3.16" ry="2.4" fill="#908ccc" fill-opacity="1" transform="rotate(-40.54 458.17 162.98)"/>
<ellipse cx="469.26" cy="158.55" rx="3.16" ry="2.4" fill="#908ccc" fill-opacity="1" transform="rotate(-11.92 469.26 158.55)"/>
<ellipse cx="487" cy="168.53" rx="4.21" ry="2.4" fill="#6e64b4" fill-opacity="1" transform="rotate(-29.29 487 168.53)"/>
<ellipse cx="477.02" cy="177.4" rx="4.21" ry="3.19" fill="#908ccc" fill-opacity="1" transform="rotate(-12.78 477.02 177.4)"/>
<ellipse cx="485.89" cy="178.51" rx="4.21" ry="2.4" fill="#908ccc" fill-opacity="1" transform="rotate(-33.69 485.89 178.51)"/>
<ellipse cx="501.42" cy="176.29" rx="5.27" ry="3.19" fill="#908ccc" fill-opacity="1" transform="rotate(-22.36 501.42 176.29)"/>
<ellipse cx="513.62" cy="178.51" rx="3.16" ry="2.4" fill="#908ccc" fill-opacity="1" transform="rotate(-25.87 513.62 178.51)"/>
<ellipse cx="523.6" cy="184.06" rx="4.21" ry="3.19" fill="#908ccc" fill-opacity="1" transform="rotate(-50.24 523.6 184.06)"/>
<ellipse cx="531.37" cy="178.51" rx="3.16" ry="2.4" fill="#908ccc" fill-opacity="1" transform="rotate(-34.1 531.37 178.51)"/>
<ellipse cx="536.91" cy="164.09" rx="4.21" ry="3.19" fill="#908ccc" fill-opacity="1" transform="rotate(-30.95 536.91 164.09)"/>
<ellipse cx="452.62" cy="192.93" rx="4.21" ry="3.19" fill="#908ccc" fill-opacity="1" transform="rotate(-36.82 452.62 192.93)"/>
<ellipse cx="465.93" cy="196.26" rx="5.27" ry="3.19" fill="#908ccc" fill-opacity="1" transform="rotate(-27 465.93 196.26)"/>
<ellipse cx="492.55" cy="191.82" rx="5.27" ry="3.19" fill="#908ccc" fill-opacity="1" transform="rotate(-14.54 492.55 191.82)"/>
<ellipse cx="514.73" cy="194.04" rx="5.27" ry="3.19" fill="#908ccc" fill-opacity="1" transform="rotate(-20.25 514.73 194.04)"/>
<ellipse cx="523.6" cy="196.26" rx="5.27" ry="3.19" fill="#908ccc" fill-opacity="1" transform="rotate(-19.39 523.6 196.26)"/>
<ellipse cx="535.8" cy="200.69" rx="5.27" ry="3.99" fill="#908ccc" fill-opacity="1" transform="rotate(-52.83 535.8 200.69)"/>
<ellipse cx="471.47" cy="210.12" rx="5.27" ry="2.8" fill="#908ccc" fill-opacity="1" transform="rotate(-24.84 471.47 210.12)"/>
<ellipse cx="484.78" cy="208.46" rx="4.21" ry="2.4" fill="#908ccc" fill-opacity="1" transform="rotate(-28.63 484.78 208.46)"/>
<ellipse cx="519.17" cy="210.12" rx="4.21" ry="2.8" fill="#908ccc" fill-opacity="1" transform="rotate(-13.08 519.17 210.12)"/>
<ellipse cx="541.35" cy="210.12" rx="4.21" ry="2.8" fill="#908ccc" fill-opacity="1" transform="rotate(-59.87 541.35 210.12)"/>
<ellipse cx="509.19" cy="187.38" rx="5.27" ry="2.4" fill="#908ccc" fill-opacity="1" transform="rotate(-51.38 509.19 187.38)"/>
<ellipse cx="544.68" cy="180.73" rx="5.27" ry="2.4" fill="#908ccc" fill-opacity="1" transform="rotate(-11.22 544.68 180.73)"/>
<ellipse cx="443.75" cy="174.07" rx="4.21" ry="2.4" fill="#908ccc" fill-opacity="1" transform="rotate(-41.38 443.75 174.07)"/>
<ellipse cx="474.8" cy="165.2" rx="4.21" ry="2.4" fill="#908ccc" fill-opacity="1" transform="rotate(-24.72 474.8 165.2)"/>
<ellipse cx="319.53" cy="217.44" rx="5.66" ry="3.77" fill="#c88e4e" fill-opacity="1"/>
<ellipse cx="307.33" cy="228.53" rx="2.83" ry="3.77" fill="#c88e4e" fill-opacity="1"/>
<ellipse cx="348.37" cy="238.51" rx="5.66" ry="4.71" fill="#c88e4e" fill-opacity="1"/>
<ellipse cx="350.58" cy="249.6" rx="5.66" ry="4.71" fill="#c88e4e" fill-opacity="1"/>
<ellipse cx="352.8" cy="257.37" rx="5.66" ry="3.77" fill="#c88e4e" fill-opacity="1"/>
<ellipse cx="340.6" cy="259.58" rx="4.71" ry="3.77" fill="#d6aa78" fill-opacity="1"/>
<ellipse cx="387.19" cy="248.49" rx="4.71" ry="5.66" fill="#c88e4e" fill-opacity="1"/>
<ellipse cx="413.8" cy="229.64" rx="4.71" ry="4.71" fill="#c88e4e" fill-opacity="1"/>
<ellipse cx="399.39" cy="217.44" rx="3.77" ry="3.77" fill="#c88e4e" fill-opacity="1"/>
<ellipse cx="377.2" cy="227.42" rx="5.66" ry="2.83" fill="#d6b48c" fill-opacity="1"/>
<ellipse cx="362.78" cy="241.84" rx="4.71" ry="3.77" fill="#d6af82" fill-opacity="1"/>
<ellipse cx="320.64" cy="244.06" rx="7.38" ry="3.19" fill="#908ccc" fill-opacity="1" transform="rotate(-30.41 320.64 244.06)"/>
<ellipse cx="341.71" cy="225.2" rx="5.27" ry="3.19" fill="#908ccc" fill-opacity="1" transform="rotate(-40.1 341.71 225.2)"/>
<ellipse cx="316.2" cy="225.2" rx="5.27" ry="2.4" fill="#908ccc" fill-opacity="1" transform="rotate(-38.07 316.2 225.2)"/>
<ellipse cx="361.68" cy="216.33" rx="4.21" ry="2.4" fill="#908ccc" fill-opacity="1" transform="rotate(-31.89 361.68 216.33)"/>
<ellipse cx="370.55" cy="218.55" rx="4.21" ry="2.4" fill="#908ccc" fill-opacity="1" transform="rotate(-10.74 370.55 218.55)"/>
<ellipse cx="367.22" cy="235.18" rx="3.16" ry="1.6" fill="#908ccc" fill-opacity="1" transform="rotate(-33.33 367.22 235.18)"/>
<ellipse cx="370.55" cy="248.49" rx="6.32" ry="3.19" fill="#908ccc" fill-opacity="1" transform="rotate(-20.49 370.55 248.49)"/>
<ellipse cx="398.28" cy="246.27" rx="4.21" ry="2.4" fill="#908ccc" fill-opacity="1" transform="rotate(-44.83 398.28 246.27)"/>
<ellipse cx="404.93" cy="227.42" rx="5.27" ry="2.4" fill="#908ccc" fill-opacity="1" transform="rotate(-24.41 404.93 227.42)"/>
<ellipse cx="411.59" cy="248.49" rx="4.21" ry="2.4" fill="#908ccc" fill-opacity="1" transform="rotate(-29.77 411.59 248.49)"/>
<ellipse cx="377.2" cy="260.69" rx="4.21" ry="2.4" fill="#908ccc" fill-opacity="1" transform="rotate(-22.83 377.2 260.69)"/>
<ellipse cx="419.35" cy="260.69" rx="5.27" ry="3.19" fill="#908ccc" fill-opacity="1" transform="rotate(-16.02 419.35 260.69)"/>
<ellipse cx="361.68" cy="266.24" rx="4.21" ry="3.19" fill="#908ccc" fill-opacity="1" transform="rotate(-56.01 361.68 266.24)"/>
<ellipse cx="386.08" cy="268.46" rx="4.21" ry="3.19" fill="#908ccc" fill-opacity="1" transform="rotate(-11.65 386.08 268.46)"/>
<ellipse cx="321.75" cy="261.8" rx="4.21" ry="3.19" fill="#908ccc" fill-opacity="1" transform="rotate(-29.49 321.75 261.8)"/>
<ellipse cx="307.33" cy="246.27" rx="4.21" ry="2.4" fill="#908ccc" fill-opacity="1" transform="rotate(-47.01 307.33 246.27)"/>
<ellipse cx="307.33" cy="269.57" rx="3.16" ry="2.4" fill="#908ccc" fill-opacity="1" transform="rotate(-36.78 307.33 269.57)"/>
<ellipse cx="332.84" cy="254.04" rx="4.21" ry="2.4" fill="#908ccc" fill-opacity="1" transform="rotate(-55.16 332.84 254.04)"/>
<ellipse cx="398.28" cy="260.69" rx="3.16" ry="2.4" fill="#908ccc" fill-opacity="1" transform="rotate(-48.44 398.28 260.69)"/>
<ellipse cx="422.68" cy="216.33" rx="3.16" ry="2.4" fill="#908ccc" fill-opacity="1" transform="rotate(-18.11 422.68 216.33)"/>
<ellipse cx="435.98" cy="215.22" rx="4.71" ry="1.89" fill="#c88e4e" fill-opacity="1"/>
<ellipse cx="443.75" cy="216.33" rx="3.77" ry="2.83" fill="#c88e4e" fill-opacity="1"/>
<ellipse cx="443.75" cy="228.53" rx="5.66" ry="5.66" fill="#c88e4e" fill-opacity="1"/>
<ellipse cx="433.76" cy="232.96" rx="4.71" ry="3.77" fill="#c88e4e" fill-opacity="1"/>
<ellipse cx="463.71" cy="236.29" rx="5.66" ry="4.71" fill="#c88e4e" fill-opacity="1"/>
<ellipse cx="472.58" cy="226.86" rx="5.66" ry="3.3" fill="#c88e4e" fill-opacity="1"/>
<ellipse cx="473.69" cy="241.84" rx="6.6" ry="5.66" fill="#c88e4e" fill-opacity="1"/>
<ellipse cx="457.06" cy="247.94" rx="3.77" ry="5.19" fill="#c88e4e" fill-opacity="1"/>
<ellipse cx="505.86" cy="217.44" rx="3.77" ry="3.77" fill="#c88e4e" fill-opacity="1"/>
<ellipse cx="540.24" cy="232.96" rx="2.83" ry="3.77" fill="#c8966e" fill-opacity="1"/>
<ellipse cx="545.79" cy="261.8" rx="1.89" ry="3.77" fill="#c88e4e" fill-opacity="1"/>
<ellipse cx="441.53" cy="221.87" rx="2.11" ry="1.6" fill="#5a50aa" fill-opacity="1" transform="rotate(-24.44 441.53 221.87)"/>
<ellipse cx="445.96" cy="237.4" rx="2.11" ry="1.6" fill="#908ccc" fill-opacity="1" transform="rotate(-16.68 445.96 237.4)"/>
<ellipse cx="453.73" cy="234.07" rx="2.11" ry="1.6" fill="#908ccc" fill-opacity="1" transform="rotate(-51.88 453.73 234.07)"/>
<ellipse cx="485.89" cy="217.44" rx="6.32" ry="3.19" fill="#908ccc" fill-opacity="1" transform="rotate(-54.59 485.89 217.44)"/>
<ellipse cx="491.44" cy="236.29" rx="7.38" ry="3.99" fill="#908ccc" fill-opacity="1" transform="rotate(-41.03 491.44 236.29)"/>
<ellipse cx="512.51" cy="240.73" rx="5.27" ry="3.19" fill="#908ccc" fill-opacity="1" transform="rotate(-35.21 512.51 240.73)"/>
<ellipse cx="508.08" cy="227.42" rx="5.27" ry="3.19" fill="#908ccc" fill-opacity="1" transform="rotate(-24.46 508.08 227.42)"/>
<ellipse cx="520.28" cy="226.31" rx="5.27" ry="3.19" fill="#908ccc" fill-opacity="1" transform="rotate(-45.08 520.28 226.31)"/>
<ellipse cx="526.93" cy="216.33" rx="5.27" ry="2.4" fill="#908ccc" fill-opacity="1" transform="rotate(-23.14 526.93 216.33)"/>
<ellipse cx="534.7" cy="227.42" rx="5.27" ry="3.19" fill="#908ccc" fill-opacity="1" transform="rotate(-30.79 534.7 227.42)"/>
<ellipse cx="530.26" cy="250.71" rx="6.32" ry="4.79" fill="#908ccc" fill-opacity="1" transform="rotate(-45.57 530.26 250.71)"/>
<ellipse cx="514.73" cy="252.93" rx="4.21" ry="3.19" fill="#908ccc" fill-opacity="1" transform="rotate(-20.61 514.73 252.93)"/>
<ellipse cx="492.55" cy="252.93" rx="4.21" ry="3.19" fill="#908ccc" fill-opacity="1" transform="rotate(-56.32 492.55 252.93)"/>
<ellipse cx="500.31" cy="262.91" rx="3.16" ry="2.4" fill="#908ccc" fill-opacity="1" transform="rotate(-30.39 500.31 262.91)"/>
<ellipse cx="481.46" cy="261.8" rx="4.21" ry="3.19" fill="#908ccc" fill-opacity="1" transform="rotate(-50.61 481.46 261.8)"/>
<ellipse cx="464.82" cy="261.8" rx="6.32" ry="3.99" fill="#908ccc" fill-opacity="1" transform="rotate(-57.87 464.82 261.8)"/>
<ellipse cx="471.47" cy="270.12" rx="3.69" ry="2.4" fill="#908ccc" fill-opacity="1" transform="rotate(-36.08 471.47 270.12)"/>
<ellipse cx="451.51" cy="264.02" rx="6.32" ry="3.99" fill="#908ccc" fill-opacity="1" transform="rotate(-34.01 451.51 264.02)"/>
<ellipse cx="434.87" cy="259.58" rx="4.21" ry="3.19" fill="#908ccc" fill-opacity="1" transform="rotate(-29.37 434.87 259.58)"/>
<ellipse cx="429.33" cy="268.46" rx="4.21" ry="2.4" fill="#908ccc" fill-opacity="1" transform="rotate(-41.24 429.33 268.46)"/>
<ellipse cx="509.19" cy="269.01" rx="5.27" ry="3.59" fill="#908ccc" fill-opacity="1" transform="rotate(-13.52 509.19 269.01)"/>
<ellipse cx="539.13" cy="248.49" rx="4.21" ry="3.19" fill="#908ccc" fill-opacity="1" transform="rotate(-20.79 539.13 248.49)"/>
<ellipse cx="544.68" cy="251.82" rx="5.27" ry="2.4" fill="#908ccc" fill-opacity="1" transform="rotate(-52.3 544.68 251.82)"/>
</g>
<polygon points="407.15,196.26 409.37,192.93 420.46,199.58 422.01,196.92 428.22,206.24 417.58,205.8 418.91,203.13" fill="#f6f4f0" stroke="#e03030" stroke-width="0.9" stroke-linejoin="round"/><rect x="524" y="265" width="18" height="3.6" fill="#fff"/><text x="533" y="268" font-size="3" text-anchor="middle" fill="#444">20µm</text>
</g><clipPath id="cF"><rect x="304" y="287.5" width="243" height="121"/></clipPath>
<filter id="bF" x="-2%" y="-2%" width="104%" height="104%"><feGaussianBlur stdDeviation="0.6"/></filter>
<g clip-path="url(#cF)"><rect x="304" y="287.5" width="243" height="121" fill="#acf8cc"/>
<filter id="rF" x="-5%" y="-5%" width="110%" height="110%"><feGaussianBlur stdDeviation="2.5"/></filter>
<g filter="url(#rF)">
</g>
<g filter="url(#bF)">
<ellipse cx="302.9" cy="285.4" rx="6.1" ry="3.0" fill="#f0a2d8" fill-opacity="0.75" transform="rotate(39 302.9 285.4)"/>
<ellipse cx="311.5" cy="285.0" rx="4.1" ry="3.6" fill="#ec94ce" fill-opacity="0.81" transform="rotate(-59 311.5 285.0)"/>
<ellipse cx="325.1" cy="288.3" rx="5.4" ry="3.6" fill="#f0a2d8" fill-opacity="0.84" transform="rotate(-79 325.1 288.3)"/>
<ellipse cx="331.9" cy="285.3" rx="5.4" ry="3.9" fill="#f0a2d8" fill-opacity="0.77" transform="rotate(-64 331.9 285.3)"/>
<ellipse cx="341.3" cy="288.3" rx="5.4" ry="4.0" fill="#f0a2d8" fill-opacity="0.72" transform="rotate(46 341.3 288.3)"/>
<ellipse cx="349.6" cy="286.4" rx="4.8" ry="3.3" fill="#e89ed6" fill-opacity="0.64" transform="rotate(-28 349.6 286.4)"/>
<ellipse cx="356.7" cy="286.3" rx="5.8" ry="3.4" fill="#f4bae2" fill-opacity="0.85" transform="rotate(-60 356.7 286.3)"/>
<ellipse cx="368.5" cy="285.5" rx="5.0" ry="4.7" fill="#e89ed6" fill-opacity="0.62" transform="rotate(52 368.5 285.5)"/>
<ellipse cx="378.0" cy="289.8" rx="5.5" ry="4.0" fill="#f4bae2" fill-opacity="0.71" transform="rotate(-67 378.0 289.8)"/>
<ellipse cx="389.5" cy="287.3" rx="5.8" ry="3.4" fill="#f0a2d8" fill-opacity="0.74" transform="rotate(84 389.5 287.3)"/>
<ellipse cx="397.9" cy="286.2" rx="3.9" ry="3.7" fill="#f4bae2" fill-opacity="0.64" transform="rotate(-61 397.9 286.2)"/>
<ellipse cx="405.2" cy="285.8" rx="4.9" ry="4.6" fill="#ec94ce" fill-opacity="0.72" transform="rotate(-48 405.2 285.8)"/>
<ellipse cx="425.5" cy="289.7" rx="6.6" ry="4.2" fill="#e89ed6" fill-opacity="0.70" transform="rotate(-31 425.5 289.7)"/>
<ellipse cx="430.7" cy="285.6" rx="3.8" ry="4.5" fill="#ec94ce" fill-opacity="0.65" transform="rotate(-18 430.7 285.6)"/>
<ellipse cx="439.0" cy="287.0" rx="6.5" ry="4.2" fill="#f4bae2" fill-opacity="0.73" transform="rotate(68 439.0 287.0)"/>
<ellipse cx="452.1" cy="288.9" rx="4.9" ry="3.6" fill="#e89ed6" fill-opacity="0.72" transform="rotate(12 452.1 288.9)"/>
<ellipse cx="457.8" cy="284.9" rx="4.1" ry="4.0" fill="#ec94ce" fill-opacity="0.63" transform="rotate(55 457.8 284.9)"/>
<ellipse cx="467.5" cy="285.1" rx="4.0" ry="3.2" fill="#f0a2d8" fill-opacity="0.69" transform="rotate(72 467.5 285.1)"/>
<ellipse cx="477.3" cy="286.6" rx="4.1" ry="3.8" fill="#f0a2d8" fill-opacity="0.84" transform="rotate(32 477.3 286.6)"/>
<ellipse cx="487.9" cy="285.0" rx="5.9" ry="3.8" fill="#f4bae2" fill-opacity="0.77" transform="rotate(42 487.9 285.0)"/>
<ellipse cx="494.3" cy="290.2" rx="5.7" ry="4.6" fill="#ec94ce" fill-opacity="0.79" transform="rotate(-14 494.3 290.2)"/>
<ellipse cx="509.3" cy="289.7" rx="5.3" ry="4.6" fill="#f4bae2" fill-opacity="0.69" transform="rotate(-33 509.3 289.7)"/>
<ellipse cx="515.8" cy="289.2" rx="5.5" ry="4.4" fill="#ec94ce" fill-opacity="0.79" transform="rotate(-41 515.8 289.2)"/>
<ellipse cx="526.6" cy="289.4" rx="4.4" ry="3.8" fill="#ec94ce" fill-opacity="0.78" transform="rotate(-83 526.6 289.4)"/>
<ellipse cx="535.7" cy="287.3" rx="5.1" ry="4.7" fill="#f4bae2" fill-opacity="0.85" transform="rotate(3 535.7 287.3)"/>
<ellipse cx="540.7" cy="285.1" rx="4.4" ry="4.0" fill="#f4bae2" fill-opacity="0.83" transform="rotate(-90 540.7 285.1)"/>
<ellipse cx="303.9" cy="297.6" rx="6.1" ry="3.0" fill="#f0a2d8" fill-opacity="0.70" transform="rotate(-39 303.9 297.6)"/>
<ellipse cx="313.1" cy="294.8" rx="4.0" ry="4.7" fill="#f4bae2" fill-opacity="0.78" transform="rotate(28 313.1 294.8)"/>
<ellipse cx="321.8" cy="299.4" rx="6.6" ry="2.9" fill="#ec94ce" fill-opacity="0.75" transform="rotate(29 321.8 299.4)"/>
<ellipse cx="343.7" cy="297.6" rx="3.9" ry="4.4" fill="#ec94ce" fill-opacity="0.78" transform="rotate(-64 343.7 297.6)"/>
<ellipse cx="350.2" cy="299.3" rx="6.1" ry="3.2" fill="#ec94ce" fill-opacity="0.66" transform="rotate(-16 350.2 299.3)"/>
<ellipse cx="359.2" cy="298.3" rx="6.1" ry="2.9" fill="#e89ed6" fill-opacity="0.78" transform="rotate(27 359.2 298.3)"/>
<ellipse cx="369.4" cy="298.6" rx="5.3" ry="3.8" fill="#ec94ce" fill-opacity="0.60" transform="rotate(22 369.4 298.6)"/>
<ellipse cx="379.3" cy="297.4" rx="4.3" ry="3.7" fill="#ec94ce" fill-opacity="0.78" transform="rotate(52 379.3 297.4)"/>
<ellipse cx="384.2" cy="297.8" rx="6.0" ry="3.0" fill="#e89ed6" fill-opacity="0.74" transform="rotate(-27 384.2 297.8)"/>
<ellipse cx="394.1" cy="294.0" rx="5.4" ry="4.3" fill="#e89ed6" fill-opacity="0.83" transform="rotate(23 394.1 294.0)"/>
<ellipse cx="404.2" cy="299.5" rx="5.7" ry="3.7" fill="#ec94ce" fill-opacity="0.73" transform="rotate(32 404.2 299.5)"/>
<ellipse cx="414.4" cy="295.2" rx="6.4" ry="4.6" fill="#f4bae2" fill-opacity="0.65" transform="rotate(24 414.4 295.2)"/>
<ellipse cx="421.4" cy="294.4" rx="5.7" ry="3.7" fill="#f0a2d8" fill-opacity="0.65" transform="rotate(-13 421.4 294.4)"/>
<ellipse cx="434.5" cy="299.1" rx="4.2" ry="4.6" fill="#f4bae2" fill-opacity="0.84" transform="rotate(-34 434.5 299.1)"/>
<ellipse cx="449.2" cy="297.7" rx="6.6" ry="3.6" fill="#e89ed6" fill-opacity="0.71" transform="rotate(1 449.2 297.7)"/>
<ellipse cx="459.3" cy="298.0" rx="5.0" ry="2.8" fill="#e89ed6" fill-opacity="0.68" transform="rotate(69 459.3 298.0)"/>
<ellipse cx="468.4" cy="299.5" rx="6.5" ry="3.0" fill="#ec94ce" fill-opacity="0.67" transform="rotate(-80 468.4 299.5)"/>
<ellipse cx="481.2" cy="294.8" rx="6.2" ry="4.2" fill="#e89ed6" fill-opacity="0.84" transform="rotate(13 481.2 294.8)"/>
<ellipse cx="485.9" cy="299.2" rx="4.1" ry="2.9" fill="#f4bae2" fill-opacity="0.77" transform="rotate(18 485.9 299.2)"/>
<ellipse cx="499.6" cy="295.3" rx="6.0" ry="3.0" fill="#f0a2d8" fill-opacity="0.81" transform="rotate(-73 499.6 295.3)"/>
<ellipse cx="505.0" cy="294.4" rx="6.4" ry="3.3" fill="#e89ed6" fill-opacity="0.63" transform="rotate(44 505.0 294.4)"/>
<ellipse cx="534.8" cy="296.9" rx="5.2" ry="3.2" fill="#e89ed6" fill-opacity="0.69" transform="rotate(-86 534.8 296.9)"/>
<ellipse cx="546.2" cy="293.9" rx="5.2" ry="3.3" fill="#ec94ce" fill-opacity="0.71" transform="rotate(78 546.2 293.9)"/>
<ellipse cx="305.9" cy="305.5" rx="6.5" ry="3.4" fill="#e89ed6" fill-opacity="0.65" transform="rotate(-32 305.9 305.5)"/>
<ellipse cx="312.3" cy="307.9" rx="4.9" ry="3.5" fill="#ec94ce" fill-opacity="0.61" transform="rotate(-57 312.3 307.9)"/>
<ellipse cx="331.2" cy="303.2" rx="6.2" ry="4.1" fill="#e89ed6" fill-opacity="0.67" transform="rotate(-28 331.2 303.2)"/>
<ellipse cx="342.0" cy="303.2" rx="5.0" ry="3.3" fill="#f4bae2" fill-opacity="0.84" transform="rotate(50 342.0 303.2)"/>
<ellipse cx="357.5" cy="304.0" rx="5.1" ry="3.8" fill="#f0a2d8" fill-opacity="0.65" transform="rotate(39 357.5 304.0)"/>
<ellipse cx="370.1" cy="303.4" rx="4.9" ry="2.9" fill="#ec94ce" fill-opacity="0.61" transform="rotate(-13 370.1 303.4)"/>
<ellipse cx="397.7" cy="306.5" rx="4.2" ry="4.2" fill="#e89ed6" fill-opacity="0.76" transform="rotate(-79 397.7 306.5)"/>
<ellipse cx="407.1" cy="307.2" rx="5.9" ry="4.4" fill="#e89ed6" fill-opacity="0.63" transform="rotate(44 407.1 307.2)"/>
<ellipse cx="415.9" cy="306.3" rx="6.1" ry="4.0" fill="#f0a2d8" fill-opacity="0.82" transform="rotate(84 415.9 306.3)"/>
<ellipse cx="426.3" cy="306.8" rx="4.2" ry="3.5" fill="#f0a2d8" fill-opacity="0.63" transform="rotate(25 426.3 306.8)"/>
<ellipse cx="433.2" cy="306.7" rx="5.2" ry="2.8" fill="#ec94ce" fill-opacity="0.80" transform="rotate(38 433.2 306.7)"/>
<ellipse cx="444.4" cy="303.5" rx="4.5" ry="2.9" fill="#e89ed6" fill-opacity="0.67" transform="rotate(-38 444.4 303.5)"/>
<ellipse cx="449.6" cy="306.8" rx="4.0" ry="4.6" fill="#e89ed6" fill-opacity="0.67" transform="rotate(-79 449.6 306.8)"/>
<ellipse cx="461.1" cy="306.8" rx="4.7" ry="4.1" fill="#ec94ce" fill-opacity="0.77" transform="rotate(69 461.1 306.8)"/>
<ellipse cx="470.0" cy="303.0" rx="6.5" ry="3.0" fill="#f4bae2" fill-opacity="0.65" transform="rotate(35 470.0 303.0)"/>
<ellipse cx="477.5" cy="306.0" rx="5.9" ry="4.8" fill="#e89ed6" fill-opacity="0.74" transform="rotate(-11 477.5 306.0)"/>
<ellipse cx="490.9" cy="308.5" rx="4.0" ry="3.8" fill="#e89ed6" fill-opacity="0.85" transform="rotate(-22 490.9 308.5)"/>
<ellipse cx="503.8" cy="303.4" rx="6.5" ry="3.1" fill="#f4bae2" fill-opacity="0.81" transform="rotate(40 503.8 303.4)"/>
<ellipse cx="514.3" cy="303.6" rx="6.3" ry="3.8" fill="#e89ed6" fill-opacity="0.61" transform="rotate(-90 514.3 303.6)"/>
<ellipse cx="527.5" cy="307.0" rx="5.0" ry="3.6" fill="#ec94ce" fill-opacity="0.63" transform="rotate(-6 527.5 307.0)"/>
<ellipse cx="540.9" cy="308.5" rx="4.5" ry="2.9" fill="#f4bae2" fill-opacity="0.70" transform="rotate(60 540.9 308.5)"/>
<ellipse cx="301.5" cy="317.7" rx="4.6" ry="2.9" fill="#f0a2d8" fill-opacity="0.77" transform="rotate(72 301.5 317.7)"/>
<ellipse cx="315.8" cy="313.6" rx="4.3" ry="3.5" fill="#f4bae2" fill-opacity="0.84" transform="rotate(-83 315.8 313.6)"/>
<ellipse cx="334.2" cy="315.4" rx="6.4" ry="3.6" fill="#f0a2d8" fill-opacity="0.75" transform="rotate(-55 334.2 315.4)"/>
<ellipse cx="341.7" cy="313.8" rx="4.3" ry="3.6" fill="#ec94ce" fill-opacity="0.67" transform="rotate(-25 341.7 313.8)"/>
<ellipse cx="351.4" cy="318.0" rx="4.6" ry="3.9" fill="#ec94ce" fill-opacity="0.70" transform="rotate(-48 351.4 318.0)"/>
<ellipse cx="360.1" cy="312.6" rx="5.3" ry="3.7" fill="#e89ed6" fill-opacity="0.68" transform="rotate(25 360.1 312.6)"/>
<ellipse cx="368.0" cy="315.4" rx="4.8" ry="3.0" fill="#ec94ce" fill-opacity="0.66" transform="rotate(-24 368.0 315.4)"/>
<ellipse cx="379.5" cy="313.3" rx="4.9" ry="4.3" fill="#e89ed6" fill-opacity="0.65" transform="rotate(-21 379.5 313.3)"/>
<ellipse cx="385.8" cy="312.5" rx="4.2" ry="3.8" fill="#f4bae2" fill-opacity="0.76" transform="rotate(-35 385.8 312.5)"/>
<ellipse cx="393.6" cy="317.5" rx="5.0" ry="3.4" fill="#e89ed6" fill-opacity="0.80" transform="rotate(-85 393.6 317.5)"/>
<ellipse cx="403.0" cy="314.7" rx="6.5" ry="3.8" fill="#e89ed6" fill-opacity="0.62" transform="rotate(45 403.0 314.7)"/>
<ellipse cx="416.5" cy="317.9" rx="4.4" ry="3.1" fill="#f0a2d8" fill-opacity="0.84" transform="rotate(-63 416.5 317.9)"/>
<ellipse cx="426.2" cy="316.4" rx="4.0" ry="4.4" fill="#e89ed6" fill-opacity="0.60" transform="rotate(-58 426.2 316.4)"/>
<ellipse cx="431.2" cy="317.6" rx="6.5" ry="4.1" fill="#f4bae2" fill-opacity="0.73" transform="rotate(21 431.2 317.6)"/>
<ellipse cx="443.2" cy="312.8" rx="4.9" ry="3.2" fill="#ec94ce" fill-opacity="0.75" transform="rotate(-88 443.2 312.8)"/>
<ellipse cx="451.4" cy="318.1" rx="5.6" ry="4.6" fill="#f4bae2" fill-opacity="0.72" transform="rotate(-30 451.4 318.1)"/>
<ellipse cx="460.7" cy="312.3" rx="4.0" ry="3.2" fill="#f4bae2" fill-opacity="0.82" transform="rotate(75 460.7 312.3)"/>
<ellipse cx="469.1" cy="313.6" rx="4.4" ry="2.9" fill="#f4bae2" fill-opacity="0.68" transform="rotate(17 469.1 313.6)"/>
<ellipse cx="478.0" cy="314.5" rx="5.9" ry="3.8" fill="#f4bae2" fill-opacity="0.65" transform="rotate(-39 478.0 314.5)"/>
<ellipse cx="486.9" cy="317.0" rx="4.5" ry="4.6" fill="#ec94ce" fill-opacity="0.63" transform="rotate(69 486.9 317.0)"/>
<ellipse cx="497.2" cy="313.2" rx="6.3" ry="2.9" fill="#e89ed6" fill-opacity="0.75" transform="rotate(10 497.2 313.2)"/>
<ellipse cx="503.7" cy="312.2" rx="3.9" ry="2.9" fill="#e89ed6" fill-opacity="0.70" transform="rotate(-10 503.7 312.2)"/>
<ellipse cx="535.5" cy="312.3" rx="6.1" ry="4.8" fill="#e89ed6" fill-opacity="0.71" transform="rotate(-63 535.5 312.3)"/>
<ellipse cx="540.2" cy="313.8" rx="5.4" ry="4.3" fill="#f0a2d8" fill-opacity="0.70" transform="rotate(-11 540.2 313.8)"/>
<ellipse cx="305.9" cy="323.9" rx="4.3" ry="3.9" fill="#e89ed6" fill-opacity="0.71" transform="rotate(-8 305.9 323.9)"/>
<ellipse cx="312.4" cy="326.7" rx="4.5" ry="4.1" fill="#e89ed6" fill-opacity="0.70" transform="rotate(6 312.4 326.7)"/>
<ellipse cx="350.7" cy="322.9" rx="6.4" ry="3.4" fill="#f4bae2" fill-opacity="0.78" transform="rotate(62 350.7 322.9)"/>
<ellipse cx="365.5" cy="322.7" rx="6.5" ry="3.6" fill="#e89ed6" fill-opacity="0.66" transform="rotate(20 365.5 322.7)"/>
<ellipse cx="379.5" cy="322.1" rx="6.0" ry="4.3" fill="#f0a2d8" fill-opacity="0.81" transform="rotate(-52 379.5 322.1)"/>
<ellipse cx="387.4" cy="323.3" rx="6.0" ry="4.0" fill="#f4bae2" fill-opacity="0.73" transform="rotate(10 387.4 323.3)"/>
<ellipse cx="397.5" cy="322.8" rx="5.1" ry="3.9" fill="#f0a2d8" fill-opacity="0.64" transform="rotate(19 397.5 322.8)"/>
<ellipse cx="407.5" cy="327.2" rx="4.4" ry="3.6" fill="#f0a2d8" fill-opacity="0.85" transform="rotate(24 407.5 327.2)"/>
<ellipse cx="412.4" cy="322.1" rx="5.9" ry="4.5" fill="#ec94ce" fill-opacity="0.77" transform="rotate(-59 412.4 322.1)"/>
<ellipse cx="425.3" cy="323.1" rx="4.8" ry="4.3" fill="#f4bae2" fill-opacity="0.65" transform="rotate(-27 425.3 323.1)"/>
<ellipse cx="430.9" cy="322.7" rx="4.7" ry="3.6" fill="#ec94ce" fill-opacity="0.85" transform="rotate(39 430.9 322.7)"/>
<ellipse cx="442.2" cy="325.2" rx="6.6" ry="3.0" fill="#e89ed6" fill-opacity="0.72" transform="rotate(-31 442.2 325.2)"/>
<ellipse cx="453.2" cy="326.8" rx="4.5" ry="2.9" fill="#f4bae2" fill-opacity="0.75" transform="rotate(59 453.2 326.8)"/>
<ellipse cx="458.6" cy="321.8" rx="5.1" ry="3.3" fill="#ec94ce" fill-opacity="0.79" transform="rotate(-89 458.6 321.8)"/>
<ellipse cx="467.2" cy="324.9" rx="3.9" ry="3.5" fill="#ec94ce" fill-opacity="0.61" transform="rotate(-25 467.2 324.9)"/>
<ellipse cx="489.9" cy="326.2" rx="4.3" ry="3.4" fill="#f4bae2" fill-opacity="0.65" transform="rotate(36 489.9 326.2)"/>
<ellipse cx="497.5" cy="321.7" rx="5.7" ry="3.1" fill="#e89ed6" fill-opacity="0.73" transform="rotate(77 497.5 321.7)"/>
<ellipse cx="504.4" cy="325.5" rx="5.7" ry="3.6" fill="#f4bae2" fill-opacity="0.61" transform="rotate(55 504.4 325.5)"/>
<ellipse cx="517.9" cy="323.8" rx="5.6" ry="3.6" fill="#f4bae2" fill-opacity="0.70" transform="rotate(-89 517.9 323.8)"/>
<ellipse cx="524.4" cy="322.2" rx="4.9" ry="4.6" fill="#f0a2d8" fill-opacity="0.72" transform="rotate(-49 524.4 322.2)"/>
<ellipse cx="531.8" cy="321.6" rx="4.0" ry="4.0" fill="#e89ed6" fill-opacity="0.69" transform="rotate(39 531.8 321.6)"/>
<ellipse cx="541.2" cy="323.4" rx="6.4" ry="3.0" fill="#ec94ce" fill-opacity="0.72" transform="rotate(-40 541.2 323.4)"/>
<ellipse cx="302.8" cy="335.5" rx="4.7" ry="4.0" fill="#e89ed6" fill-opacity="0.76" transform="rotate(-68 302.8 335.5)"/>
<ellipse cx="320.4" cy="335.2" rx="5.5" ry="3.2" fill="#e89ed6" fill-opacity="0.72" transform="rotate(54 320.4 335.2)"/>
<ellipse cx="329.9" cy="332.9" rx="4.8" ry="3.1" fill="#e89ed6" fill-opacity="0.84" transform="rotate(-41 329.9 332.9)"/>
<ellipse cx="338.0" cy="333.9" rx="5.7" ry="3.4" fill="#f0a2d8" fill-opacity="0.70" transform="rotate(26 338.0 333.9)"/>
<ellipse cx="350.3" cy="334.3" rx="4.7" ry="3.3" fill="#e89ed6" fill-opacity="0.70" transform="rotate(4 350.3 334.3)"/>
<ellipse cx="358.9" cy="333.1" rx="5.1" ry="3.7" fill="#e89ed6" fill-opacity="0.75" transform="rotate(27 358.9 333.1)"/>
<ellipse cx="370.4" cy="335.4" rx="4.2" ry="3.7" fill="#f0a2d8" fill-opacity="0.62" transform="rotate(23 370.4 335.4)"/>
<ellipse cx="377.6" cy="334.4" rx="4.0" ry="4.3" fill="#ec94ce" fill-opacity="0.79" transform="rotate(40 377.6 334.4)"/>
<ellipse cx="396.9" cy="335.2" rx="6.6" ry="4.3" fill="#f0a2d8" fill-opacity="0.80" transform="rotate(-41 396.9 335.2)"/>
<ellipse cx="403.0" cy="335.8" rx="5.7" ry="4.2" fill="#ec94ce" fill-opacity="0.66" transform="rotate(-1 403.0 335.8)"/>
<ellipse cx="415.1" cy="332.0" rx="6.3" ry="3.7" fill="#f4bae2" fill-opacity="0.66" transform="rotate(32 415.1 332.0)"/>
<ellipse cx="421.8" cy="332.1" rx="4.8" ry="3.2" fill="#f4bae2" fill-opacity="0.70" transform="rotate(72 421.8 332.1)"/>
<ellipse cx="440.0" cy="335.2" rx="5.6" ry="3.5" fill="#f0a2d8" fill-opacity="0.82" transform="rotate(52 440.0 335.2)"/>
<ellipse cx="471.0" cy="332.7" rx="5.4" ry="3.5" fill="#f4bae2" fill-opacity="0.79" transform="rotate(23 471.0 332.7)"/>
<ellipse cx="486.8" cy="333.6" rx="5.9" ry="4.3" fill="#f4bae2" fill-opacity="0.66" transform="rotate(-16 486.8 333.6)"/>
<ellipse cx="497.9" cy="333.1" rx="4.2" ry="3.3" fill="#f0a2d8" fill-opacity="0.76" transform="rotate(-85 497.9 333.1)"/>
<ellipse cx="503.7" cy="333.9" rx="5.3" ry="3.6" fill="#f4bae2" fill-opacity="0.68" transform="rotate(-56 503.7 333.9)"/>
<ellipse cx="513.8" cy="334.2" rx="3.8" ry="4.4" fill="#ec94ce" fill-opacity="0.78" transform="rotate(25 513.8 334.2)"/>
<ellipse cx="535.7" cy="332.9" rx="4.0" ry="4.4" fill="#f0a2d8" fill-opacity="0.82" transform="rotate(62 535.7 332.9)"/>
<ellipse cx="310.5" cy="342.9" rx="4.2" ry="4.6" fill="#ec94ce" fill-opacity="0.63" transform="rotate(66 310.5 342.9)"/>
<ellipse cx="322.7" cy="345.3" rx="5.3" ry="4.1" fill="#ec94ce" fill-opacity="0.76" transform="rotate(16 322.7 345.3)"/>
<ellipse cx="333.5" cy="340.7" rx="5.6" ry="4.8" fill="#f4bae2" fill-opacity="0.78" transform="rotate(32 333.5 340.7)"/>
<ellipse cx="351.5" cy="342.5" rx="4.3" ry="4.8" fill="#e89ed6" fill-opacity="0.67" transform="rotate(74 351.5 342.5)"/>
<ellipse cx="356.4" cy="341.7" rx="5.8" ry="3.3" fill="#f4bae2" fill-opacity="0.74" transform="rotate(21 356.4 341.7)"/>
<ellipse cx="384.3" cy="342.7" rx="6.2" ry="3.2" fill="#ec94ce" fill-opacity="0.64" transform="rotate(-7 384.3 342.7)"/>
<ellipse cx="394.2" cy="342.0" rx="6.3" ry="4.1" fill="#e89ed6" fill-opacity="0.77" transform="rotate(80 394.2 342.0)"/>
<ellipse cx="407.2" cy="342.9" rx="6.2" ry="3.7" fill="#f0a2d8" fill-opacity="0.78" transform="rotate(56 407.2 342.9)"/>
<ellipse cx="416.7" cy="344.4" rx="5.4" ry="3.1" fill="#f0a2d8" fill-opacity="0.61" transform="rotate(-62 416.7 344.4)"/>
<ellipse cx="421.2" cy="345.3" rx="5.8" ry="2.9" fill="#ec94ce" fill-opacity="0.63" transform="rotate(74 421.2 345.3)"/>
<ellipse cx="433.6" cy="343.9" rx="6.2" ry="4.3" fill="#f0a2d8" fill-opacity="0.65" transform="rotate(46 433.6 343.9)"/>
<ellipse cx="453.7" cy="345.4" rx="4.4" ry="2.9" fill="#ec94ce" fill-opacity="0.84" transform="rotate(72 453.7 345.4)"/>
<ellipse cx="457.9" cy="344.2" rx="4.1" ry="3.0" fill="#e89ed6" fill-opacity="0.79" transform="rotate(-38 457.9 344.2)"/>
<ellipse cx="468.4" cy="341.7" rx="4.5" ry="3.4" fill="#f4bae2" fill-opacity="0.78" transform="rotate(4 468.4 341.7)"/>
<ellipse cx="481.3" cy="344.3" rx="6.2" ry="4.0" fill="#e89ed6" fill-opacity="0.61" transform="rotate(15 481.3 344.3)"/>
<ellipse cx="485.2" cy="342.8" rx="5.8" ry="3.9" fill="#e89ed6" fill-opacity="0.65" transform="rotate(-67 485.2 342.8)"/>
<ellipse cx="497.6" cy="341.4" rx="4.6" ry="4.3" fill="#ec94ce" fill-opacity="0.61" transform="rotate(-1 497.6 341.4)"/>
<ellipse cx="506.3" cy="342.6" rx="6.5" ry="4.0" fill="#ec94ce" fill-opacity="0.84" transform="rotate(41 506.3 342.6)"/>
<ellipse cx="514.2" cy="345.4" rx="6.4" ry="3.3" fill="#ec94ce" fill-opacity="0.64" transform="rotate(72 514.2 345.4)"/>
<ellipse cx="534.4" cy="340.3" rx="4.9" ry="3.6" fill="#f0a2d8" fill-opacity="0.82" transform="rotate(-68 534.4 340.3)"/>
<ellipse cx="542.7" cy="343.6" rx="4.5" ry="4.6" fill="#f4bae2" fill-opacity="0.73" transform="rotate(7 542.7 343.6)"/>
<ellipse cx="311.0" cy="352.5" rx="4.8" ry="3.5" fill="#f0a2d8" fill-opacity="0.64" transform="rotate(25 311.0 352.5)"/>
<ellipse cx="323.4" cy="353.4" rx="5.7" ry="3.3" fill="#e89ed6" fill-opacity="0.66" transform="rotate(-5 323.4 353.4)"/>
<ellipse cx="331.4" cy="354.2" rx="4.5" ry="4.3" fill="#ec94ce" fill-opacity="0.81" transform="rotate(68 331.4 354.2)"/>
<ellipse cx="338.7" cy="349.8" rx="5.5" ry="3.5" fill="#f4bae2" fill-opacity="0.66" transform="rotate(-42 338.7 349.8)"/>
<ellipse cx="357.2" cy="352.8" rx="6.6" ry="4.4" fill="#ec94ce" fill-opacity="0.78" transform="rotate(21 357.2 352.8)"/>
<ellipse cx="376.3" cy="354.2" rx="4.9" ry="4.4" fill="#f0a2d8" fill-opacity="0.77" transform="rotate(38 376.3 354.2)"/>
<ellipse cx="389.7" cy="350.7" rx="5.5" ry="3.6" fill="#f4bae2" fill-opacity="0.79" transform="rotate(20 389.7 350.7)"/>
<ellipse cx="397.2" cy="352.4" rx="5.7" ry="4.1" fill="#ec94ce" fill-opacity="0.82" transform="rotate(74 397.2 352.4)"/>
<ellipse cx="406.4" cy="354.0" rx="5.1" ry="3.4" fill="#f0a2d8" fill-opacity="0.76" transform="rotate(-65 406.4 354.0)"/>
<ellipse cx="416.8" cy="350.4" rx="4.5" ry="3.6" fill="#ec94ce" fill-opacity="0.71" transform="rotate(69 416.8 350.4)"/>
<ellipse cx="425.8" cy="352.0" rx="6.3" ry="3.5" fill="#ec94ce" fill-opacity="0.60" transform="rotate(35 425.8 352.0)"/>
<ellipse cx="435.2" cy="349.5" rx="4.3" ry="4.4" fill="#ec94ce" fill-opacity="0.84" transform="rotate(42 435.2 349.5)"/>
<ellipse cx="441.1" cy="354.0" rx="5.8" ry="3.8" fill="#ec94ce" fill-opacity="0.76" transform="rotate(4 441.1 354.0)"/>
<ellipse cx="458.7" cy="353.0" rx="5.8" ry="4.0" fill="#f0a2d8" fill-opacity="0.76" transform="rotate(-26 458.7 353.0)"/>
<ellipse cx="468.2" cy="351.3" rx="6.4" ry="4.1" fill="#e89ed6" fill-opacity="0.77" transform="rotate(58 468.2 351.3)"/>
<ellipse cx="477.4" cy="350.2" rx="6.6" ry="4.7" fill="#ec94ce" fill-opacity="0.72" transform="rotate(-48 477.4 350.2)"/>
<ellipse cx="485.8" cy="353.6" rx="5.1" ry="3.9" fill="#ec94ce" fill-opacity="0.66" transform="rotate(-53 485.8 353.6)"/>
<ellipse cx="496.3" cy="352.7" rx="5.1" ry="3.4" fill="#e89ed6" fill-opacity="0.74" transform="rotate(-58 496.3 352.7)"/>
<ellipse cx="508.1" cy="351.7" rx="4.5" ry="3.6" fill="#ec94ce" fill-opacity="0.66" transform="rotate(19 508.1 351.7)"/>
<ellipse cx="516.7" cy="351.8" rx="4.8" ry="4.1" fill="#f4bae2" fill-opacity="0.68" transform="rotate(34 516.7 351.8)"/>
<ellipse cx="524.4" cy="352.7" rx="4.2" ry="3.4" fill="#f4bae2" fill-opacity="0.70" transform="rotate(-69 524.4 352.7)"/>
<ellipse cx="536.0" cy="354.3" rx="5.3" ry="3.5" fill="#ec94ce" fill-opacity="0.75" transform="rotate(78 536.0 354.3)"/>
<ellipse cx="540.3" cy="354.6" rx="5.5" ry="4.0" fill="#f4bae2" fill-opacity="0.81" transform="rotate(-43 540.3 354.6)"/>
<ellipse cx="305.7" cy="360.2" rx="6.0" ry="3.1" fill="#e89ed6" fill-opacity="0.82" transform="rotate(65 305.7 360.2)"/>
<ellipse cx="322.7" cy="361.9" rx="5.7" ry="3.9" fill="#e89ed6" fill-opacity="0.79" transform="rotate(22 322.7 361.9)"/>
<ellipse cx="332.6" cy="358.8" rx="4.5" ry="3.1" fill="#e89ed6" fill-opacity="0.72" transform="rotate(-76 332.6 358.8)"/>
<ellipse cx="340.7" cy="363.5" rx="5.2" ry="3.9" fill="#ec94ce" fill-opacity="0.82" transform="rotate(-89 340.7 363.5)"/>
<ellipse cx="348.0" cy="360.0" rx="5.7" ry="4.5" fill="#e89ed6" fill-opacity="0.69" transform="rotate(17 348.0 360.0)"/>
<ellipse cx="362.2" cy="362.2" rx="5.6" ry="2.9" fill="#f4bae2" fill-opacity="0.75" transform="rotate(84 362.2 362.2)"/>
<ellipse cx="369.8" cy="364.1" rx="5.2" ry="3.8" fill="#f0a2d8" fill-opacity="0.82" transform="rotate(-82 369.8 364.1)"/>
<ellipse cx="375.9" cy="360.6" rx="6.2" ry="3.5" fill="#f0a2d8" fill-opacity="0.72" transform="rotate(44 375.9 360.6)"/>
<ellipse cx="387.1" cy="363.6" rx="5.0" ry="3.9" fill="#f4bae2" fill-opacity="0.81" transform="rotate(-16 387.1 363.6)"/>
<ellipse cx="395.1" cy="361.1" rx="6.2" ry="3.5" fill="#f4bae2" fill-opacity="0.65" transform="rotate(36 395.1 361.1)"/>
<ellipse cx="407.0" cy="360.1" rx="4.2" ry="4.7" fill="#f4bae2" fill-opacity="0.62" transform="rotate(-80 407.0 360.1)"/>
<ellipse cx="413.8" cy="361.4" rx="4.9" ry="3.0" fill="#f0a2d8" fill-opacity="0.61" transform="rotate(31 413.8 361.4)"/>
<ellipse cx="424.3" cy="362.0" rx="5.5" ry="4.1" fill="#e89ed6" fill-opacity="0.77" transform="rotate(62 424.3 362.0)"/>
<ellipse cx="435.1" cy="358.6" rx="5.6" ry="3.1" fill="#e89ed6" fill-opacity="0.77" transform="rotate(-81 435.1 358.6)"/>
<ellipse cx="448.3" cy="363.3" rx="5.4" ry="3.3" fill="#f4bae2" fill-opacity="0.68" transform="rotate(17 448.3 363.3)"/>
<ellipse cx="457.6" cy="358.2" rx="5.2" ry="3.8" fill="#f0a2d8" fill-opacity="0.81" transform="rotate(17 457.6 358.2)"/>
<ellipse cx="470.1" cy="363.6" rx="5.7" ry="4.0" fill="#f0a2d8" fill-opacity="0.85" transform="rotate(78 470.1 363.6)"/>
<ellipse cx="481.7" cy="361.0" rx="4.0" ry="3.7" fill="#f0a2d8" fill-opacity="0.82" transform="rotate(70 481.7 361.0)"/>
<ellipse cx="485.1" cy="358.1" rx="6.6" ry="4.5" fill="#f0a2d8" fill-opacity="0.65" transform="rotate(-59 485.1 358.1)"/>
<ellipse cx="495.0" cy="358.2" rx="5.1" ry="4.3" fill="#ec94ce" fill-opacity="0.83" transform="rotate(3 495.0 358.2)"/>
<ellipse cx="517.0" cy="358.6" rx="5.1" ry="4.7" fill="#e89ed6" fill-opacity="0.66" transform="rotate(-77 517.0 358.6)"/>
<ellipse cx="526.1" cy="358.2" rx="4.9" ry="3.4" fill="#f0a2d8" fill-opacity="0.75" transform="rotate(34 526.1 358.2)"/>
<ellipse cx="544.6" cy="360.9" rx="4.8" ry="4.1" fill="#f0a2d8" fill-opacity="0.76" transform="rotate(16 544.6 360.9)"/>
<ellipse cx="303.9" cy="372.0" rx="6.0" ry="3.9" fill="#f4bae2" fill-opacity="0.67" transform="rotate(-75 303.9 372.0)"/>
<ellipse cx="313.9" cy="371.2" rx="6.2" ry="4.3" fill="#f4bae2" fill-opacity="0.60" transform="rotate(-52 313.9 371.2)"/>
<ellipse cx="323.0" cy="369.2" rx="4.9" ry="4.2" fill="#ec94ce" fill-opacity="0.75" transform="rotate(-31 323.0 369.2)"/>
<ellipse cx="333.4" cy="369.0" rx="4.6" ry="3.1" fill="#f4bae2" fill-opacity="0.83" transform="rotate(-80 333.4 369.0)"/>
<ellipse cx="361.0" cy="370.6" rx="4.8" ry="3.0" fill="#e89ed6" fill-opacity="0.74" transform="rotate(7 361.0 370.6)"/>
<ellipse cx="376.0" cy="370.9" rx="5.8" ry="4.7" fill="#e89ed6" fill-opacity="0.75" transform="rotate(-88 376.0 370.9)"/>
<ellipse cx="388.5" cy="370.1" rx="6.0" ry="3.3" fill="#f4bae2" fill-opacity="0.74" transform="rotate(-24 388.5 370.1)"/>
<ellipse cx="398.3" cy="370.4" rx="4.3" ry="3.2" fill="#ec94ce" fill-opacity="0.65" transform="rotate(89 398.3 370.4)"/>
<ellipse cx="403.9" cy="370.8" rx="4.5" ry="4.6" fill="#ec94ce" fill-opacity="0.72" transform="rotate(-63 403.9 370.8)"/>
<ellipse cx="413.6" cy="370.1" rx="5.5" ry="3.5" fill="#f4bae2" fill-opacity="0.73" transform="rotate(-85 413.6 370.1)"/>
<ellipse cx="433.2" cy="370.8" rx="5.0" ry="4.7" fill="#f4bae2" fill-opacity="0.79" transform="rotate(65 433.2 370.8)"/>
<ellipse cx="444.8" cy="368.8" rx="6.6" ry="3.6" fill="#ec94ce" fill-opacity="0.61" transform="rotate(-82 444.8 368.8)"/>
<ellipse cx="451.5" cy="372.5" rx="6.2" ry="4.1" fill="#f0a2d8" fill-opacity="0.83" transform="rotate(90 451.5 372.5)"/>
<ellipse cx="463.2" cy="368.8" rx="6.5" ry="4.1" fill="#f0a2d8" fill-opacity="0.70" transform="rotate(24 463.2 368.8)"/>
<ellipse cx="471.7" cy="369.5" rx="4.3" ry="4.7" fill="#ec94ce" fill-opacity="0.84" transform="rotate(-75 471.7 369.5)"/>
<ellipse cx="485.3" cy="372.0" rx="4.0" ry="3.1" fill="#e89ed6" fill-opacity="0.79" transform="rotate(-40 485.3 372.0)"/>
<ellipse cx="498.3" cy="369.1" rx="5.1" ry="3.5" fill="#f0a2d8" fill-opacity="0.70" transform="rotate(5 498.3 369.1)"/>
<ellipse cx="506.3" cy="368.3" rx="6.4" ry="4.6" fill="#ec94ce" fill-opacity="0.72" transform="rotate(-41 506.3 368.3)"/>
<ellipse cx="522.3" cy="371.0" rx="6.0" ry="4.7" fill="#ec94ce" fill-opacity="0.83" transform="rotate(8 522.3 371.0)"/>
<ellipse cx="536.1" cy="371.1" rx="4.7" ry="3.3" fill="#f4bae2" fill-opacity="0.63" transform="rotate(3 536.1 371.1)"/>
<ellipse cx="541.1" cy="368.6" rx="5.3" ry="3.1" fill="#e89ed6" fill-opacity="0.82" transform="rotate(-22 541.1 368.6)"/>
<ellipse cx="303.5" cy="378.0" rx="4.7" ry="3.1" fill="#f4bae2" fill-opacity="0.72" transform="rotate(-9 303.5 378.0)"/>
<ellipse cx="312.9" cy="379.4" rx="5.6" ry="4.4" fill="#f0a2d8" fill-opacity="0.83" transform="rotate(53 312.9 379.4)"/>
<ellipse cx="322.3" cy="378.2" rx="6.5" ry="3.7" fill="#ec94ce" fill-opacity="0.67" transform="rotate(-29 322.3 378.2)"/>
<ellipse cx="334.2" cy="377.1" rx="4.0" ry="4.3" fill="#ec94ce" fill-opacity="0.67" transform="rotate(73 334.2 377.1)"/>
<ellipse cx="337.9" cy="381.3" rx="5.0" ry="4.4" fill="#ec94ce" fill-opacity="0.84" transform="rotate(-17 337.9 381.3)"/>
<ellipse cx="357.5" cy="379.9" rx="5.3" ry="3.3" fill="#ec94ce" fill-opacity="0.64" transform="rotate(63 357.5 379.9)"/>
<ellipse cx="365.9" cy="377.0" rx="5.9" ry="3.2" fill="#e89ed6" fill-opacity="0.63" transform="rotate(81 365.9 377.0)"/>
<ellipse cx="378.8" cy="381.4" rx="3.8" ry="4.2" fill="#ec94ce" fill-opacity="0.73" transform="rotate(-76 378.8 381.4)"/>
<ellipse cx="386.9" cy="378.6" rx="4.1" ry="3.6" fill="#e89ed6" fill-opacity="0.79" transform="rotate(-56 386.9 378.6)"/>
<ellipse cx="398.2" cy="378.1" rx="3.9" ry="4.2" fill="#f4bae2" fill-opacity="0.74" transform="rotate(-89 398.2 378.1)"/>
<ellipse cx="411.8" cy="378.6" rx="6.0" ry="4.5" fill="#f4bae2" fill-opacity="0.74" transform="rotate(-75 411.8 378.6)"/>
<ellipse cx="422.3" cy="377.1" rx="5.2" ry="3.9" fill="#e89ed6" fill-opacity="0.73" transform="rotate(-85 422.3 377.1)"/>
<ellipse cx="431.3" cy="377.0" rx="4.1" ry="3.3" fill="#ec94ce" fill-opacity="0.80" transform="rotate(-83 431.3 377.0)"/>
<ellipse cx="439.1" cy="382.1" rx="3.8" ry="4.0" fill="#f4bae2" fill-opacity="0.74" transform="rotate(43 439.1 382.1)"/>
<ellipse cx="449.6" cy="379.2" rx="5.8" ry="2.9" fill="#f0a2d8" fill-opacity="0.63" transform="rotate(36 449.6 379.2)"/>
<ellipse cx="460.9" cy="381.1" rx="4.9" ry="3.1" fill="#f0a2d8" fill-opacity="0.75" transform="rotate(-32 460.9 381.1)"/>
<ellipse cx="467.5" cy="379.9" rx="6.5" ry="2.8" fill="#ec94ce" fill-opacity="0.76" transform="rotate(87 467.5 379.9)"/>
<ellipse cx="478.3" cy="381.5" rx="6.5" ry="2.9" fill="#e89ed6" fill-opacity="0.69" transform="rotate(12 478.3 381.5)"/>
<ellipse cx="486.4" cy="378.5" rx="6.1" ry="4.5" fill="#f4bae2" fill-opacity="0.61" transform="rotate(42 486.4 378.5)"/>
<ellipse cx="495.1" cy="380.6" rx="5.7" ry="2.8" fill="#e89ed6" fill-opacity="0.63" transform="rotate(-43 495.1 380.6)"/>
<ellipse cx="503.8" cy="379.1" rx="4.4" ry="3.6" fill="#f0a2d8" fill-opacity="0.70" transform="rotate(26 503.8 379.1)"/>
<ellipse cx="527.1" cy="376.7" rx="6.4" ry="4.0" fill="#f4bae2" fill-opacity="0.76" transform="rotate(-81 527.1 376.7)"/>
<ellipse cx="534.7" cy="378.0" rx="4.5" ry="2.9" fill="#e89ed6" fill-opacity="0.63" transform="rotate(-2 534.7 378.0)"/>
<ellipse cx="544.1" cy="377.2" rx="4.0" ry="4.0" fill="#f4bae2" fill-opacity="0.83" transform="rotate(22 544.1 377.2)"/>
<ellipse cx="301.7" cy="386.5" rx="5.4" ry="3.3" fill="#e89ed6" fill-opacity="0.78" transform="rotate(49 301.7 386.5)"/>
<ellipse cx="311.9" cy="388.4" rx="5.6" ry="3.2" fill="#ec94ce" fill-opacity="0.78" transform="rotate(27 311.9 388.4)"/>
<ellipse cx="324.8" cy="387.5" rx="3.9" ry="3.5" fill="#f4bae2" fill-opacity="0.65" transform="rotate(49 324.8 387.5)"/>
<ellipse cx="330.9" cy="389.2" rx="4.3" ry="4.7" fill="#f4bae2" fill-opacity="0.68" transform="rotate(-7 330.9 389.2)"/>
<ellipse cx="348.8" cy="390.3" rx="5.5" ry="3.5" fill="#f0a2d8" fill-opacity="0.76" transform="rotate(42 348.8 390.3)"/>
<ellipse cx="358.5" cy="388.3" rx="5.3" ry="4.8" fill="#f0a2d8" fill-opacity="0.77" transform="rotate(-51 358.5 388.3)"/>
<ellipse cx="367.9" cy="389.7" rx="5.5" ry="4.5" fill="#ec94ce" fill-opacity="0.81" transform="rotate(42 367.9 389.7)"/>
<ellipse cx="389.8" cy="387.3" rx="5.0" ry="3.0" fill="#ec94ce" fill-opacity="0.70" transform="rotate(50 389.8 387.3)"/>
<ellipse cx="405.6" cy="388.2" rx="4.9" ry="3.7" fill="#f0a2d8" fill-opacity="0.71" transform="rotate(0 405.6 388.2)"/>
<ellipse cx="413.2" cy="388.0" rx="5.6" ry="2.8" fill="#e89ed6" fill-opacity="0.79" transform="rotate(37 413.2 388.0)"/>
<ellipse cx="422.9" cy="387.5" rx="5.0" ry="3.6" fill="#ec94ce" fill-opacity="0.66" transform="rotate(-6 422.9 387.5)"/>
<ellipse cx="444.8" cy="386.9" rx="3.9" ry="3.3" fill="#f0a2d8" fill-opacity="0.82" transform="rotate(-14 444.8 386.9)"/>
<ellipse cx="453.7" cy="390.3" rx="5.2" ry="3.8" fill="#e89ed6" fill-opacity="0.77" transform="rotate(9 453.7 390.3)"/>
<ellipse cx="460.2" cy="385.9" rx="6.5" ry="4.2" fill="#e89ed6" fill-opacity="0.73" transform="rotate(-65 460.2 385.9)"/>
<ellipse cx="469.1" cy="388.7" rx="6.3" ry="4.7" fill="#ec94ce" fill-opacity="0.72" transform="rotate(22 469.1 388.7)"/>
<ellipse cx="480.4" cy="391.1" rx="4.3" ry="3.4" fill="#f0a2d8" fill-opacity="0.84" transform="rotate(-11 480.4 391.1)"/>
<ellipse cx="508.7" cy="388.2" rx="6.1" ry="3.2" fill="#f4bae2" fill-opacity="0.82" transform="rotate(15 508.7 388.2)"/>
<ellipse cx="513.7" cy="389.5" rx="5.4" ry="4.1" fill="#f4bae2" fill-opacity="0.78" transform="rotate(87 513.7 389.5)"/>
<ellipse cx="524.3" cy="390.4" rx="6.4" ry="3.6" fill="#f0a2d8" fill-opacity="0.62" transform="rotate(-87 524.3 390.4)"/>
<ellipse cx="535.0" cy="386.9" rx="6.2" ry="4.6" fill="#f4bae2" fill-opacity="0.73" transform="rotate(-54 535.0 386.9)"/>
<ellipse cx="543.6" cy="388.2" rx="5.3" ry="3.8" fill="#ec94ce" fill-opacity="0.61" transform="rotate(-71 543.6 388.2)"/>
<ellipse cx="313.9" cy="399.7" rx="5.7" ry="4.0" fill="#f0a2d8" fill-opacity="0.64" transform="rotate(-30 313.9 399.7)"/>
<ellipse cx="321.5" cy="395.9" rx="6.2" ry="4.7" fill="#f0a2d8" fill-opacity="0.62" transform="rotate(-41 321.5 395.9)"/>
<ellipse cx="331.3" cy="397.2" rx="5.4" ry="4.7" fill="#e89ed6" fill-opacity="0.71" transform="rotate(68 331.3 397.2)"/>
<ellipse cx="339.2" cy="396.2" rx="4.7" ry="4.6" fill="#ec94ce" fill-opacity="0.80" transform="rotate(-13 339.2 396.2)"/>
<ellipse cx="362.1" cy="395.3" rx="5.0" ry="3.6" fill="#ec94ce" fill-opacity="0.78" transform="rotate(-85 362.1 395.3)"/>
<ellipse cx="370.2" cy="396.4" rx="4.9" ry="2.8" fill="#f4bae2" fill-opacity="0.82" transform="rotate(11 370.2 396.4)"/>
<ellipse cx="378.0" cy="395.6" rx="4.7" ry="4.1" fill="#e89ed6" fill-opacity="0.84" transform="rotate(18 378.0 395.6)"/>
<ellipse cx="388.8" cy="397.0" rx="5.1" ry="3.5" fill="#ec94ce" fill-opacity="0.71" transform="rotate(-19 388.8 397.0)"/>
<ellipse cx="397.0" cy="396.9" rx="4.1" ry="3.3" fill="#ec94ce" fill-opacity="0.81" transform="rotate(-58 397.0 396.9)"/>
<ellipse cx="405.5" cy="397.7" rx="4.2" ry="3.5" fill="#ec94ce" fill-opacity="0.78" transform="rotate(6 405.5 397.7)"/>
<ellipse cx="415.2" cy="398.4" rx="5.2" ry="3.3" fill="#e89ed6" fill-opacity="0.71" transform="rotate(-57 415.2 398.4)"/>
<ellipse cx="426.3" cy="400.9" rx="5.4" ry="3.5" fill="#e89ed6" fill-opacity="0.66" transform="rotate(65 426.3 400.9)"/>
<ellipse cx="432.9" cy="395.7" rx="5.3" ry="3.3" fill="#f0a2d8" fill-opacity="0.79" transform="rotate(8 432.9 395.7)"/>
<ellipse cx="439.2" cy="399.2" rx="4.9" ry="3.0" fill="#f0a2d8" fill-opacity="0.64" transform="rotate(-31 439.2 399.2)"/>
<ellipse cx="450.1" cy="398.9" rx="6.1" ry="4.3" fill="#f4bae2" fill-opacity="0.65" transform="rotate(-11 450.1 398.9)"/>
<ellipse cx="457.9" cy="396.6" rx="4.6" ry="3.6" fill="#e89ed6" fill-opacity="0.83" transform="rotate(70 457.9 396.6)"/>
<ellipse cx="471.9" cy="400.1" rx="4.3" ry="3.5" fill="#f4bae2" fill-opacity="0.80" transform="rotate(86 471.9 400.1)"/>
<ellipse cx="477.9" cy="397.4" rx="4.5" ry="4.5" fill="#e89ed6" fill-opacity="0.69" transform="rotate(70 477.9 397.4)"/>
<ellipse cx="485.6" cy="396.6" rx="5.8" ry="2.9" fill="#ec94ce" fill-opacity="0.61" transform="rotate(-49 485.6 396.6)"/>
<ellipse cx="496.8" cy="399.4" rx="5.3" ry="4.1" fill="#f0a2d8" fill-opacity="0.84" transform="rotate(54 496.8 399.4)"/>
<ellipse cx="508.4" cy="398.3" rx="6.4" ry="4.1" fill="#f4bae2" fill-opacity="0.74" transform="rotate(-90 508.4 398.3)"/>
<ellipse cx="513.3" cy="399.5" rx="6.3" ry="4.0" fill="#f0a2d8" fill-opacity="0.77" transform="rotate(-28 513.3 399.5)"/>
<ellipse cx="525.9" cy="395.1" rx="5.9" ry="3.0" fill="#f4bae2" fill-opacity="0.77" transform="rotate(10 525.9 395.1)"/>
<ellipse cx="537.0" cy="398.6" rx="4.8" ry="4.7" fill="#f0a2d8" fill-opacity="0.71" transform="rotate(-3 537.0 398.6)"/>
<ellipse cx="304.8" cy="406.8" rx="5.0" ry="3.8" fill="#ec94ce" fill-opacity="0.83" transform="rotate(-58 304.8 406.8)"/>
<ellipse cx="324.4" cy="407.5" rx="6.5" ry="4.1" fill="#ec94ce" fill-opacity="0.74" transform="rotate(-27 324.4 407.5)"/>
<ellipse cx="334.4" cy="405.1" rx="4.4" ry="3.4" fill="#f0a2d8" fill-opacity="0.63" transform="rotate(90 334.4 405.1)"/>
<ellipse cx="340.7" cy="407.0" rx="5.2" ry="3.7" fill="#f0a2d8" fill-opacity="0.83" transform="rotate(-1 340.7 407.0)"/>
<ellipse cx="351.2" cy="404.9" rx="4.7" ry="4.4" fill="#ec94ce" fill-opacity="0.74" transform="rotate(-47 351.2 404.9)"/>
<ellipse cx="370.4" cy="406.5" rx="3.8" ry="3.8" fill="#f4bae2" fill-opacity="0.61" transform="rotate(-19 370.4 406.5)"/>
<ellipse cx="376.4" cy="404.8" rx="4.3" ry="3.7" fill="#f0a2d8" fill-opacity="0.74" transform="rotate(-16 376.4 404.8)"/>
<ellipse cx="384.8" cy="404.5" rx="4.0" ry="4.2" fill="#e89ed6" fill-opacity="0.85" transform="rotate(54 384.8 404.5)"/>
<ellipse cx="405.1" cy="408.8" rx="6.4" ry="4.1" fill="#f4bae2" fill-opacity="0.76" transform="rotate(77 405.1 408.8)"/>
<ellipse cx="415.6" cy="408.0" rx="3.9" ry="3.6" fill="#f0a2d8" fill-opacity="0.64" transform="rotate(4 415.6 408.0)"/>
<ellipse cx="435.4" cy="405.1" rx="5.9" ry="3.5" fill="#f4bae2" fill-opacity="0.65" transform="rotate(1 435.4 405.1)"/>
<ellipse cx="440.9" cy="406.3" rx="6.1" ry="3.3" fill="#f4bae2" fill-opacity="0.61" transform="rotate(-63 440.9 406.3)"/>
<ellipse cx="451.6" cy="407.9" rx="6.3" ry="4.7" fill="#e89ed6" fill-opacity="0.72" transform="rotate(37 451.6 407.9)"/>
<ellipse cx="461.8" cy="410.1" rx="4.2" ry="3.3" fill="#f0a2d8" fill-opacity="0.63" transform="rotate(73 461.8 410.1)"/>
<ellipse cx="472.4" cy="404.6" rx="5.1" ry="3.2" fill="#e89ed6" fill-opacity="0.69" transform="rotate(-82 472.4 404.6)"/>
<ellipse cx="480.8" cy="409.2" rx="4.2" ry="2.9" fill="#e89ed6" fill-opacity="0.61" transform="rotate(17 480.8 409.2)"/>
<ellipse cx="490.3" cy="404.5" rx="6.3" ry="3.1" fill="#ec94ce" fill-opacity="0.67" transform="rotate(23 490.3 404.5)"/>
<ellipse cx="499.0" cy="408.2" rx="4.0" ry="3.4" fill="#e89ed6" fill-opacity="0.72" transform="rotate(46 499.0 408.2)"/>
<ellipse cx="518.4" cy="407.8" rx="5.8" ry="3.5" fill="#f0a2d8" fill-opacity="0.76" transform="rotate(54 518.4 407.8)"/>
<ellipse cx="525.2" cy="409.8" rx="4.6" ry="3.5" fill="#ec94ce" fill-opacity="0.82" transform="rotate(-83 525.2 409.8)"/>
<ellipse cx="536.1" cy="405.4" rx="4.2" ry="4.0" fill="#f0a2d8" fill-opacity="0.74" transform="rotate(16 536.1 405.4)"/>
<ellipse cx="542.4" cy="405.5" rx="4.1" ry="3.2" fill="#f4bae2" fill-opacity="0.82" transform="rotate(50 542.4 405.5)"/>
<ellipse cx="311.6" cy="290.4" rx="2.7" ry="2.4" fill="#9c43a5" fill-opacity="0.88" transform="rotate(-32 311.6 290.4)"/>
<ellipse cx="320.7" cy="290.4" rx="3.2" ry="2.3" fill="#b64fb4" fill-opacity="0.72" transform="rotate(14 320.7 290.4)"/>
<ellipse cx="332.6" cy="295.2" rx="3.2" ry="2.6" fill="#a346a9" fill-opacity="0.94" transform="rotate(70 332.6 295.2)"/>
<ellipse cx="346.1" cy="294.6" rx="3.0" ry="1.9" fill="#943fa0" fill-opacity="0.94" transform="rotate(54 346.1 294.6)"/>
<ellipse cx="352.4" cy="289.3" rx="3.0" ry="1.8" fill="#9e44a6" fill-opacity="0.71" transform="rotate(89 352.4 289.3)"/>
<ellipse cx="364.2" cy="290.3" rx="3.1" ry="2.7" fill="#9a42a4" fill-opacity="0.86" transform="rotate(-39 364.2 290.3)"/>
<ellipse cx="382.1" cy="294.8" rx="3.5" ry="2.6" fill="#9741a2" fill-opacity="0.73" transform="rotate(5 382.1 294.8)"/>
<ellipse cx="395.9" cy="292.9" rx="3.7" ry="2.1" fill="#a447aa" fill-opacity="0.79" transform="rotate(-7 395.9 292.9)"/>
<ellipse cx="418.9" cy="290.6" rx="3.7" ry="2.3" fill="#a648ab" fill-opacity="0.73" transform="rotate(-85 418.9 290.6)"/>
<ellipse cx="428.1" cy="289.1" rx="3.9" ry="2.7" fill="#b44eb3" fill-opacity="0.87" transform="rotate(-54 428.1 289.1)"/>
<ellipse cx="452.1" cy="290.8" rx="4.0" ry="2.2" fill="#ba51b7" fill-opacity="0.82" transform="rotate(-82 452.1 290.8)"/>
<ellipse cx="463.2" cy="288.8" rx="3.5" ry="2.1" fill="#943fa1" fill-opacity="0.82" transform="rotate(-50 463.2 288.8)"/>
<ellipse cx="473.1" cy="292.3" rx="3.2" ry="2.1" fill="#8e3c9d" fill-opacity="0.83" transform="rotate(-11 473.1 292.3)"/>
<ellipse cx="485.7" cy="293.4" rx="3.0" ry="2.2" fill="#b34eb3" fill-opacity="0.84" transform="rotate(9 485.7 293.4)"/>
<ellipse cx="496.8" cy="291.1" rx="2.8" ry="2.0" fill="#a447aa" fill-opacity="0.92" transform="rotate(65 496.8 291.1)"/>
<ellipse cx="499.8" cy="289.7" rx="2.8" ry="2.3" fill="#ae4cb0" fill-opacity="0.77" transform="rotate(55 499.8 289.7)"/>
<ellipse cx="515.2" cy="293.4" rx="3.9" ry="2.7" fill="#9a42a4" fill-opacity="0.72" transform="rotate(-39 515.2 293.4)"/>
<ellipse cx="527.8" cy="293.8" rx="2.9" ry="2.6" fill="#aa4aad" fill-opacity="0.92" transform="rotate(-54 527.8 293.8)"/>
<ellipse cx="537.8" cy="291.1" rx="3.2" ry="2.4" fill="#9841a3" fill-opacity="0.79" transform="rotate(50 537.8 291.1)"/>
<ellipse cx="548.9" cy="291.3" rx="3.8" ry="2.6" fill="#9b43a5" fill-opacity="0.83" transform="rotate(-28 548.9 291.3)"/>
<ellipse cx="312.1" cy="307.3" rx="3.8" ry="2.4" fill="#b24db2" fill-opacity="0.80" transform="rotate(11 312.1 307.3)"/>
<ellipse cx="320.8" cy="301.4" rx="2.9" ry="2.0" fill="#b850b6" fill-opacity="0.88" transform="rotate(51 320.8 301.4)"/>
<ellipse cx="332.4" cy="307.0" rx="3.9" ry="2.3" fill="#b24db2" fill-opacity="0.78" transform="rotate(0 332.4 307.0)"/>
<ellipse cx="346.1" cy="301.9" rx="3.8" ry="1.8" fill="#a748ac" fill-opacity="0.82" transform="rotate(-46 346.1 301.9)"/>
<ellipse cx="350.6" cy="301.1" rx="2.8" ry="2.5" fill="#b44eb3" fill-opacity="0.75" transform="rotate(12 350.6 301.1)"/>
<ellipse cx="362.9" cy="306.4" rx="2.6" ry="2.0" fill="#a346a9" fill-opacity="0.71" transform="rotate(-57 362.9 306.4)"/>
<ellipse cx="375.1" cy="299.6" rx="2.9" ry="1.9" fill="#913e9f" fill-opacity="0.75" transform="rotate(47 375.1 299.6)"/>
<ellipse cx="386.3" cy="299.0" rx="2.9" ry="2.7" fill="#ba51b7" fill-opacity="0.71" transform="rotate(34 386.3 299.0)"/>
<ellipse cx="395.0" cy="304.6" rx="3.1" ry="1.8" fill="#b950b6" fill-opacity="0.86" transform="rotate(-5 395.0 304.6)"/>
<ellipse cx="409.0" cy="307.2" rx="3.8" ry="1.7" fill="#8e3d9d" fill-opacity="0.78" transform="rotate(77 409.0 307.2)"/>
<ellipse cx="421.7" cy="299.4" rx="2.9" ry="1.8" fill="#9942a3" fill-opacity="0.74" transform="rotate(-54 421.7 299.4)"/>
<ellipse cx="428.5" cy="306.0" rx="3.0" ry="2.4" fill="#aa4aad" fill-opacity="0.92" transform="rotate(-51 428.5 306.0)"/>
<ellipse cx="440.4" cy="304.0" rx="2.8" ry="2.5" fill="#9841a3" fill-opacity="0.89" transform="rotate(75 440.4 304.0)"/>
<ellipse cx="460.2" cy="301.2" rx="2.6" ry="1.7" fill="#8e3d9d" fill-opacity="0.82" transform="rotate(77 460.2 301.2)"/>
<ellipse cx="474.1" cy="307.1" rx="3.0" ry="2.8" fill="#9d44a6" fill-opacity="0.93" transform="rotate(69 474.1 307.1)"/>
<ellipse cx="479.0" cy="299.4" rx="2.7" ry="2.7" fill="#a145a8" fill-opacity="0.79" transform="rotate(-52 479.0 299.4)"/>
<ellipse cx="506.3" cy="303.3" rx="3.1" ry="2.6" fill="#9942a4" fill-opacity="0.75" transform="rotate(-2 506.3 303.3)"/>
<ellipse cx="518.1" cy="302.2" rx="2.4" ry="2.4" fill="#9640a1" fill-opacity="0.70" transform="rotate(75 518.1 302.2)"/>
<ellipse cx="529.0" cy="304.6" rx="3.0" ry="2.7" fill="#b14cb1" fill-opacity="0.79" transform="rotate(78 529.0 304.6)"/>
<ellipse cx="537.3" cy="300.8" rx="3.1" ry="2.0" fill="#af4cb0" fill-opacity="0.75" transform="rotate(18 537.3 300.8)"/>
<ellipse cx="306.9" cy="314.1" rx="3.8" ry="2.0" fill="#923f9f" fill-opacity="0.89" transform="rotate(-14 306.9 314.1)"/>
<ellipse cx="318.3" cy="312.1" rx="2.7" ry="2.5" fill="#913e9f" fill-opacity="0.85" transform="rotate(25 318.3 312.1)"/>
<ellipse cx="328.5" cy="309.7" rx="3.6" ry="1.8" fill="#933fa0" fill-opacity="0.89" transform="rotate(22 328.5 309.7)"/>
<ellipse cx="350.8" cy="309.5" rx="2.4" ry="2.7" fill="#8d3c9c" fill-opacity="0.74" transform="rotate(0 350.8 309.5)"/>
<ellipse cx="359.9" cy="310.7" rx="2.9" ry="2.7" fill="#b750b5" fill-opacity="0.88" transform="rotate(-5 359.9 310.7)"/>
<ellipse cx="378.4" cy="309.6" rx="3.5" ry="1.7" fill="#9540a1" fill-opacity="0.83" transform="rotate(-31 378.4 309.6)"/>
<ellipse cx="385.7" cy="315.2" rx="3.8" ry="1.8" fill="#b950b6" fill-opacity="0.73" transform="rotate(34 385.7 315.2)"/>
<ellipse cx="399.9" cy="313.7" rx="3.3" ry="2.4" fill="#b14db1" fill-opacity="0.84" transform="rotate(-62 399.9 313.7)"/>
<ellipse cx="432.4" cy="311.2" rx="2.4" ry="2.0" fill="#9a42a4" fill-opacity="0.94" transform="rotate(-40 432.4 311.2)"/>
<ellipse cx="439.1" cy="312.7" rx="2.4" ry="2.5" fill="#aa4aad" fill-opacity="0.86" transform="rotate(49 439.1 312.7)"/>
<ellipse cx="447.9" cy="312.1" rx="3.6" ry="2.0" fill="#8c3c9c" fill-opacity="0.81" transform="rotate(48 447.9 312.1)"/>
<ellipse cx="459.9" cy="317.5" rx="3.1" ry="1.9" fill="#a949ad" fill-opacity="0.95" transform="rotate(-89 459.9 317.5)"/>
<ellipse cx="495.9" cy="314.9" rx="2.5" ry="2.5" fill="#9e44a6" fill-opacity="0.80" transform="rotate(52 495.9 314.9)"/>
<ellipse cx="502.3" cy="314.7" rx="4.0" ry="1.7" fill="#ac4baf" fill-opacity="0.89" transform="rotate(30 502.3 314.7)"/>
<ellipse cx="523.1" cy="314.6" rx="3.5" ry="2.1" fill="#a949ad" fill-opacity="0.83" transform="rotate(66 523.1 314.6)"/>
<ellipse cx="537.6" cy="316.2" rx="3.5" ry="2.7" fill="#9540a1" fill-opacity="0.89" transform="rotate(-23 537.6 316.2)"/>
<ellipse cx="550.6" cy="313.3" rx="3.2" ry="1.9" fill="#a246a9" fill-opacity="0.74" transform="rotate(45 550.6 313.3)"/>
<ellipse cx="308.2" cy="321.4" rx="3.5" ry="1.9" fill="#aa49ad" fill-opacity="0.87" transform="rotate(-45 308.2 321.4)"/>
<ellipse cx="334.2" cy="320.1" rx="3.7" ry="1.8" fill="#943fa0" fill-opacity="0.74" transform="rotate(-26 334.2 320.1)"/>
<ellipse cx="340.7" cy="322.8" rx="2.9" ry="2.4" fill="#a246a9" fill-opacity="0.77" transform="rotate(-16 340.7 322.8)"/>
<ellipse cx="357.0" cy="325.5" rx="3.7" ry="2.5" fill="#a547aa" fill-opacity="0.74" transform="rotate(84 357.0 325.5)"/>
<ellipse cx="360.1" cy="323.8" rx="3.2" ry="2.6" fill="#9e44a6" fill-opacity="0.76" transform="rotate(52 360.1 323.8)"/>
<ellipse cx="371.6" cy="324.5" rx="3.5" ry="2.0" fill="#b34eb3" fill-opacity="0.78" transform="rotate(-29 371.6 324.5)"/>
<ellipse cx="382.9" cy="323.4" rx="2.5" ry="1.8" fill="#a447aa" fill-opacity="0.94" transform="rotate(-16 382.9 323.4)"/>
<ellipse cx="396.8" cy="322.8" rx="3.0" ry="2.5" fill="#a648ab" fill-opacity="0.77" transform="rotate(14 396.8 322.8)"/>
<ellipse cx="406.0" cy="324.8" rx="3.8" ry="1.8" fill="#b04cb1" fill-opacity="0.85" transform="rotate(58 406.0 324.8)"/>
<ellipse cx="416.3" cy="325.3" rx="3.6" ry="2.1" fill="#b850b6" fill-opacity="0.83" transform="rotate(37 416.3 325.3)"/>
<ellipse cx="432.0" cy="325.1" rx="3.3" ry="2.7" fill="#b64fb4" fill-opacity="0.88" transform="rotate(21 432.0 325.1)"/>
<ellipse cx="449.3" cy="323.8" rx="3.5" ry="2.5" fill="#943fa0" fill-opacity="0.80" transform="rotate(-80 449.3 323.8)"/>
<ellipse cx="464.3" cy="322.2" rx="3.1" ry="1.8" fill="#a949ad" fill-opacity="0.91" transform="rotate(56 464.3 322.2)"/>
<ellipse cx="474.2" cy="320.6" rx="3.3" ry="1.8" fill="#9741a2" fill-opacity="0.87" transform="rotate(-5 474.2 320.6)"/>
<ellipse cx="482.0" cy="320.2" rx="3.3" ry="2.8" fill="#a748ac" fill-opacity="0.90" transform="rotate(70 482.0 320.2)"/>
<ellipse cx="489.9" cy="322.5" rx="4.0" ry="2.0" fill="#bb51b7" fill-opacity="0.77" transform="rotate(-10 489.9 322.5)"/>
<ellipse cx="502.8" cy="325.3" rx="3.8" ry="2.4" fill="#a949ac" fill-opacity="0.78" transform="rotate(-27 502.8 325.3)"/>
<ellipse cx="523.3" cy="321.4" rx="3.0" ry="2.2" fill="#a246a8" fill-opacity="0.82" transform="rotate(59 523.3 321.4)"/>
<ellipse cx="533.0" cy="327.5" rx="3.5" ry="2.4" fill="#a647ab" fill-opacity="0.88" transform="rotate(-88 533.0 327.5)"/>
<ellipse cx="547.3" cy="323.1" rx="2.8" ry="2.6" fill="#ac4aae" fill-opacity="0.77" transform="rotate(-37 547.3 323.1)"/>
<ellipse cx="312.1" cy="335.1" rx="3.1" ry="2.7" fill="#8f3d9d" fill-opacity="0.71" transform="rotate(21 312.1 335.1)"/>
<ellipse cx="323.4" cy="331.1" rx="3.7" ry="2.2" fill="#913e9f" fill-opacity="0.70" transform="rotate(53 323.4 331.1)"/>
<ellipse cx="333.1" cy="331.5" rx="3.6" ry="2.6" fill="#9942a3" fill-opacity="0.83" transform="rotate(-50 333.1 331.5)"/>
<ellipse cx="338.7" cy="337.8" rx="2.6" ry="2.6" fill="#b74fb5" fill-opacity="0.94" transform="rotate(16 338.7 337.8)"/>
<ellipse cx="350.2" cy="337.1" rx="3.1" ry="2.7" fill="#a648ab" fill-opacity="0.93" transform="rotate(-56 350.2 337.1)"/>
<ellipse cx="359.4" cy="337.1" rx="3.3" ry="2.1" fill="#b04cb1" fill-opacity="0.84" transform="rotate(-51 359.4 337.1)"/>
<ellipse cx="372.5" cy="332.3" rx="3.9" ry="2.4" fill="#b14db1" fill-opacity="0.76" transform="rotate(-82 372.5 332.3)"/>
<ellipse cx="383.5" cy="331.4" rx="3.5" ry="1.9" fill="#9c43a5" fill-opacity="0.74" transform="rotate(-43 383.5 331.4)"/>
<ellipse cx="395.2" cy="335.8" rx="2.6" ry="2.7" fill="#943fa0" fill-opacity="0.95" transform="rotate(44 395.2 335.8)"/>
<ellipse cx="406.8" cy="332.5" rx="3.2" ry="2.7" fill="#9741a2" fill-opacity="0.72" transform="rotate(34 406.8 332.5)"/>
<ellipse cx="415.5" cy="332.6" rx="2.7" ry="2.2" fill="#9741a2" fill-opacity="0.89" transform="rotate(-32 415.5 332.6)"/>
<ellipse cx="428.9" cy="332.6" rx="2.4" ry="1.9" fill="#b74fb5" fill-opacity="0.74" transform="rotate(-14 428.9 332.6)"/>
<ellipse cx="435.0" cy="332.9" rx="3.6" ry="1.9" fill="#b04cb1" fill-opacity="0.90" transform="rotate(-14 435.0 332.9)"/>
<ellipse cx="452.5" cy="336.2" rx="2.6" ry="1.9" fill="#9841a3" fill-opacity="0.80" transform="rotate(-81 452.5 336.2)"/>
<ellipse cx="456.5" cy="334.4" rx="2.6" ry="2.3" fill="#9c43a5" fill-opacity="0.79" transform="rotate(5 456.5 334.4)"/>
<ellipse cx="473.4" cy="336.3" rx="2.5" ry="1.7" fill="#9c43a5" fill-opacity="0.86" transform="rotate(32 473.4 336.3)"/>
<ellipse cx="480.5" cy="332.3" rx="2.6" ry="2.0" fill="#b04cb1" fill-opacity="0.84" transform="rotate(-7 480.5 332.3)"/>
<ellipse cx="492.7" cy="331.5" rx="3.0" ry="1.9" fill="#a346a9" fill-opacity="0.80" transform="rotate(-38 492.7 331.5)"/>
<ellipse cx="508.1" cy="337.7" rx="2.8" ry="1.8" fill="#a246a9" fill-opacity="0.73" transform="rotate(-77 508.1 337.7)"/>
<ellipse cx="514.5" cy="336.7" rx="2.8" ry="2.5" fill="#9a42a4" fill-opacity="0.74" transform="rotate(-23 514.5 336.7)"/>
<ellipse cx="529.8" cy="333.7" rx="3.3" ry="1.8" fill="#b64fb4" fill-opacity="0.87" transform="rotate(-35 529.8 333.7)"/>
<ellipse cx="533.9" cy="335.1" rx="2.5" ry="2.0" fill="#9942a4" fill-opacity="0.85" transform="rotate(-65 533.9 335.1)"/>
<ellipse cx="543.0" cy="335.3" rx="2.9" ry="2.6" fill="#9440a1" fill-opacity="0.82" transform="rotate(-44 543.0 335.3)"/>
<ellipse cx="305.1" cy="348.4" rx="2.5" ry="2.0" fill="#a849ac" fill-opacity="0.88" transform="rotate(83 305.1 348.4)"/>
<ellipse cx="317.3" cy="347.2" rx="3.9" ry="2.5" fill="#b24db2" fill-opacity="0.88" transform="rotate(-73 317.3 347.2)"/>
<ellipse cx="335.4" cy="347.1" rx="3.6" ry="2.7" fill="#a447aa" fill-opacity="0.89" transform="rotate(72 335.4 347.1)"/>
<ellipse cx="338.0" cy="347.8" rx="3.1" ry="2.4" fill="#aa49ad" fill-opacity="0.94" transform="rotate(59 338.0 347.8)"/>
<ellipse cx="349.6" cy="348.6" rx="2.6" ry="2.6" fill="#9841a3" fill-opacity="0.93" transform="rotate(-77 349.6 348.6)"/>
<ellipse cx="365.6" cy="347.5" rx="3.1" ry="2.6" fill="#9f45a7" fill-opacity="0.90" transform="rotate(41 365.6 347.5)"/>
<ellipse cx="372.4" cy="348.6" rx="2.6" ry="2.8" fill="#8e3d9d" fill-opacity="0.90" transform="rotate(-26 372.4 348.6)"/>
<ellipse cx="387.2" cy="347.6" rx="3.3" ry="2.7" fill="#9f45a7" fill-opacity="0.84" transform="rotate(85 387.2 347.6)"/>
<ellipse cx="399.2" cy="340.9" rx="3.4" ry="2.6" fill="#a949ac" fill-opacity="0.79" transform="rotate(7 399.2 340.9)"/>
<ellipse cx="405.8" cy="341.2" rx="2.9" ry="2.4" fill="#933fa0" fill-opacity="0.91" transform="rotate(-12 405.8 341.2)"/>
<ellipse cx="413.0" cy="344.6" rx="3.7" ry="2.2" fill="#b64fb4" fill-opacity="0.85" transform="rotate(27 413.0 344.6)"/>
<ellipse cx="425.1" cy="345.1" rx="3.1" ry="1.7" fill="#a949ac" fill-opacity="0.78" transform="rotate(-21 425.1 345.1)"/>
<ellipse cx="436.2" cy="348.0" rx="2.8" ry="1.9" fill="#a246a8" fill-opacity="0.86" transform="rotate(6 436.2 348.0)"/>
<ellipse cx="452.6" cy="342.0" rx="3.0" ry="1.9" fill="#8e3c9d" fill-opacity="0.92" transform="rotate(66 452.6 342.0)"/>
<ellipse cx="464.0" cy="348.6" rx="3.8" ry="2.6" fill="#ac4aaf" fill-opacity="0.85" transform="rotate(-49 464.0 348.6)"/>
<ellipse cx="478.7" cy="342.6" rx="3.6" ry="2.4" fill="#9c43a5" fill-opacity="0.95" transform="rotate(41 478.7 342.6)"/>
<ellipse cx="494.5" cy="341.6" rx="3.1" ry="2.3" fill="#af4cb0" fill-opacity="0.78" transform="rotate(-22 494.5 341.6)"/>
<ellipse cx="507.8" cy="343.5" rx="3.0" ry="2.3" fill="#9d44a6" fill-opacity="0.87" transform="rotate(77 507.8 343.5)"/>
<ellipse cx="521.5" cy="347.5" rx="3.1" ry="2.5" fill="#a145a8" fill-opacity="0.92" transform="rotate(65 521.5 347.5)"/>
<ellipse cx="538.4" cy="340.8" rx="3.9" ry="2.7" fill="#b54eb4" fill-opacity="0.74" transform="rotate(60 538.4 340.8)"/>
<ellipse cx="321.3" cy="352.9" rx="3.3" ry="2.1" fill="#ba51b7" fill-opacity="0.72" transform="rotate(83 321.3 352.9)"/>
<ellipse cx="340.6" cy="358.5" rx="3.2" ry="1.8" fill="#933fa0" fill-opacity="0.83" transform="rotate(-55 340.6 358.5)"/>
<ellipse cx="350.0" cy="357.7" rx="3.2" ry="2.4" fill="#ad4baf" fill-opacity="0.93" transform="rotate(60 350.0 357.7)"/>
<ellipse cx="378.3" cy="352.5" rx="2.7" ry="2.1" fill="#8e3d9d" fill-opacity="0.81" transform="rotate(-63 378.3 352.5)"/>
<ellipse cx="386.6" cy="353.9" rx="3.2" ry="1.8" fill="#9540a1" fill-opacity="0.93" transform="rotate(69 386.6 353.9)"/>
<ellipse cx="395.4" cy="357.9" rx="2.9" ry="1.9" fill="#9640a2" fill-opacity="0.89" transform="rotate(30 395.4 357.9)"/>
<ellipse cx="408.0" cy="358.0" rx="3.0" ry="2.5" fill="#b850b5" fill-opacity="0.80" transform="rotate(-17 408.0 358.0)"/>
<ellipse cx="420.5" cy="351.9" rx="3.3" ry="2.5" fill="#bb51b7" fill-opacity="0.78" transform="rotate(64 420.5 351.9)"/>
<ellipse cx="432.1" cy="353.1" rx="3.3" ry="2.5" fill="#b850b6" fill-opacity="0.87" transform="rotate(15 432.1 353.1)"/>
<ellipse cx="446.9" cy="352.4" rx="2.6" ry="2.1" fill="#9841a3" fill-opacity="0.91" transform="rotate(-3 446.9 352.4)"/>
<ellipse cx="459.7" cy="355.1" rx="3.5" ry="1.9" fill="#923e9f" fill-opacity="0.88" transform="rotate(15 459.7 355.1)"/>
<ellipse cx="472.9" cy="358.5" rx="2.5" ry="2.2" fill="#ab4aae" fill-opacity="0.83" transform="rotate(56 472.9 358.5)"/>
<ellipse cx="483.7" cy="355.8" rx="2.8" ry="2.6" fill="#a045a7" fill-opacity="0.90" transform="rotate(-57 483.7 355.8)"/>
<ellipse cx="489.9" cy="356.5" rx="3.8" ry="2.7" fill="#a346a9" fill-opacity="0.89" transform="rotate(76 489.9 356.5)"/>
<ellipse cx="502.8" cy="353.3" rx="3.0" ry="2.7" fill="#913e9f" fill-opacity="0.88" transform="rotate(64 502.8 353.3)"/>
<ellipse cx="515.5" cy="355.2" rx="2.9" ry="2.1" fill="#903e9e" fill-opacity="0.84" transform="rotate(-70 515.5 355.2)"/>
<ellipse cx="524.2" cy="356.8" rx="2.9" ry="1.7" fill="#933fa0" fill-opacity="0.86" transform="rotate(-55 524.2 356.8)"/>
<ellipse cx="547.8" cy="355.9" rx="3.1" ry="2.2" fill="#a246a8" fill-opacity="0.77" transform="rotate(-3 547.8 355.9)"/>
<ellipse cx="313.5" cy="365.8" rx="3.7" ry="2.0" fill="#a145a8" fill-opacity="0.94" transform="rotate(57 313.5 365.8)"/>
<ellipse cx="320.5" cy="361.6" rx="3.2" ry="2.2" fill="#ba51b7" fill-opacity="0.72" transform="rotate(71 320.5 361.6)"/>
<ellipse cx="329.0" cy="362.1" rx="3.9" ry="2.1" fill="#a949ad" fill-opacity="0.87" transform="rotate(-76 329.0 362.1)"/>
<ellipse cx="344.5" cy="369.4" rx="2.5" ry="2.2" fill="#8c3c9c" fill-opacity="0.73" transform="rotate(26 344.5 369.4)"/>
<ellipse cx="356.7" cy="368.7" rx="3.4" ry="1.8" fill="#b24db2" fill-opacity="0.74" transform="rotate(-41 356.7 368.7)"/>
<ellipse cx="359.7" cy="368.8" rx="3.7" ry="2.5" fill="#9640a2" fill-opacity="0.89" transform="rotate(-39 359.7 368.8)"/>
<ellipse cx="397.8" cy="367.3" rx="2.4" ry="2.6" fill="#b24db2" fill-opacity="0.88" transform="rotate(71 397.8 367.3)"/>
<ellipse cx="406.9" cy="366.0" rx="2.9" ry="2.1" fill="#a045a8" fill-opacity="0.73" transform="rotate(-46 406.9 366.0)"/>
<ellipse cx="419.1" cy="364.8" rx="3.6" ry="2.1" fill="#9942a4" fill-opacity="0.91" transform="rotate(3 419.1 364.8)"/>
<ellipse cx="442.6" cy="368.0" rx="2.6" ry="1.8" fill="#943fa0" fill-opacity="0.84" transform="rotate(40 442.6 368.0)"/>
<ellipse cx="448.8" cy="364.3" rx="2.7" ry="2.0" fill="#8e3d9d" fill-opacity="0.90" transform="rotate(42 448.8 364.3)"/>
<ellipse cx="460.0" cy="367.5" rx="3.7" ry="1.8" fill="#9540a1" fill-opacity="0.70" transform="rotate(-36 460.0 367.5)"/>
<ellipse cx="473.4" cy="365.8" rx="4.0" ry="1.8" fill="#9440a1" fill-opacity="0.90" transform="rotate(-38 473.4 365.8)"/>
<ellipse cx="485.6" cy="365.8" rx="3.4" ry="2.7" fill="#ac4aae" fill-opacity="0.82" transform="rotate(73 485.6 365.8)"/>
<ellipse cx="496.6" cy="361.4" rx="3.8" ry="1.8" fill="#aa4aae" fill-opacity="0.92" transform="rotate(-39 496.6 361.4)"/>
<ellipse cx="516.2" cy="369.0" rx="3.6" ry="2.6" fill="#a045a8" fill-opacity="0.74" transform="rotate(76 516.2 369.0)"/>
<ellipse cx="526.9" cy="367.3" rx="3.5" ry="2.2" fill="#9c43a5" fill-opacity="0.74" transform="rotate(37 526.9 367.3)"/>
<ellipse cx="537.1" cy="361.8" rx="2.8" ry="2.1" fill="#8c3c9c" fill-opacity="0.90" transform="rotate(-33 537.1 361.8)"/>
<ellipse cx="548.2" cy="367.5" rx="4.0" ry="2.6" fill="#b74fb5" fill-opacity="0.71" transform="rotate(-78 548.2 367.5)"/>
<ellipse cx="322.6" cy="372.1" rx="3.1" ry="1.7" fill="#a045a7" fill-opacity="0.82" transform="rotate(32 322.6 372.1)"/>
<ellipse cx="343.6" cy="373.3" rx="3.2" ry="1.8" fill="#b44eb3" fill-opacity="0.90" transform="rotate(7 343.6 373.3)"/>
<ellipse cx="363.9" cy="378.6" rx="3.4" ry="2.6" fill="#9e44a6" fill-opacity="0.72" transform="rotate(-77 363.9 378.6)"/>
<ellipse cx="375.6" cy="376.9" rx="3.3" ry="1.9" fill="#9b43a5" fill-opacity="0.75" transform="rotate(39 375.6 376.9)"/>
<ellipse cx="387.7" cy="375.5" rx="2.7" ry="2.2" fill="#9c43a5" fill-opacity="0.73" transform="rotate(-68 387.7 375.5)"/>
<ellipse cx="396.2" cy="374.7" rx="3.8" ry="2.6" fill="#9841a3" fill-opacity="0.73" transform="rotate(4 396.2 374.7)"/>
<ellipse cx="404.6" cy="374.3" rx="3.3" ry="2.1" fill="#a447aa" fill-opacity="0.75" transform="rotate(-70 404.6 374.3)"/>
<ellipse cx="413.7" cy="372.7" rx="3.2" ry="2.2" fill="#9f44a7" fill-opacity="0.80" transform="rotate(66 413.7 372.7)"/>
<ellipse cx="428.9" cy="373.5" rx="2.5" ry="1.7" fill="#9741a2" fill-opacity="0.71" transform="rotate(-83 428.9 373.5)"/>
<ellipse cx="452.4" cy="372.2" rx="2.8" ry="1.8" fill="#ad4baf" fill-opacity="0.90" transform="rotate(-1 452.4 372.2)"/>
<ellipse cx="456.4" cy="374.9" rx="3.9" ry="2.4" fill="#b44eb3" fill-opacity="0.82" transform="rotate(69 456.4 374.9)"/>
<ellipse cx="474.4" cy="380.1" rx="2.8" ry="2.2" fill="#ae4bb0" fill-opacity="0.71" transform="rotate(-31 474.4 380.1)"/>
<ellipse cx="482.6" cy="374.7" rx="3.6" ry="2.0" fill="#bb51b7" fill-opacity="0.79" transform="rotate(-70 482.6 374.7)"/>
<ellipse cx="493.3" cy="372.6" rx="3.4" ry="2.1" fill="#ac4baf" fill-opacity="0.83" transform="rotate(27 493.3 372.6)"/>
<ellipse cx="500.8" cy="376.2" rx="3.9" ry="2.1" fill="#a246a8" fill-opacity="0.93" transform="rotate(86 500.8 376.2)"/>
<ellipse cx="517.0" cy="377.0" rx="3.6" ry="2.7" fill="#b14db1" fill-opacity="0.88" transform="rotate(20 517.0 377.0)"/>
<ellipse cx="527.3" cy="380.0" rx="3.5" ry="2.5" fill="#a648ab" fill-opacity="0.89" transform="rotate(10 527.3 380.0)"/>
<ellipse cx="534.0" cy="373.9" rx="2.7" ry="2.0" fill="#9a42a4" fill-opacity="0.94" transform="rotate(74 534.0 373.9)"/>
<ellipse cx="549.1" cy="372.9" rx="3.0" ry="1.8" fill="#b850b6" fill-opacity="0.88" transform="rotate(47 549.1 372.9)"/>
<ellipse cx="305.1" cy="385.1" rx="3.2" ry="2.8" fill="#b64fb4" fill-opacity="0.87" transform="rotate(-20 305.1 385.1)"/>
<ellipse cx="328.8" cy="385.4" rx="4.0" ry="2.7" fill="#b34eb3" fill-opacity="0.92" transform="rotate(27 328.8 385.4)"/>
<ellipse cx="340.4" cy="389.1" rx="2.8" ry="2.6" fill="#943fa0" fill-opacity="0.90" transform="rotate(81 340.4 389.1)"/>
<ellipse cx="351.2" cy="387.3" rx="2.5" ry="2.6" fill="#b850b5" fill-opacity="0.87" transform="rotate(-11 351.2 387.3)"/>
<ellipse cx="364.8" cy="383.6" rx="4.0" ry="2.1" fill="#b74fb5" fill-opacity="0.86" transform="rotate(55 364.8 383.6)"/>
<ellipse cx="374.9" cy="382.6" rx="3.9" ry="2.7" fill="#af4cb0" fill-opacity="0.79" transform="rotate(48 374.9 382.6)"/>
<ellipse cx="387.0" cy="383.3" rx="3.0" ry="2.3" fill="#af4cb0" fill-opacity="0.73" transform="rotate(-27 387.0 383.3)"/>
<ellipse cx="399.4" cy="383.5" rx="2.4" ry="2.4" fill="#8f3d9d" fill-opacity="0.92" transform="rotate(8 399.4 383.5)"/>
<ellipse cx="415.3" cy="382.2" rx="3.0" ry="2.0" fill="#a949ad" fill-opacity="0.82" transform="rotate(34 415.3 382.2)"/>
<ellipse cx="424.8" cy="386.0" rx="2.6" ry="2.2" fill="#b74fb5" fill-opacity="0.74" transform="rotate(-31 424.8 386.0)"/>
<ellipse cx="438.3" cy="382.6" rx="3.1" ry="2.0" fill="#af4cb0" fill-opacity="0.78" transform="rotate(-76 438.3 382.6)"/>
<ellipse cx="446.0" cy="384.0" rx="3.8" ry="2.8" fill="#a045a8" fill-opacity="0.91" transform="rotate(-62 446.0 384.0)"/>
<ellipse cx="456.7" cy="385.7" rx="3.2" ry="2.0" fill="#a246a9" fill-opacity="0.73" transform="rotate(32 456.7 385.7)"/>
<ellipse cx="469.3" cy="389.9" rx="2.5" ry="2.2" fill="#9841a3" fill-opacity="0.78" transform="rotate(-38 469.3 389.9)"/>
<ellipse cx="480.3" cy="388.7" rx="3.2" ry="2.0" fill="#9a42a4" fill-opacity="0.83" transform="rotate(70 480.3 388.7)"/>
<ellipse cx="494.3" cy="386.4" rx="3.6" ry="2.3" fill="#a547aa" fill-opacity="0.76" transform="rotate(37 494.3 386.4)"/>
<ellipse cx="505.2" cy="383.3" rx="3.8" ry="2.1" fill="#a949ad" fill-opacity="0.71" transform="rotate(4 505.2 383.3)"/>
<ellipse cx="516.0" cy="387.6" rx="3.1" ry="2.5" fill="#bb51b7" fill-opacity="0.81" transform="rotate(-81 516.0 387.6)"/>
<ellipse cx="523.5" cy="390.3" rx="2.9" ry="1.9" fill="#ad4baf" fill-opacity="0.72" transform="rotate(-84 523.5 390.3)"/>
<ellipse cx="544.7" cy="386.1" rx="3.2" ry="2.8" fill="#8e3d9d" fill-opacity="0.86" transform="rotate(-35 544.7 386.1)"/>
<ellipse cx="306.7" cy="396.5" rx="2.8" ry="2.8" fill="#9640a2" fill-opacity="0.89" transform="rotate(-82 306.7 396.5)"/>
<ellipse cx="319.4" cy="395.4" rx="3.0" ry="1.9" fill="#ba51b7" fill-opacity="0.91" transform="rotate(-90 319.4 395.4)"/>
<ellipse cx="328.0" cy="399.3" rx="3.3" ry="2.1" fill="#a547aa" fill-opacity="0.77" transform="rotate(53 328.0 399.3)"/>
<ellipse cx="338.5" cy="400.6" rx="3.2" ry="2.3" fill="#b54eb4" fill-opacity="0.92" transform="rotate(-76 338.5 400.6)"/>
<ellipse cx="349.7" cy="396.1" rx="3.7" ry="2.0" fill="#943fa1" fill-opacity="0.84" transform="rotate(-33 349.7 396.1)"/>
<ellipse cx="366.6" cy="400.5" rx="3.1" ry="1.8" fill="#8e3d9d" fill-opacity="0.93" transform="rotate(-64 366.6 400.5)"/>
<ellipse cx="378.3" cy="400.1" rx="2.7" ry="1.9" fill="#9741a2" fill-opacity="0.72" transform="rotate(6 378.3 400.1)"/>
<ellipse cx="388.1" cy="399.3" rx="2.6" ry="2.0" fill="#a346a9" fill-opacity="0.86" transform="rotate(60 388.1 399.3)"/>
<ellipse cx="397.4" cy="395.6" rx="3.1" ry="2.4" fill="#a145a8" fill-opacity="0.76" transform="rotate(7 397.4 395.6)"/>
<ellipse cx="403.8" cy="398.3" rx="3.0" ry="2.3" fill="#b04cb1" fill-opacity="0.87" transform="rotate(-72 403.8 398.3)"/>
<ellipse cx="419.2" cy="393.0" rx="2.9" ry="2.7" fill="#b14db2" fill-opacity="0.81" transform="rotate(-3 419.2 393.0)"/>
<ellipse cx="429.8" cy="398.5" rx="3.9" ry="2.6" fill="#b34eb2" fill-opacity="0.76" transform="rotate(20 429.8 398.5)"/>
<ellipse cx="435.4" cy="400.7" rx="2.6" ry="2.5" fill="#a849ac" fill-opacity="0.79" transform="rotate(2 435.4 400.7)"/>
<ellipse cx="448.7" cy="396.7" rx="3.4" ry="2.7" fill="#8c3c9c" fill-opacity="0.73" transform="rotate(40 448.7 396.7)"/>
<ellipse cx="457.4" cy="395.9" rx="3.3" ry="2.7" fill="#b850b5" fill-opacity="0.84" transform="rotate(1 457.4 395.9)"/>
<ellipse cx="470.0" cy="398.9" rx="3.5" ry="2.4" fill="#9540a1" fill-opacity="0.90" transform="rotate(10 470.0 398.9)"/>
<ellipse cx="481.1" cy="400.6" rx="3.4" ry="2.4" fill="#933fa0" fill-opacity="0.88" transform="rotate(-40 481.1 400.6)"/>
<ellipse cx="491.8" cy="399.6" rx="2.5" ry="2.2" fill="#b44eb3" fill-opacity="0.87" transform="rotate(60 491.8 399.6)"/>
<ellipse cx="499.8" cy="400.0" rx="3.3" ry="1.7" fill="#a848ac" fill-opacity="0.90" transform="rotate(-46 499.8 400.0)"/>
<ellipse cx="511.0" cy="394.6" rx="3.8" ry="2.6" fill="#b34eb3" fill-opacity="0.76" transform="rotate(-84 511.0 394.6)"/>
<ellipse cx="533.1" cy="395.3" rx="3.1" ry="2.2" fill="#ac4aaf" fill-opacity="0.76" transform="rotate(-76 533.1 395.3)"/>
<ellipse cx="550.8" cy="394.7" rx="2.5" ry="2.8" fill="#b850b6" fill-opacity="0.73" transform="rotate(-6 550.8 394.7)"/>
<ellipse cx="308.0" cy="407.0" rx="3.3" ry="1.8" fill="#8f3d9d" fill-opacity="0.74" transform="rotate(87 308.0 407.0)"/>
<ellipse cx="319.5" cy="405.4" rx="2.5" ry="2.2" fill="#ad4baf" fill-opacity="0.72" transform="rotate(-52 319.5 405.4)"/>
<ellipse cx="328.3" cy="408.8" rx="2.8" ry="1.8" fill="#9640a1" fill-opacity="0.87" transform="rotate(54 328.3 408.8)"/>
<ellipse cx="350.1" cy="410.0" rx="3.2" ry="2.3" fill="#9741a2" fill-opacity="0.78" transform="rotate(-76 350.1 410.0)"/>
<ellipse cx="359.3" cy="409.0" rx="3.4" ry="2.5" fill="#ae4baf" fill-opacity="0.85" transform="rotate(-43 359.3 409.0)"/>
<ellipse cx="371.6" cy="405.5" rx="2.7" ry="1.9" fill="#af4cb0" fill-opacity="0.89" transform="rotate(90 371.6 405.5)"/>
<ellipse cx="386.9" cy="411.0" rx="2.9" ry="2.5" fill="#ad4baf" fill-opacity="0.71" transform="rotate(65 386.9 411.0)"/>
<ellipse cx="394.2" cy="405.4" rx="2.7" ry="2.4" fill="#b04cb1" fill-opacity="0.76" transform="rotate(-83 394.2 405.4)"/>
<ellipse cx="403.9" cy="403.9" rx="3.0" ry="2.5" fill="#a246a9" fill-opacity="0.83" transform="rotate(-71 403.9 403.9)"/>
<ellipse cx="413.9" cy="403.5" rx="2.8" ry="2.4" fill="#a447aa" fill-opacity="0.76" transform="rotate(-9 413.9 403.5)"/>
<ellipse cx="431.3" cy="410.8" rx="3.3" ry="2.6" fill="#9a42a4" fill-opacity="0.88" transform="rotate(-10 431.3 410.8)"/>
<ellipse cx="440.0" cy="403.8" rx="2.8" ry="1.7" fill="#9d43a6" fill-opacity="0.95" transform="rotate(52 440.0 403.8)"/>
<ellipse cx="446.5" cy="406.8" rx="2.5" ry="2.5" fill="#ad4baf" fill-opacity="0.89" transform="rotate(21 446.5 406.8)"/>
<ellipse cx="460.8" cy="404.1" rx="3.6" ry="1.7" fill="#9942a3" fill-opacity="0.93" transform="rotate(81 460.8 404.1)"/>
<ellipse cx="468.2" cy="403.8" rx="3.3" ry="2.6" fill="#b44eb3" fill-opacity="0.74" transform="rotate(-46 468.2 403.8)"/>
<ellipse cx="481.2" cy="409.7" rx="3.8" ry="2.2" fill="#aa4aad" fill-opacity="0.84" transform="rotate(-67 481.2 409.7)"/>
<ellipse cx="515.5" cy="405.3" rx="3.6" ry="1.8" fill="#9942a3" fill-opacity="0.75" transform="rotate(35 515.5 405.3)"/>
<ellipse cx="521.9" cy="409.7" rx="2.8" ry="2.2" fill="#b04cb1" fill-opacity="0.95" transform="rotate(-52 521.9 409.7)"/>
<ellipse cx="540.4" cy="408.1" rx="3.8" ry="2.5" fill="#9841a3" fill-opacity="0.86" transform="rotate(-76 540.4 408.1)"/>
<ellipse cx="549.8" cy="410.1" rx="3.6" ry="2.4" fill="#bb51b7" fill-opacity="0.92" transform="rotate(-7 549.8 410.1)"/>
</g>
<polygon points="454.39,325.65 456.17,321.88 471.47,328.54 472.58,325.65 479.24,334.08 468.15,335.19 469.92,332.31" fill="#e8f4f0" stroke="#2a6a6a" stroke-width="0.9" stroke-linejoin="round"/><polygon points="492.1,313.01 497.43,315.01 489.22,326.99 492.55,328.32 482.57,333.64 482.57,325.65 485.89,326.54" fill="#f6efe8" stroke="#e03a2a" stroke-width="0.9" stroke-linejoin="round"/><rect x="524" y="401" width="18" height="3.8" fill="#fff"/><text x="533" y="404.2" font-size="3" text-anchor="middle" fill="#444">20µm</text>
</g>
<line x1="62.2" y1="41.22" x2="62.2" y2="122.4" stroke="#111" stroke-width="1.2"/>
<line x1="61.6" y1="120.2" x2="197.5" y2="120.2" stroke="#111" stroke-width="1.2"/>
<line x1="59" y1="120.2" x2="62.2" y2="120.2" stroke="#111" stroke-width="0.9"/>
<line x1="60.4" y1="116.61" x2="62.2" y2="116.61" stroke="#111" stroke-width="0.9"/>
<line x1="60.4" y1="113.02" x2="62.2" y2="113.02" stroke="#111" stroke-width="0.9"/>
<line x1="60.4" y1="109.43" x2="62.2" y2="109.43" stroke="#111" stroke-width="0.9"/>
<line x1="60.4" y1="105.84" x2="62.2" y2="105.84" stroke="#111" stroke-width="0.9"/>
<line x1="60.4" y1="102.25" x2="62.2" y2="102.25" stroke="#111" stroke-width="0.9"/>
<line x1="60.4" y1="98.66" x2="62.2" y2="98.66" stroke="#111" stroke-width="0.9"/>
<line x1="60.4" y1="95.07" x2="62.2" y2="95.07" stroke="#111" stroke-width="0.9"/>
<line x1="60.4" y1="91.48" x2="62.2" y2="91.48" stroke="#111" stroke-width="0.9"/>
<line x1="60.4" y1="87.89" x2="62.2" y2="87.89" stroke="#111" stroke-width="0.9"/>
<line x1="59" y1="84.3" x2="62.2" y2="84.3" stroke="#111" stroke-width="0.9"/>
<line x1="60.4" y1="80.71" x2="62.2" y2="80.71" stroke="#111" stroke-width="0.9"/>
<line x1="60.4" y1="77.12" x2="62.2" y2="77.12" stroke="#111" stroke-width="0.9"/>
<line x1="60.4" y1="73.53" x2="62.2" y2="73.53" stroke="#111" stroke-width="0.9"/>
<line x1="60.4" y1="69.94" x2="62.2" y2="69.94" stroke="#111" stroke-width="0.9"/>
<line x1="60.4" y1="66.35" x2="62.2" y2="66.35" stroke="#111" stroke-width="0.9"/>
<line x1="60.4" y1="62.76" x2="62.2" y2="62.76" stroke="#111" stroke-width="0.9"/>
<line x1="60.4" y1="59.17" x2="62.2" y2="59.17" stroke="#111" stroke-width="0.9"/>
<line x1="60.4" y1="55.58" x2="62.2" y2="55.58" stroke="#111" stroke-width="0.9"/>
<line x1="60.4" y1="51.99" x2="62.2" y2="51.99" stroke="#111" stroke-width="0.9"/>
<line x1="59" y1="48.4" x2="62.2" y2="48.4" stroke="#111" stroke-width="0.9"/>
<line x1="60.4" y1="44.81" x2="62.2" y2="44.81" stroke="#111" stroke-width="0.9"/>
<line x1="60.4" y1="41.22" x2="62.2" y2="41.22" stroke="#111" stroke-width="0.9"/>
<line x1="62.2" y1="120.2" x2="62.2" y2="123.4" stroke="#111" stroke-width="0.9"/>
<line x1="66.69" y1="120.2" x2="66.69" y2="122" stroke="#111" stroke-width="0.9"/>
<line x1="71.19" y1="120.2" x2="71.19" y2="122" stroke="#111" stroke-width="0.9"/>
<line x1="75.68" y1="120.2" x2="75.68" y2="122" stroke="#111" stroke-width="0.9"/>
<line x1="80.17" y1="120.2" x2="80.17" y2="122" stroke="#111" stroke-width="0.9"/>
<line x1="84.67" y1="120.2" x2="84.67" y2="122" stroke="#111" stroke-width="0.9"/>
<line x1="89.16" y1="120.2" x2="89.16" y2="122" stroke="#111" stroke-width="0.9"/>
<line x1="93.65" y1="120.2" x2="93.65" y2="122" stroke="#111" stroke-width="0.9"/>
<line x1="98.15" y1="120.2" x2="98.15" y2="122" stroke="#111" stroke-width="0.9"/>
<line x1="102.64" y1="120.2" x2="102.64" y2="122" stroke="#111" stroke-width="0.9"/>
<line x1="107.13" y1="120.2" x2="107.13" y2="123.4" stroke="#111" stroke-width="0.9"/>
<line x1="111.63" y1="120.2" x2="111.63" y2="122" stroke="#111" stroke-width="0.9"/>
<line x1="116.12" y1="120.2" x2="116.12" y2="122" stroke="#111" stroke-width="0.9"/>
<line x1="120.61" y1="120.2" x2="120.61" y2="122" stroke="#111" stroke-width="0.9"/>
<line x1="125.11" y1="120.2" x2="125.11" y2="122" stroke="#111" stroke-width="0.9"/>
<line x1="129.6" y1="120.2" x2="129.6" y2="122" stroke="#111" stroke-width="0.9"/>
<line x1="134.09" y1="120.2" x2="134.09" y2="122" stroke="#111" stroke-width="0.9"/>
<line x1="138.59" y1="120.2" x2="138.59" y2="122" stroke="#111" stroke-width="0.9"/>
<line x1="143.08" y1="120.2" x2="143.08" y2="122" stroke="#111" stroke-width="0.9"/>
<line x1="147.57" y1="120.2" x2="147.57" y2="122" stroke="#111" stroke-width="0.9"/>
<line x1="152.07" y1="120.2" x2="152.07" y2="123.4" stroke="#111" stroke-width="0.9"/>
<line x1="156.56" y1="120.2" x2="156.56" y2="122" stroke="#111" stroke-width="0.9"/>
<line x1="161.05" y1="120.2" x2="161.05" y2="122" stroke="#111" stroke-width="0.9"/>
<line x1="165.55" y1="120.2" x2="165.55" y2="122" stroke="#111" stroke-width="0.9"/>
<line x1="170.04" y1="120.2" x2="170.04" y2="122" stroke="#111" stroke-width="0.9"/>
<line x1="174.53" y1="120.2" x2="174.53" y2="122" stroke="#111" stroke-width="0.9"/>
<line x1="179.03" y1="120.2" x2="179.03" y2="122" stroke="#111" stroke-width="0.9"/>
<line x1="183.52" y1="120.2" x2="183.52" y2="122" stroke="#111" stroke-width="0.9"/>
<line x1="188.01" y1="120.2" x2="188.01" y2="122" stroke="#111" stroke-width="0.9"/>
<line x1="192.51" y1="120.2" x2="192.51" y2="122" stroke="#111" stroke-width="0.9"/>
<line x1="197" y1="120.2" x2="197" y2="123.4" stroke="#111" stroke-width="0.9"/>
<text x="57.9" y="50.7" class="tk" text-anchor="end">100</text>
<text x="57.9" y="86.6" class="tk" text-anchor="end">50</text>
<text x="57.9" y="122.5" class="tk" text-anchor="end">0</text>
<text x="62.2" y="130.5" class="tk" text-anchor="middle">0</text>
<text x="107.13" y="130.5" class="tk" text-anchor="middle">50</text>
<text x="152.07" y="130.5" class="tk" text-anchor="middle">100</text>
<text x="197" y="130.5" class="tk" text-anchor="middle">150</text>
<text x="129.6" y="138.6" class="ax" text-anchor="middle">Months</text>
<text class="yl" text-anchor="middle" transform="translate(40.8 80.35) rotate(-90)">Probability of Survival</text>
<text x="129.6" y="31" class="ttl" text-anchor="middle">BRAF C</text>
<polyline points="62.2,48.4 80,48.4 80,50 84,50 84,51 90,51 90,52.5 95,52.5 95,53.5 99,53.5 99,55 103,55 103,57 106,57 106,59 108,59 108,62 110,62 110,64 112,64 112,67.5 115,67.5 115,72 123,72 123,74 129,74 129,78 135,78 135,90 143,90 143,94 150,94 150,99 157,99 157,109 160.5,109 160.5,120.2" fill="none" stroke="#222" stroke-width="0.85" stroke-dasharray="0.9,1.0"/>
<polyline points="62.2,48.4 80.5,48.4 80.5,52 83,52 83,58 89.5,58 89.5,66.3 156,66.3" fill="none" stroke="#333" stroke-width="0.85"/>
<line x1="216.5" y1="46.4" x2="226.5" y2="46.4" stroke="#222" stroke-width="0.8"/>
<line x1="221.5" y1="44.9" x2="221.5" y2="46.4" stroke="#222" stroke-width="0.8"/>
<line x1="216.5" y1="57" x2="226.5" y2="57" stroke="#666" stroke-width="0.8" stroke-dasharray="1,1"/>
<line x1="221.5" y1="55.5" x2="221.5" y2="57" stroke="#666" stroke-width="0.8"/>
<text x="232" y="48.8" class="lg">BRAF C +</text>
<text x="232" y="59.4" class="lg">BRAF C -</text>
<rect x="212.9" y="69.9" width="34.7" height="20.6" fill="#fff" stroke="#222" stroke-width="1.3"/>
<text x="214.9" y="79.7" class="bx">X<tspan dy="-2.6" font-size="4.2">2</tspan><tspan dy="2.6"> = 0.05</tspan></text>
<text x="214.9" y="87.5" class="bx">&#961; = 0.82</text>
<line x1="62.2" y1="169.22" x2="62.2" y2="250.4" stroke="#111" stroke-width="1.2"/>
<line x1="61.6" y1="248.2" x2="197.5" y2="248.2" stroke="#111" stroke-width="1.2"/>
<line x1="59" y1="248.2" x2="62.2" y2="248.2" stroke="#111" stroke-width="0.9"/>
<line x1="60.4" y1="244.61" x2="62.2" y2="244.61" stroke="#111" stroke-width="0.9"/>
<line x1="60.4" y1="241.02" x2="62.2" y2="241.02" stroke="#111" stroke-width="0.9"/>
<line x1="60.4" y1="237.43" x2="62.2" y2="237.43" stroke="#111" stroke-width="0.9"/>
<line x1="60.4" y1="233.84" x2="62.2" y2="233.84" stroke="#111" stroke-width="0.9"/>
<line x1="60.4" y1="230.25" x2="62.2" y2="230.25" stroke="#111" stroke-width="0.9"/>
<line x1="60.4" y1="226.66" x2="62.2" y2="226.66" stroke="#111" stroke-width="0.9"/>
<line x1="60.4" y1="223.07" x2="62.2" y2="223.07" stroke="#111" stroke-width="0.9"/>
<line x1="60.4" y1="219.48" x2="62.2" y2="219.48" stroke="#111" stroke-width="0.9"/>
<line x1="60.4" y1="215.89" x2="62.2" y2="215.89" stroke="#111" stroke-width="0.9"/>
<line x1="59" y1="212.3" x2="62.2" y2="212.3" stroke="#111" stroke-width="0.9"/>
<line x1="60.4" y1="208.71" x2="62.2" y2="208.71" stroke="#111" stroke-width="0.9"/>
<line x1="60.4" y1="205.12" x2="62.2" y2="205.12" stroke="#111" stroke-width="0.9"/>
<line x1="60.4" y1="201.53" x2="62.2" y2="201.53" stroke="#111" stroke-width="0.9"/>
<line x1="60.4" y1="197.94" x2="62.2" y2="197.94" stroke="#111" stroke-width="0.9"/>
<line x1="60.4" y1="194.35" x2="62.2" y2="194.35" stroke="#111" stroke-width="0.9"/>
<line x1="60.4" y1="190.76" x2="62.2" y2="190.76" stroke="#111" stroke-width="0.9"/>
<line x1="60.4" y1="187.17" x2="62.2" y2="187.17" stroke="#111" stroke-width="0.9"/>
<line x1="60.4" y1="183.58" x2="62.2" y2="183.58" stroke="#111" stroke-width="0.9"/>
<line x1="60.4" y1="179.99" x2="62.2" y2="179.99" stroke="#111" stroke-width="0.9"/>
<line x1="59" y1="176.4" x2="62.2" y2="176.4" stroke="#111" stroke-width="0.9"/>
<line x1="60.4" y1="172.81" x2="62.2" y2="172.81" stroke="#111" stroke-width="0.9"/>
<line x1="60.4" y1="169.22" x2="62.2" y2="169.22" stroke="#111" stroke-width="0.9"/>
<line x1="62.2" y1="248.2" x2="62.2" y2="251.4" stroke="#111" stroke-width="0.9"/>
<line x1="66.69" y1="248.2" x2="66.69" y2="250" stroke="#111" stroke-width="0.9"/>
<line x1="71.19" y1="248.2" x2="71.19" y2="250" stroke="#111" stroke-width="0.9"/>
<line x1="75.68" y1="248.2" x2="75.68" y2="250" stroke="#111" stroke-width="0.9"/>
<line x1="80.17" y1="248.2" x2="80.17" y2="250" stroke="#111" stroke-width="0.9"/>
<line x1="84.67" y1="248.2" x2="84.67" y2="250" stroke="#111" stroke-width="0.9"/>
<line x1="89.16" y1="248.2" x2="89.16" y2="250" stroke="#111" stroke-width="0.9"/>
<line x1="93.65" y1="248.2" x2="93.65" y2="250" stroke="#111" stroke-width="0.9"/>
<line x1="98.15" y1="248.2" x2="98.15" y2="250" stroke="#111" stroke-width="0.9"/>
<line x1="102.64" y1="248.2" x2="102.64" y2="250" stroke="#111" stroke-width="0.9"/>
<line x1="107.13" y1="248.2" x2="107.13" y2="251.4" stroke="#111" stroke-width="0.9"/>
<line x1="111.63" y1="248.2" x2="111.63" y2="250" stroke="#111" stroke-width="0.9"/>
<line x1="116.12" y1="248.2" x2="116.12" y2="250" stroke="#111" stroke-width="0.9"/>
<line x1="120.61" y1="248.2" x2="120.61" y2="250" stroke="#111" stroke-width="0.9"/>
<line x1="125.11" y1="248.2" x2="125.11" y2="250" stroke="#111" stroke-width="0.9"/>
<line x1="129.6" y1="248.2" x2="129.6" y2="250" stroke="#111" stroke-width="0.9"/>
<line x1="134.09" y1="248.2" x2="134.09" y2="250" stroke="#111" stroke-width="0.9"/>
<line x1="138.59" y1="248.2" x2="138.59" y2="250" stroke="#111" stroke-width="0.9"/>
<line x1="143.08" y1="248.2" x2="143.08" y2="250" stroke="#111" stroke-width="0.9"/>
<line x1="147.57" y1="248.2" x2="147.57" y2="250" stroke="#111" stroke-width="0.9"/>
<line x1="152.07" y1="248.2" x2="152.07" y2="251.4" stroke="#111" stroke-width="0.9"/>
<line x1="156.56" y1="248.2" x2="156.56" y2="250" stroke="#111" stroke-width="0.9"/>
<line x1="161.05" y1="248.2" x2="161.05" y2="250" stroke="#111" stroke-width="0.9"/>
<line x1="165.55" y1="248.2" x2="165.55" y2="250" stroke="#111" stroke-width="0.9"/>
<line x1="170.04" y1="248.2" x2="170.04" y2="250" stroke="#111" stroke-width="0.9"/>
<line x1="174.53" y1="248.2" x2="174.53" y2="250" stroke="#111" stroke-width="0.9"/>
<line x1="179.03" y1="248.2" x2="179.03" y2="250" stroke="#111" stroke-width="0.9"/>
<line x1="183.52" y1="248.2" x2="183.52" y2="250" stroke="#111" stroke-width="0.9"/>
<line x1="188.01" y1="248.2" x2="188.01" y2="250" stroke="#111" stroke-width="0.9"/>
<line x1="192.51" y1="248.2" x2="192.51" y2="250" stroke="#111" stroke-width="0.9"/>
<line x1="197" y1="248.2" x2="197" y2="251.4" stroke="#111" stroke-width="0.9"/>
<text x="57.9" y="178.7" class="tk" text-anchor="end">100</text>
<text x="57.9" y="214.6" class="tk" text-anchor="end">50</text>
<text x="57.9" y="250.5" class="tk" text-anchor="end">0</text>
<text x="62.2" y="258.5" class="tk" text-anchor="middle">0</text>
<text x="107.13" y="258.5" class="tk" text-anchor="middle">50</text>
<text x="152.07" y="258.5" class="tk" text-anchor="middle">100</text>
<text x="197" y="258.5" class="tk" text-anchor="middle">150</text>
<text x="129.6" y="266.6" class="ax" text-anchor="middle">Months</text>
<text class="yl" text-anchor="middle" transform="translate(40.8 208.35) rotate(-90)">Probability of Survival</text>
<text x="129.6" y="159" class="ttl" text-anchor="middle">BRAF N</text>
<polyline points="62.2,176.4 72,176.4 72,177 78,177 78,178.5 80,178.5 80,180 85,180 85,181 88,181 88,182 90,182 90,184 93,184 93,186 96,186 96,187 100,187 100,188 103,188 103,189.5 106,189.5 106,192 108,192 108,194.5 111,194.5 111,197.5 116,197.5 116,201 124,201 124,203.5 130,203.5 130,208 135.6,208 135.6,218.9 150.6,218.9 150.6,223.4 156.7,223.4 156.7,235.3 160.3,235.3 160.3,248.2" fill="none" stroke="#222" stroke-width="0.85" stroke-dasharray="0.9,1.0"/>
<polyline points="62.2,176.4 86.8,176.4 86.8,188 137.5,188 137.5,202.5 143.7,202.5 143.7,224.5" fill="none" stroke="#333" stroke-width="0.85"/>
<line x1="216.5" y1="174.4" x2="226.5" y2="174.4" stroke="#222" stroke-width="0.8"/>
<line x1="221.5" y1="172.9" x2="221.5" y2="174.4" stroke="#222" stroke-width="0.8"/>
<line x1="216.5" y1="185" x2="226.5" y2="185" stroke="#666" stroke-width="0.8" stroke-dasharray="1,1"/>
<line x1="221.5" y1="183.5" x2="221.5" y2="185" stroke="#666" stroke-width="0.8"/>
<text x="232" y="176.8" class="lg">BRAF N +</text>
<text x="232" y="187.4" class="lg">BRAF N -</text>
<rect x="212.9" y="197.9" width="34.7" height="20.6" fill="#fff" stroke="#222" stroke-width="1.3"/>
<text x="214.9" y="207.7" class="bx">X<tspan dy="-2.6" font-size="4.2">2</tspan><tspan dy="2.6"> = 0.21</tspan></text>
<text x="214.9" y="215.5" class="bx">&#961; = 0.63</text>
<line x1="61.6" y1="297.22" x2="61.6" y2="378.4" stroke="#111" stroke-width="1.2"/>
<line x1="61" y1="376.2" x2="193.9" y2="376.2" stroke="#111" stroke-width="1.2"/>
<line x1="58.4" y1="376.2" x2="61.6" y2="376.2" stroke="#111" stroke-width="0.9"/>
<line x1="59.8" y1="372.61" x2="61.6" y2="372.61" stroke="#111" stroke-width="0.9"/>
<line x1="59.8" y1="369.02" x2="61.6" y2="369.02" stroke="#111" stroke-width="0.9"/>
<line x1="59.8" y1="365.43" x2="61.6" y2="365.43" stroke="#111" stroke-width="0.9"/>
<line x1="59.8" y1="361.84" x2="61.6" y2="361.84" stroke="#111" stroke-width="0.9"/>
<line x1="59.8" y1="358.25" x2="61.6" y2="358.25" stroke="#111" stroke-width="0.9"/>
<line x1="59.8" y1="354.66" x2="61.6" y2="354.66" stroke="#111" stroke-width="0.9"/>
<line x1="59.8" y1="351.07" x2="61.6" y2="351.07" stroke="#111" stroke-width="0.9"/>
<line x1="59.8" y1="347.48" x2="61.6" y2="347.48" stroke="#111" stroke-width="0.9"/>
<line x1="59.8" y1="343.89" x2="61.6" y2="343.89" stroke="#111" stroke-width="0.9"/>
<line x1="58.4" y1="340.3" x2="61.6" y2="340.3" stroke="#111" stroke-width="0.9"/>
<line x1="59.8" y1="336.71" x2="61.6" y2="336.71" stroke="#111" stroke-width="0.9"/>
<line x1="59.8" y1="333.12" x2="61.6" y2="333.12" stroke="#111" stroke-width="0.9"/>
<line x1="59.8" y1="329.53" x2="61.6" y2="329.53" stroke="#111" stroke-width="0.9"/>
<line x1="59.8" y1="325.94" x2="61.6" y2="325.94" stroke="#111" stroke-width="0.9"/>
<line x1="59.8" y1="322.35" x2="61.6" y2="322.35" stroke="#111" stroke-width="0.9"/>
<line x1="59.8" y1="318.76" x2="61.6" y2="318.76" stroke="#111" stroke-width="0.9"/>
<line x1="59.8" y1="315.17" x2="61.6" y2="315.17" stroke="#111" stroke-width="0.9"/>
<line x1="59.8" y1="311.58" x2="61.6" y2="311.58" stroke="#111" stroke-width="0.9"/>
<line x1="59.8" y1="307.99" x2="61.6" y2="307.99" stroke="#111" stroke-width="0.9"/>
<line x1="58.4" y1="304.4" x2="61.6" y2="304.4" stroke="#111" stroke-width="0.9"/>
<line x1="59.8" y1="300.81" x2="61.6" y2="300.81" stroke="#111" stroke-width="0.9"/>
<line x1="59.8" y1="297.22" x2="61.6" y2="297.22" stroke="#111" stroke-width="0.9"/>
<line x1="61.6" y1="376.2" x2="61.6" y2="379.4" stroke="#111" stroke-width="0.9"/>
<line x1="65.99" y1="376.2" x2="65.99" y2="378" stroke="#111" stroke-width="0.9"/>
<line x1="70.39" y1="376.2" x2="70.39" y2="378" stroke="#111" stroke-width="0.9"/>
<line x1="74.78" y1="376.2" x2="74.78" y2="378" stroke="#111" stroke-width="0.9"/>
<line x1="79.17" y1="376.2" x2="79.17" y2="378" stroke="#111" stroke-width="0.9"/>
<line x1="83.57" y1="376.2" x2="83.57" y2="378" stroke="#111" stroke-width="0.9"/>
<line x1="87.96" y1="376.2" x2="87.96" y2="378" stroke="#111" stroke-width="0.9"/>
<line x1="92.35" y1="376.2" x2="92.35" y2="378" stroke="#111" stroke-width="0.9"/>
<line x1="96.75" y1="376.2" x2="96.75" y2="378" stroke="#111" stroke-width="0.9"/>
<line x1="101.14" y1="376.2" x2="101.14" y2="378" stroke="#111" stroke-width="0.9"/>
<line x1="105.53" y1="376.2" x2="105.53" y2="379.4" stroke="#111" stroke-width="0.9"/>
<line x1="109.93" y1="376.2" x2="109.93" y2="378" stroke="#111" stroke-width="0.9"/>
<line x1="114.32" y1="376.2" x2="114.32" y2="378" stroke="#111" stroke-width="0.9"/>
<line x1="118.71" y1="376.2" x2="118.71" y2="378" stroke="#111" stroke-width="0.9"/>
<line x1="123.11" y1="376.2" x2="123.11" y2="378" stroke="#111" stroke-width="0.9"/>
<line x1="127.5" y1="376.2" x2="127.5" y2="378" stroke="#111" stroke-width="0.9"/>
<line x1="131.89" y1="376.2" x2="131.89" y2="378" stroke="#111" stroke-width="0.9"/>
<line x1="136.29" y1="376.2" x2="136.29" y2="378" stroke="#111" stroke-width="0.9"/>
<line x1="140.68" y1="376.2" x2="140.68" y2="378" stroke="#111" stroke-width="0.9"/>
<line x1="145.07" y1="376.2" x2="145.07" y2="378" stroke="#111" stroke-width="0.9"/>
<line x1="149.47" y1="376.2" x2="149.47" y2="379.4" stroke="#111" stroke-width="0.9"/>
<line x1="153.86" y1="376.2" x2="153.86" y2="378" stroke="#111" stroke-width="0.9"/>
<line x1="158.25" y1="376.2" x2="158.25" y2="378" stroke="#111" stroke-width="0.9"/>
<line x1="162.65" y1="376.2" x2="162.65" y2="378" stroke="#111" stroke-width="0.9"/>
<line x1="167.04" y1="376.2" x2="167.04" y2="378" stroke="#111" stroke-width="0.9"/>
<line x1="171.43" y1="376.2" x2="171.43" y2="378" stroke="#111" stroke-width="0.9"/>
<line x1="175.83" y1="376.2" x2="175.83" y2="378" stroke="#111" stroke-width="0.9"/>
<line x1="180.22" y1="376.2" x2="180.22" y2="378" stroke="#111" stroke-width="0.9"/>
<line x1="184.61" y1="376.2" x2="184.61" y2="378" stroke="#111" stroke-width="0.9"/>
<line x1="189.01" y1="376.2" x2="189.01" y2="378" stroke="#111" stroke-width="0.9"/>
<line x1="193.4" y1="376.2" x2="193.4" y2="379.4" stroke="#111" stroke-width="0.9"/>
<text x="57.3" y="306.7" class="tk" text-anchor="end">100</text>
<text x="57.3" y="342.6" class="tk" text-anchor="end">50</text>
<text x="57.3" y="378.5" class="tk" text-anchor="end">0</text>
<text x="61.6" y="386.5" class="tk" text-anchor="middle">0</text>
<text x="105.53" y="386.5" class="tk" text-anchor="middle">50</text>
<text x="149.47" y="386.5" class="tk" text-anchor="middle">100</text>
<text x="193.4" y="386.5" class="tk" text-anchor="middle">150</text>
<text x="127.5" y="394.6" class="ax" text-anchor="middle">Months</text>
<text class="yl" text-anchor="middle" transform="translate(40.8 336.35) rotate(-90)">Probability of Survival</text>
<text x="127.5" y="287" class="ttl" text-anchor="middle">BRAF NC</text>
<polyline points="61.6,304.4 74,304.4 74,305.5 78,305.5 78,306.5 80,306.5 80,307.5 84,307.5 84,308.5 88,308.5 88,310 90,310 90,311.5 94,311.5 94,313.5 97,313.5 97,314.5 100,314.5 100,316 103,316 103,318 106,318 106,320 110,320 110,322 114,322 114,325 124,325 124,326.5 127,326.5 127,330 133,330 133,333 134,333 134,337 137,337 137,340 141.5,340 141.5,344 148,344 148,349 154.5,349 154.5,363 159,363 159,376" fill="none" stroke="#222" stroke-width="0.85" stroke-dasharray="0.9,1.0"/>
<polyline points="61.6,304.4 72.3,304.4 72.3,313.8 78.3,313.8 78.3,324.3 100.4,324.3 100.4,341.1 106.5,341.1 106.5,358.4 133.7,358.4 133.7,376" fill="none" stroke="#333" stroke-width="0.85"/>
<line x1="213.4" y1="302.4" x2="223.4" y2="302.4" stroke="#222" stroke-width="0.8"/>
<line x1="218.4" y1="300.9" x2="218.4" y2="302.4" stroke="#222" stroke-width="0.8"/>
<line x1="213.4" y1="313" x2="223.4" y2="313" stroke="#666" stroke-width="0.8" stroke-dasharray="1,1"/>
<line x1="218.4" y1="311.5" x2="218.4" y2="313" stroke="#666" stroke-width="0.8"/>
<text x="228" y="304.8" class="lg">BRAF + NC</text>
<text x="228" y="315.4" class="lg">BRAF - NC</text>
<rect x="209" y="325.9" width="38.2" height="20.6" fill="#fff" stroke="#222" stroke-width="1.3"/>
<text x="211" y="335.7" class="bx">X<tspan dy="-2.6" font-size="4.2">2</tspan><tspan dy="2.6"> = 8.624</tspan></text>
<text x="211" y="343.5" class="bx">&#961; = 0.003</text>
<text x="149" y="16" class="big" text-anchor="middle">(1)</text>
<text x="425" y="14.8" class="big" text-anchor="middle">(2)</text>
<text x="12" y="87.3" class="big" text-anchor="middle">(A)</text>
<text x="11.9" y="214.7" class="big" text-anchor="middle">(B)</text>
<text x="11.9" y="343" class="big" text-anchor="middle">(C)</text>
<text x="288.3" y="86.7" class="big" text-anchor="middle">(D)</text>
<text x="287.5" y="214.5" class="big" text-anchor="middle">(E)</text>
<text x="286.6" y="342.3" class="big" text-anchor="middle">(F)</text>
</svg>
</body></html>
